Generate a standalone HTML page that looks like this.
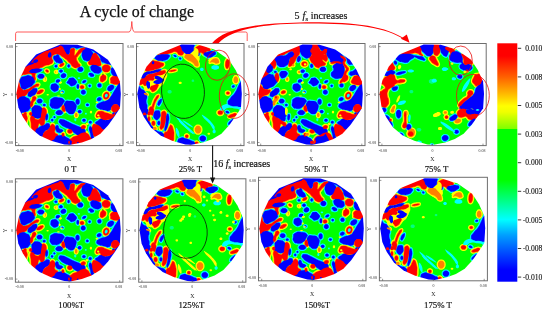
<!DOCTYPE html><html><head><meta charset="utf-8"><title>Figure</title><style>html,body{margin:0;padding:0;background:#fff}svg{display:block}
text{font-family:"Liberation Serif",serif}
.fr{fill:#f00}.fb{fill:#00f}.fy{fill:#ff0}.fc{fill:#0ff}.fg{fill:#0f0}.fo{fill:#ff8000}.fk{fill:#00ff80}
.hr{fill:none;stroke:#ff0;stroke-width:3.2;stroke-linejoin:round}.ir{fill:none;stroke:#ff9000;stroke-width:1.1}
.hb{fill:none;stroke:#0ff;stroke-width:2.6;stroke-linejoin:round}.ib{fill:none;stroke:#00a0ff;stroke-width:.9}
.ho{fill:none;stroke:#ff0;stroke-width:2.6;stroke-linejoin:round}
.tk{font-size:3.9px;fill:#333}.lb{font-size:8.8px;fill:#111;stroke:#111;stroke-width:.18}
.ax{font-size:5.8px;fill:#222}.ay{font-size:5.5px;fill:#333}
.cb{font-size:7.6px;fill:#111;stroke:#111;stroke-width:.12}</style></head><body>
<svg width="550" height="315" viewBox="0 0 550 315">
<defs><filter id="bl" x="-5%" y="-5%" width="110%" height="110%"><feGaussianBlur stdDeviation="0.45"/></filter>
<linearGradient id="cb" x1="0" y1="0" x2="0" y2="1">
<stop offset="0.0000" stop-color="#ff0000"/>
<stop offset="0.0530" stop-color="#ff0000"/>
<stop offset="0.1410" stop-color="#ff6000"/>
<stop offset="0.2170" stop-color="#ffc000"/>
<stop offset="0.2630" stop-color="#ffff00"/>
<stop offset="0.2880" stop-color="#f0ff00"/>
<stop offset="0.3130" stop-color="#c8ff00"/>
<stop offset="0.3380" stop-color="#a0ff00"/>
<stop offset="0.3586" stop-color="#80ff00"/>
<stop offset="0.3610" stop-color="#00ff00"/>
<stop offset="0.5730" stop-color="#00ff00"/>
<stop offset="0.6570" stop-color="#00ff80"/>
<stop offset="0.7390" stop-color="#00ffff"/>
<stop offset="0.8040" stop-color="#00a0ff"/>
<stop offset="0.8750" stop-color="#0050ff"/>
<stop offset="0.9510" stop-color="#0000ff"/>
<stop offset="1.0000" stop-color="#0000ff"/>
</linearGradient>
<path id="a0" d="M16.5 80.2C17.6 76.3 18.2 73.4 21.6 67.5C25 61.5 20.6 67.5 26.7 62.4C32.9 57.3 29.5 58.5 40.1 52.2C50.7 45.8 51.1 45.5 58.5 43.3C66 41.1 60.3 43.4 62.4 45.6C64.4 47.7 63 46.9 64.7 49.6C66.4 52.4 65.5 51.2 67.5 53.7C69.4 56.2 70.6 55.2 70.6 57C70.6 58.8 70 59.2 67.5 59.2C64.9 59.2 66 58.6 63 57C60 55.4 61.6 55.1 58.5 54.5C55.4 53.8 55.9 54 53.7 55.1C51.5 56.3 52.2 55.7 51.9 57.9C51.7 60.1 53.7 59.6 52.9 61.7C52.2 63.9 52 63.2 49.6 64.4C47.3 65.6 48.2 64.4 45.8 65.3C43.5 66.1 44.8 65.9 42.6 66.9C40.5 68 40.3 67.1 39.5 68.3C38.6 69.6 41 69.3 40 70.8C38.9 72.2 38 71.1 36.4 72.7C34.8 74.2 35.5 73.2 35.1 75.3C34.8 77.5 35.8 77.5 35.4 79.2C34.9 80.9 34.7 80.7 33.7 80.4C32.7 80.2 33 80.4 32.3 78.4C31.7 76.4 32.8 76.1 31.8 74.6C30.8 73.1 31.4 73.9 29.3 73.8C27.2 73.8 28 73.9 25.5 74.5C22.9 75 24 73.8 21.6 75.3C19.3 76.9 20.2 77.6 18.5 79.2C16.8 80.8 15.5 84.1 16.5 80.2Z"/>
<path id="a1" d="M38 60.2C38.2 61 38.3 60.8 37.7 61.6C37.1 62.4 37.3 62.3 36.2 62.7C35.1 63.1 35.4 63 34.4 62.8C33.4 62.6 33.6 62.7 33.3 61.9C33.1 61.2 33 61.4 33.6 60.6C34.2 59.8 34 59.9 35.1 59.5C36.2 59.1 35.9 59.1 36.9 59.4C37.8 59.6 37.7 59.5 38 60.2Z"/>
<path id="a2" d="M26.9 63.9C28.7 63 30.7 62.5 32.7 62.5C34.7 62.5 34.7 63 32.9 63.9C31.1 64.8 29.4 65.2 27.3 65.2C25.3 65.2 25.1 64.8 26.9 63.9Z"/>
<path id="a3" d="M29.8 70.7C31.2 69.4 30.8 69.1 34.5 68.7C38.2 68.2 38.7 68.6 41 69.2C43.3 69.9 42.5 69.6 41.4 70.7C40.4 71.7 40.5 71.6 37.9 72.4C35.2 73.1 35.9 73 33.4 73C30.8 73 31.4 73.1 30.2 72.4C29 71.6 28.4 71.9 29.8 70.7Z"/>
<path id="a4" d="M51.3 55.3C51.1 56.5 51.2 56.3 50.5 57.1C49.8 57.8 50 57.8 49.2 57.6C48.4 57.5 48.5 57.6 48.1 56.6C47.7 55.7 47.8 55.9 48 54.7C48.2 53.4 48.1 53.7 48.8 52.9C49.5 52.1 49.3 52.2 50.1 52.3C50.9 52.5 50.7 52.3 51.1 53.3C51.5 54.3 51.5 54 51.3 55.3Z"/>
<path id="a5" d="M24.2 64.3C27.2 59.6 25.5 58.8 36.9 51.5C48.4 44.3 51.1 44.5 58.5 42.6C66 40.8 61.4 44 59.3 46.1C57.2 48.2 59.1 45.9 52.2 48.9C45.3 51.8 46.8 49.5 38.7 55C30.6 60.5 32.8 62.3 28 65.4C23.2 68.5 21.2 68.9 24.2 64.3Z"/>
<path id="a6" d="M53.4 57C53.8 55.3 54.2 55.7 56.2 55.9C58.3 56.1 57.6 55.9 59.6 57.6C61.7 59.2 61.7 59.1 62.4 60.9C63.1 62.8 63.1 62.6 61.6 63.2C60.1 63.8 60.1 63.5 57.9 62.7C55.8 62 56.6 62.8 55.1 60.9C53.6 59 53.1 58.7 53.4 57Z"/>
<path id="a7" d="M44.2 76.4C44.2 77.4 44.4 77.2 43.3 77.9C42.2 78.7 42.5 78.6 41 78.6C39.5 78.6 39.8 78.7 38.7 77.9C37.6 77.2 37.7 77.4 37.7 76.4C37.7 75.3 37.6 75.5 38.7 74.8C39.8 74 39.5 74.1 41 74.1C42.5 74.1 42.2 74 43.3 74.8C44.4 75.5 44.2 75.3 44.2 76.4Z"/>
<path id="a8" d="M57.3 66.2C57.3 66.7 57.4 66.6 57 67C56.5 67.3 56.6 67.3 56 67.3C55.4 67.3 55.5 67.3 55.1 67C54.6 66.6 54.7 66.7 54.7 66.2C54.7 65.7 54.6 65.8 55.1 65.4C55.5 65 55.4 65.1 56 65.1C56.6 65.1 56.5 65 57 65.4C57.4 65.8 57.3 65.7 57.3 66.2Z"/>
<path id="a9" d="M62.7 71C62.7 71.7 62.7 71.5 62.2 72C61.7 72.4 61.8 72.4 61.1 72.4C60.4 72.4 60.5 72.4 60 72C59.5 71.5 59.5 71.7 59.5 71C59.5 70.4 59.5 70.5 60 70.1C60.5 69.6 60.4 69.7 61.1 69.7C61.8 69.7 61.7 69.6 62.2 70.1C62.7 70.5 62.7 70.4 62.7 71Z"/>
<path id="a10" d="M65.9 75.3C65.9 76.2 66 76.1 65.3 76.7C64.6 77.3 64.8 77.3 63.9 77.3C62.9 77.3 63.1 77.3 62.5 76.7C61.8 76.1 61.9 76.2 61.9 75.3C61.9 74.4 61.8 74.6 62.5 74C63.1 73.4 62.9 73.4 63.9 73.4C64.8 73.4 64.6 73.4 65.3 74C66 74.6 65.9 74.4 65.9 75.3Z"/>
<path id="a11" d="M59.7 80.9C59.7 81.6 59.8 81.4 59.2 81.9C58.6 82.3 58.8 82.3 57.9 82.3C57.1 82.3 57.2 82.3 56.6 81.9C56 81.4 56.1 81.6 56.1 80.9C56.1 80.3 56 80.4 56.6 80C57.2 79.5 57.1 79.6 57.9 79.6C58.8 79.6 58.6 79.5 59.2 80C59.8 80.4 59.7 80.3 59.7 80.9Z"/>
<path id="a12" d="M63.6 63.6C63.8 64 63.9 63.9 63.4 64.6C63 65.3 63.2 65.1 62.3 65.7C61.4 66.3 61.6 66.2 60.8 66.4C60 66.6 60.2 66.6 59.9 66.2C59.6 65.8 59.6 65.9 60 65.2C60.4 64.5 60.3 64.7 61.1 64.1C62 63.5 61.8 63.6 62.6 63.4C63.4 63.3 63.3 63.2 63.6 63.6Z"/>
<path id="a13" d="M48.4 71.8C48.2 72.2 48.3 72.2 47.7 72.2C47.1 72.2 47.2 72.3 46.6 71.9C45.9 71.5 46.1 71.6 45.8 71.1C45.5 70.5 45.5 70.6 45.7 70.2C46 69.8 45.9 69.9 46.5 69.8C47.1 69.8 47 69.8 47.6 70.1C48.2 70.5 48.1 70.4 48.4 71C48.7 71.5 48.7 71.4 48.4 71.8Z"/>
<path id="a14" d="M57.5 71.9C57.5 72.4 57.6 72.3 57.2 72.6C56.7 73 56.9 72.9 56.3 72.9C55.7 72.9 55.8 73 55.4 72.6C54.9 72.3 55 72.4 55 71.9C55 71.4 54.9 71.5 55.4 71.2C55.8 70.9 55.7 70.9 56.3 70.9C56.9 70.9 56.7 70.9 57.2 71.2C57.6 71.5 57.5 71.4 57.5 71.9Z"/>
<path id="a15" d="M45.9 79.2C45.9 79.9 46 79.8 45.6 80.3C45.3 80.9 45.4 80.8 44.9 80.8C44.4 80.8 44.5 80.9 44.2 80.3C43.9 79.8 43.9 79.9 43.9 79.2C43.9 78.4 43.9 78.5 44.2 78C44.5 77.4 44.4 77.5 44.9 77.5C45.4 77.5 45.3 77.4 45.6 78C46 78.5 45.9 78.4 45.9 79.2Z"/>
<path id="a16" d="M61.1 52.8C61.7 51.9 63.3 52.8 65.5 53.5C67.8 54.1 66.3 54.8 67.7 54.7C69.1 54.6 68.9 54.9 69.7 53.2C70.6 51.5 69.4 51.2 70.3 49.6C71.1 48 70.8 48.6 72.3 48.4C73.7 48.1 73.8 47.8 74.6 48.9C75.3 49.9 74.6 49.4 74.6 51.5C74.6 53.7 73.8 54.9 74.6 55.4C75.4 55.8 75.3 54.7 77 52.8C78.7 50.9 77.6 51.3 79.5 49.6C81.5 48 80.6 48.3 82.7 47.9C84.9 47.4 85.4 47.5 86 48.4C86.7 49.2 86.4 48.9 84.6 50.4C82.9 51.9 83.2 50.9 80.8 52.8C78.5 54.8 79.1 54.3 77.6 56.3C76.2 58.2 76.3 56.5 76.4 58.5C76.4 60.6 76.6 60 77.9 62.4C79.2 64.7 80.3 63.8 80.2 65.5C80.1 67.2 79.8 66.9 77.6 67.5C75.5 68 76.3 68.5 73.8 67.2C71.4 65.9 72.6 66.1 70.3 63.6C67.9 61.2 69 62.3 66.8 59.8C64.6 57.4 65.5 58.6 63.6 56.3C61.7 53.9 60.5 53.8 61.1 52.8Z"/>
<path id="a17" d="M61.1 43C68.8 41.8 78.1 42.8 86.5 44C95 45.2 88.2 45.5 86.5 46.6C84.8 47.7 84.5 46.8 81.5 47.3C78.4 47.9 79.5 48.2 77.4 48.4C75.3 48.5 76.6 48.1 75.1 47.9C73.6 47.6 74.4 47.2 72.8 47.6C71.2 48 71.4 47.2 70.3 49C69.2 50.8 70.4 51.2 69.5 52.9C68.6 54.7 68.8 54.6 67.5 54.2C66.1 53.8 66.8 53.8 65.4 51.7C64.1 49.5 64.8 50.6 63.4 47.7C61.9 44.8 53.4 44.2 61.1 43Z"/>
<path id="a18" d="M82.1 52.8C82.6 50 82.3 50.9 84.3 49.4C86.2 47.9 85.4 47.9 87.8 48.4C90.2 48.8 89.6 48.5 91.4 50.7C93.2 52.8 92.9 52 93.2 54.7C93.5 57.4 93.5 56.8 92.3 58.8C91 60.8 91.6 60.2 89.3 60.8C87.1 61.4 87.7 61.6 85.5 60.6C83.3 59.6 83.9 60.5 82.7 57.9C81.6 55.3 81.6 55.7 82.1 52.8Z"/>
<path id="a19" d="M94.2 53.2C96.6 52.3 95.8 52.9 98 56C100.2 59.1 100.3 59.1 100.8 62.4C101.3 65.7 101.7 65 99.5 65.9C97.3 66.9 97.7 65.8 94.2 65.2C90.6 64.5 90 66 88.8 63.9C87.6 61.8 88.8 62.4 90.6 58.8C92.4 55.2 91.7 54.1 94.2 53.2Z"/>
<path id="a20" d="M85.5 45.8C89.3 46.7 90.4 47 98 50.9C105.6 54.8 103.6 53.2 108.4 57.5C113.3 61.9 112.3 61.6 112.6 63.9C113 66.2 112 64.8 109.5 64.5C106.9 64.3 107.7 64.3 105 63.1C102.3 62 103.1 63.4 101.3 61.1C99.5 58.8 101.4 59 99.5 56.3C97.7 53.5 98.3 54.9 95.7 52.9C93.1 51 94.7 51.9 91.6 50.4C88.6 48.9 88.6 49.9 86.5 48.4C84.5 46.8 81.7 45 85.5 45.8Z"/>
<path id="a21" d="M110.3 68.3C110.3 70 110.5 69.7 109.1 70.9C107.8 72.1 108.2 71.9 106.3 71.9C104.4 71.9 104.8 72.1 103.4 70.9C102.1 69.7 102.2 70 102.2 68.3C102.2 66.7 102.1 67 103.4 65.8C104.8 64.6 104.4 64.8 106.3 64.8C108.2 64.8 107.8 64.6 109.1 65.8C110.5 67 110.3 66.7 110.3 68.3Z"/>
<path id="a22" d="M91.2 66C92.4 64.7 91.8 64.7 94.4 64.9C96.9 65 96.5 65 98.8 66.5C101.2 68 100.9 67.3 101.3 69.3C101.7 71.4 101.7 71.4 100 72.7C98.2 74 98.5 73.6 96 73.3C93.6 72.9 94.4 73.1 92.7 71.6C90.9 70.1 91.3 70.6 90.8 68.8C90.3 66.9 90 67.3 91.2 66Z"/>
<path id="a23" d="M112.1 67.9C113.9 67.2 114.1 65 116.8 68.6C119.5 72.3 120.8 76.1 120.1 78.7C119.5 81.4 117.5 78.3 114.8 76.6C112 74.9 113 75.7 111.8 73.7C110.7 71.7 111.1 72.5 111.2 70.5C111.3 68.6 110.2 68.5 112.1 67.9Z"/>
<path id="a24" d="M111.5 77.4C112.9 76.7 112.3 77.1 115.2 78C118.1 78.8 118.2 78.1 120.2 80C122.3 81.9 124 82.4 121.4 83.6C118.7 84.8 115.8 84.7 112.4 83.6C109 82.5 111.4 82.3 111.1 80.2C110.8 78.2 110.1 78.2 111.5 77.4Z"/>
<path id="a25" d="M104.7 74.6C104.7 75.5 104.8 75.3 104.2 76C103.6 76.7 103.7 76.6 102.8 76.6C101.9 76.6 102.1 76.7 101.5 76C100.9 75.3 100.9 75.5 100.9 74.6C100.9 73.6 100.9 73.8 101.5 73.1C102.1 72.5 101.9 72.5 102.8 72.5C103.7 72.5 103.6 72.5 104.2 73.1C104.8 73.8 104.7 73.6 104.7 74.6Z"/>
<path id="a26" d="M103.9 74.6C103.9 75.1 103.9 75 103.6 75.4C103.2 75.8 103.3 75.7 102.8 75.7C102.4 75.7 102.5 75.8 102.1 75.4C101.8 75 101.8 75.1 101.8 74.6C101.8 74 101.8 74.2 102.1 73.8C102.5 73.4 102.4 73.4 102.8 73.4C103.3 73.4 103.2 73.4 103.6 73.8C103.9 74.2 103.9 74 103.9 74.6Z"/>
<path id="a27" d="M104 78C103.7 79.2 103.8 78.9 103.1 79.6C102.4 80.3 102.5 80.2 101.8 80C101.1 79.8 101.2 80 100.9 79C100.6 78.1 100.6 78.4 100.9 77.2C101.2 76.1 101.1 76.3 101.8 75.7C102.6 75 102.4 75.1 103.1 75.3C103.8 75.4 103.7 75.3 104 76.2C104.3 77.2 104.3 76.9 104 78Z"/>
<path id="a28" d="M83.1 69.4C83.1 70.5 83.2 70.2 82.3 71C81.4 71.8 81.7 71.7 80.4 71.7C79.2 71.7 79.4 71.8 78.5 71C77.6 70.2 77.7 70.5 77.7 69.4C77.7 68.3 77.6 68.5 78.5 67.7C79.4 66.9 79.2 67 80.4 67C81.7 67 81.4 66.9 82.3 67.7C83.2 68.5 83.1 68.3 83.1 69.4Z"/>
<path id="a29" d="M65.8 74.8C66.1 75.8 66.2 75.6 65.6 76.5C65 77.5 65.3 77.3 64.1 77.7C63 78.1 63.2 78.1 62.2 77.8C61.1 77.4 61.3 77.6 61 76.6C60.6 75.7 60.6 75.9 61.2 74.9C61.7 74 61.5 74.1 62.7 73.7C63.8 73.3 63.5 73.3 64.6 73.7C65.6 74.1 65.5 73.9 65.8 74.8Z"/>
<path id="a30" d="M68.5 80.3C69.6 78.4 69.3 78.3 71.3 78C73.4 77.7 73.2 77.5 74.7 79.4C76.2 81.3 78 82.2 75.8 83.6C73.6 85.1 70.4 84.8 68 83.6C65.5 82.5 67.4 82.1 68.5 80.3Z"/>
<path id="a31" d="M93.6 75.7C93.3 76.5 93.4 76.3 92.5 76.6C91.5 76.9 91.7 76.9 90.6 76.5C89.6 76.1 89.8 76.3 89.2 75.4C88.6 74.6 88.7 74.8 88.9 74C89.2 73.2 89.1 73.3 90.1 73.1C91 72.8 90.8 72.8 91.9 73.2C93 73.6 92.8 73.4 93.3 74.2C93.9 75.1 93.9 74.9 93.6 75.7Z"/>
<path id="a32" d="M63.8 63.7C64 64.2 64.1 64 63.6 64.8C63.1 65.5 63.2 65.3 62.3 65.9C61.3 66.4 61.5 66.4 60.7 66.4C59.8 66.5 60 66.5 59.7 66.1C59.4 65.6 59.4 65.8 59.9 65.1C60.4 64.3 60.2 64.5 61.2 63.9C62.1 63.4 61.9 63.5 62.8 63.4C63.6 63.3 63.5 63.3 63.8 63.7Z"/>
<path id="a33" d="M69.8 65.9C69.8 66.6 69.9 66.5 69.5 67C69.1 67.4 69.3 67.4 68.7 67.4C68.2 67.4 68.3 67.4 67.9 67C67.6 66.5 67.6 66.6 67.6 65.9C67.6 65.2 67.6 65.4 67.9 64.9C68.3 64.4 68.2 64.5 68.7 64.5C69.3 64.5 69.1 64.4 69.5 64.9C69.9 65.4 69.8 65.2 69.8 65.9Z"/>
<path id="a34" d="M62.3 71.3C62.3 71.8 62.4 71.7 61.9 72.1C61.4 72.4 61.5 72.4 60.8 72.4C60.2 72.4 60.3 72.4 59.8 72.1C59.3 71.7 59.4 71.8 59.4 71.3C59.4 70.7 59.3 70.9 59.8 70.5C60.3 70.1 60.2 70.2 60.8 70.2C61.5 70.2 61.4 70.1 61.9 70.5C62.4 70.9 62.3 70.7 62.3 71.3Z"/>
<path id="a35" d="M59.3 57.5C59.3 59 59.4 58.7 58.8 59.7C58.2 60.8 58.4 60.7 57.5 60.7C56.7 60.7 56.9 60.8 56.3 59.7C55.7 58.7 55.7 59 55.7 57.5C55.7 56 55.7 56.4 56.3 55.3C56.9 54.3 56.7 54.4 57.5 54.4C58.4 54.4 58.2 54.3 58.8 55.3C59.4 56.4 59.3 56 59.3 57.5Z"/>
<path id="a36" d="M57.8 71.9C57.8 72.5 57.8 72.4 57.5 72.8C57.1 73.2 57.2 73.2 56.8 73.2C56.3 73.2 56.4 73.2 56 72.8C55.7 72.4 55.7 72.5 55.7 71.9C55.7 71.3 55.7 71.4 56 71C56.4 70.6 56.3 70.6 56.8 70.6C57.2 70.6 57.1 70.6 57.5 71C57.8 71.4 57.8 71.3 57.8 71.9Z"/>
<path id="a37" d="M15.9 73.7C17.5 65.4 19 71.4 20.1 74.4C21.3 77.3 18.8 78 19.3 82.6C19.9 87.3 19.2 86 21.6 88.4C24.1 90.7 22.9 90.5 26.7 89.6C30.5 88.8 29.5 87.7 33.1 85.8C36.7 83.9 35.8 83.9 37.5 83.9C39.3 83.9 39.5 84.5 38.4 85.8C37.4 87.1 37.4 85.8 34.4 87.7C31.3 89.6 32.2 89 29.3 91.5C26.3 94.1 28 93.6 25.5 95.4C22.9 97.1 24.2 95.5 21.6 96.9C19.1 98.2 19.9 98.6 17.8 99.4C15.7 100.3 15.9 108 15.3 99.4C14.6 90.9 14.3 82.1 15.9 73.7Z"/>
<path id="a38" d="M20.4 79.1C21.8 76.3 21.4 77.3 24.8 76.3C28.2 75.3 27.4 74.7 30.5 76C33.7 77.3 33.5 77.2 34.4 80.1C35.2 82.9 35.2 82 33.1 84.5C31 87.1 31.4 86.2 28 87.7C24.6 89.2 25.5 90.1 22.9 89C20.4 87.9 21.2 87.9 20.4 84.5C19.5 81.2 18.9 81.8 20.4 79.1Z"/>
<path id="a39" d="M28 93.9C28.4 91.9 28.6 92.4 30.8 90.6C33.1 88.7 32.6 88.5 34.7 88.3C36.9 88.1 36.8 88.3 37.2 90C37.6 91.7 37.2 91.5 35.9 93.4C34.5 95.2 35.1 94.5 33.1 95.6C31 96.7 31.4 97.3 29.7 96.7C28 96.2 27.6 96 28 93.9Z"/>
<path id="a40" d="M15.3 99.8C16.1 93.9 15.7 100.2 17.8 99.2C19.9 98.1 18.7 97.1 21.6 96.6C24.6 96.1 24 96.4 26.7 97.7C29.5 98.9 28.6 97.8 29.9 100.5C31.3 103.1 31.1 102.4 30.8 105.5C30.5 108.7 30.9 107.8 28.9 110C26.9 112.2 27.2 111.1 24.8 112.2C22.4 113.2 22.3 111.6 21.6 113.2C21 114.8 25 115.7 22.9 117C20.8 118.3 17.8 122.7 15.3 117C12.7 111.3 14.4 105.8 15.3 99.8Z"/>
<path id="a41" d="M33.1 106.8C34.8 105.1 34.2 105.3 36.9 105.5C39.7 105.8 39 105.3 41.4 107.5C43.7 109.6 43.4 108.7 43.9 111.9C44.5 115.1 46.6 115.3 43 117C39.4 118.7 36.8 119.1 33.1 117C29.4 114.9 31.8 114 31.8 110.6C31.8 107.2 31.4 108.5 33.1 106.8Z"/>
<path id="a42" d="M42.3 108.8C42.9 107.5 43.7 107.3 45.1 108.4C46.4 109.4 46.2 109.3 46.4 112C46.6 114.7 46.9 115 45.6 116.5C44.3 117.9 43.3 117.8 42.5 116.5C41.7 115.1 43.2 115.1 43.2 112.5C43.1 110 41.6 110.2 42.3 108.8Z"/>
<path id="a43" d="M33.1 96.7C34.4 95.7 35.1 96.1 35.9 97.2C36.6 98.3 36.2 98.3 35.3 100C34.4 101.7 34.2 100.4 33.3 102.3C32.4 104.1 33.6 104.2 32.6 105.6C31.6 107 31.2 107.1 30.4 106.4C29.6 105.7 29.7 105.5 30.3 103.4C30.8 101.2 31 102.3 31.9 100C32.9 97.8 31.8 97.6 33.1 96.7Z"/>
<path id="a44" d="M43.3 90.2C43.6 90.9 43.6 90.7 42.8 91.6C42 92.6 42.3 92.4 40.8 93.2C39.3 94 39.6 93.9 38.3 94C37.1 94.2 37.2 94.2 36.9 93.6C36.6 93 36.5 93.2 37.4 92.2C38.2 91.2 37.9 91.4 39.4 90.6C40.9 89.8 40.6 90 41.8 89.8C43.1 89.7 42.9 89.6 43.3 90.2Z"/>
<path id="a45" d="M42.3 101.1C42.3 102.1 42.4 101.9 41.5 102.7C40.7 103.4 40.9 103.3 39.7 103.3C38.5 103.3 38.7 103.4 37.9 102.7C37 101.9 37.1 102.1 37.1 101.1C37.1 100 37 100.3 37.9 99.5C38.7 98.8 38.5 98.9 39.7 98.9C40.9 98.9 40.7 98.8 41.5 99.5C42.4 100.3 42.3 100 42.3 101.1Z"/>
<path id="a46" d="M45.6 105C45.6 105.6 45.7 105.5 45.2 105.8C44.8 106.2 44.9 106.2 44.3 106.2C43.7 106.2 43.8 106.2 43.3 105.8C42.9 105.5 42.9 105.6 42.9 105C42.9 104.5 42.9 104.6 43.3 104.2C43.8 103.9 43.7 103.9 44.3 103.9C44.9 103.9 44.8 103.9 45.2 104.2C45.7 104.6 45.6 104.5 45.6 105Z"/>
<path id="a47" d="M50.8 86.6C51.2 84.3 51.4 84.3 53.6 83.8C55.9 83.2 55.9 83.4 57.6 84.9C59.2 86.4 58.9 86.2 58.6 88.3C58.2 90.3 58.4 90.3 56.4 91.1C54.4 91.8 54.4 92.1 52.5 90.6C50.6 89.1 50.5 88.9 50.8 86.6Z"/>
<path id="a48" d="M59.9 80C60.1 80.5 60.2 80.4 59.7 81C59.3 81.7 59.5 81.6 58.6 82.1C57.7 82.6 57.9 82.5 57.1 82.5C56.3 82.6 56.5 82.6 56.2 82.2C55.9 81.7 55.9 81.9 56.3 81.2C56.8 80.5 56.6 80.6 57.5 80.1C58.3 79.6 58.1 79.7 58.9 79.7C59.7 79.6 59.6 79.6 59.9 80Z"/>
<path id="a49" d="M52.2 98.5C54.9 97 54.6 97.2 58.5 97.7C62.4 98.1 62.4 97.8 63.9 99.8C65.4 101.8 64.5 101.1 63.1 103.6C61.8 106.2 62.6 105.8 59.8 107.5C57 109.2 57.7 108.9 54.7 108.7C51.8 108.5 52.4 108.9 50.9 106.8C49.4 104.7 49.8 105.1 50.3 102.4C50.7 99.6 49.4 100.1 52.2 98.5Z"/>
<path id="a50" d="M64.9 102.4C66.6 100 66.6 100.8 70 101.1C73.4 101.4 73.1 100.7 75.1 103.3C77.1 105.8 76.7 105.8 76 108.7C75.2 111.7 75.6 111 72.8 112.2C70 113.3 70.3 113.5 67.7 112.2C65.1 110.8 65.8 111.4 64.9 108.1C64 104.8 63.2 104.7 64.9 102.4Z"/>
<path id="a51" d="M63.1 105.4C64.1 105 64.6 106 65 108.2C65.4 110.3 65.3 111.4 64.3 111.7C63.3 112.1 62.4 111.4 61.9 109.3C61.5 107.1 62.1 105.7 63.1 105.4Z"/>
<path id="a52" d="M68.6 80.3C69.2 78.1 69.2 78.3 71.4 78.1C73.6 77.9 73.8 78.1 75.3 79.8C76.9 81.4 76.9 81.1 76.1 83.1C75.4 85.1 75.2 85.1 73.1 85.7C71 86.3 71.2 86.6 69.7 84.8C68.2 83 68 82.6 68.6 80.3Z"/>
<path id="a53" d="M79.1 86.5C79.1 87.5 79.2 87.3 78.8 88C78.4 88.8 78.5 88.7 77.9 88.7C77.3 88.7 77.4 88.8 77 88C76.6 87.3 76.7 87.5 76.7 86.5C76.7 85.4 76.6 85.6 77 84.9C77.4 84.1 77.3 84.2 77.9 84.2C78.5 84.2 78.4 84.1 78.8 84.9C79.2 85.6 79.1 85.4 79.1 86.5Z"/>
<path id="a54" d="M84 87.1C84 87.9 84.1 87.7 83.4 88.3C82.8 88.8 83 88.8 82.1 88.8C81.2 88.8 81.4 88.8 80.7 88.3C80.1 87.7 80.2 87.9 80.2 87.1C80.2 86.3 80.1 86.5 80.7 85.9C81.4 85.3 81.2 85.4 82.1 85.4C83 85.4 82.8 85.3 83.4 85.9C84.1 86.5 84 86.3 84 87.1Z"/>
<path id="a55" d="M79.5 101.7C79.5 103 79.6 102.8 79 103.7C78.3 104.6 78.5 104.5 77.6 104.5C76.7 104.5 76.9 104.6 76.3 103.7C75.7 102.8 75.7 103 75.7 101.7C75.7 100.4 75.7 100.7 76.3 99.7C76.9 98.8 76.7 98.9 77.6 98.9C78.5 98.9 78.3 98.8 79 99.7C79.6 100.7 79.5 100.4 79.5 101.7Z"/>
<path id="a56" d="M81.2 111.7C81.2 112.3 81.3 112.2 80.7 112.6C80.2 113.1 80.3 113 79.5 113C78.8 113 78.9 113.1 78.4 112.6C77.8 112.2 77.9 112.3 77.9 111.7C77.9 111 77.8 111.2 78.4 110.7C78.9 110.3 78.8 110.3 79.5 110.3C80.3 110.3 80.2 110.3 80.7 110.7C81.3 111.2 81.2 111 81.2 111.7Z"/>
<path id="a57" d="M62.5 112.8C62.5 113.8 62.7 113.6 61.6 114.2C60.4 114.9 60.8 114.8 59.2 114.8C57.6 114.8 57.9 114.9 56.8 114.2C55.7 113.6 55.8 113.8 55.8 112.8C55.8 111.9 55.7 112 56.8 111.4C57.9 110.7 57.6 110.8 59.2 110.8C60.8 110.8 60.4 110.7 61.6 111.4C62.7 112 62.5 111.9 62.5 112.8Z"/>
<path id="a58" d="M63.5 91.9C63.5 92.4 63.5 92.3 63.2 92.6C62.8 93 62.9 92.9 62.4 92.9C61.8 92.9 61.9 93 61.6 92.6C61.2 92.3 61.2 92.4 61.2 91.9C61.2 91.5 61.2 91.6 61.6 91.2C61.9 90.9 61.8 90.9 62.4 90.9C62.9 90.9 62.8 90.9 63.2 91.2C63.5 91.6 63.5 91.5 63.5 91.9Z"/>
<path id="a59" d="M45.4 79.5C45.4 80.1 45.5 80 45.2 80.4C44.9 80.9 45 80.9 44.5 80.9C44.1 80.9 44.2 80.9 43.9 80.4C43.6 80 43.7 80.1 43.7 79.5C43.7 78.8 43.6 78.9 43.9 78.5C44.2 78 44.1 78.1 44.5 78.1C45 78.1 44.9 78 45.2 78.5C45.5 78.9 45.4 78.8 45.4 79.5Z"/>
<path id="a60" d="M48.9 94.7C48.9 95.1 48.9 95 48.5 95.3C48.2 95.5 48.3 95.5 47.7 95.5C47.2 95.5 47.3 95.5 46.9 95.3C46.5 95 46.6 95.1 46.6 94.7C46.6 94.4 46.5 94.4 46.9 94.2C47.3 93.9 47.2 94 47.7 94C48.3 94 48.2 93.9 48.5 94.2C48.9 94.4 48.9 94.4 48.9 94.7Z"/>
<path id="a61" d="M61.6 82C61.8 82.4 61.8 82.3 61.5 82.7C61.3 83.2 61.4 83.1 60.9 83.4C60.4 83.7 60.5 83.7 60 83.6C59.5 83.6 59.6 83.6 59.4 83.3C59.1 82.9 59.1 83 59.4 82.5C59.6 82.1 59.5 82.2 60 81.9C60.5 81.6 60.4 81.6 60.9 81.6C61.4 81.7 61.3 81.6 61.6 82Z"/>
<path id="a62" d="M59.8 96C59.8 96.3 59.9 96.2 59.4 96.5C59 96.7 59.1 96.6 58.5 96.6C57.9 96.6 58.1 96.7 57.6 96.5C57.2 96.2 57.3 96.3 57.3 96C57.3 95.7 57.2 95.8 57.6 95.6C58.1 95.3 57.9 95.4 58.5 95.4C59.1 95.4 59 95.3 59.4 95.6C59.9 95.8 59.8 95.7 59.8 96Z"/>
<path id="a63" d="M32.3 113.8C32.3 114.6 32.3 114.4 31.8 114.9C31.3 115.5 31.5 115.4 30.8 115.4C30.1 115.4 30.3 115.5 29.8 114.9C29.3 114.4 29.3 114.6 29.3 113.8C29.3 113.1 29.3 113.2 29.8 112.7C30.3 112.2 30.1 112.3 30.8 112.3C31.5 112.3 31.3 112.2 31.8 112.7C32.3 113.2 32.3 113.1 32.3 113.8Z"/>
<path id="a64" d="M26.5 113.8C26.5 114.6 26.6 114.4 26.2 114.9C25.7 115.5 25.8 115.4 25.2 115.4C24.6 115.4 24.7 115.5 24.2 114.9C23.8 114.4 23.9 114.6 23.9 113.8C23.9 113.1 23.8 113.2 24.2 112.7C24.7 112.2 24.6 112.3 25.2 112.3C25.8 112.3 25.7 112.2 26.2 112.7C26.6 113.2 26.5 113.1 26.5 113.8Z"/>
<path id="a65" d="M122.2 81.4C121.3 73.9 121.3 80.9 119.6 82.6C117.9 84.3 119 83.5 117.1 86.5C115.2 89.4 116 88.2 113.9 91.5C111.8 94.9 113.1 93.7 110.7 96.6C108.4 99.6 110.3 98.5 106.9 100.5C103.5 102.4 103.9 100.7 100.5 102.4C97.2 104.1 97.2 103.4 96.7 105.5C96.3 107.7 96.7 107.2 99.3 108.7C101.8 110.2 101 109.4 104.4 110C107.8 110.6 106.9 111.7 109.5 110.6C112 109.6 109.9 108.9 112 106.8C114.1 104.7 112.4 104.9 115.8 104.3C119.2 103.6 120.1 112.5 122.2 104.9C124.3 97.3 123 88.8 122.2 81.4Z"/>
<path id="a66" d="M111.2 77.9C112.5 76.4 112.1 76.4 114.6 76.3C117.1 76.2 116.7 75.8 118.7 77.6C120.8 79.5 121.7 79.6 120.7 81.8C119.8 83.9 118.7 83.7 115.9 84.1C113.1 84.5 114.1 84.2 112.3 83C110.6 81.9 111 82.4 110.7 80.7C110.3 78.9 109.9 79.3 111.2 77.9Z"/>
<path id="a67" d="M100.3 79.3C100.5 77.2 100.5 76.6 102 75.2C103.5 73.8 103.4 74.2 104.8 75.2C106.1 76.2 106.3 76.3 106 78.2C105.7 80.2 105.3 79.9 103.8 81C102.2 82.2 102.6 82.2 101.4 81.7C100.2 81.1 100.1 81.5 100.3 79.3Z"/>
<path id="a68" d="M113.7 85.9C114.3 86.9 114.3 86.6 113.8 88C113.3 89.3 113.5 89 112.1 90C110.8 91 111.1 90.9 109.7 90.9C108.2 90.9 108.5 91 107.8 90C107.1 89.1 107.1 89.4 107.7 88C108.2 86.7 107.9 86.9 109.3 86C110.7 85 110.4 85.1 111.8 85.1C113.3 85.1 113 85 113.7 85.9Z"/>
<path id="a69" d="M108.9 96.6C108.3 98.2 108.6 97.9 107.3 98.7C106 99.5 106.3 99.4 105 99C103.8 98.5 104 98.8 103.5 97.3C103.1 95.9 103.1 96.2 103.6 94.7C104.2 93.1 104 93.4 105.3 92.6C106.6 91.8 106.3 91.8 107.5 92.3C108.7 92.7 108.5 92.5 109 93.9C109.5 95.4 109.5 95 108.9 96.6Z"/>
<path id="a70" d="M107.6 96.1C107.3 96.9 107.4 96.8 106.7 97.2C106.1 97.7 106.2 97.6 105.6 97.4C105 97.2 105.1 97.3 104.9 96.5C104.7 95.8 104.7 96 105 95.1C105.3 94.3 105.1 94.4 105.8 94C106.5 93.6 106.3 93.6 106.9 93.8C107.5 94.1 107.4 93.9 107.7 94.7C107.9 95.4 107.9 95.3 107.6 96.1Z"/>
<path id="a71" d="M119.5 108.3C119.5 110.2 119.6 109.9 118.3 111.2C116.9 112.5 117.3 112.4 115.4 112.4C113.5 112.4 113.9 112.5 112.6 111.2C111.2 109.9 111.4 110.2 111.4 108.3C111.4 106.4 111.2 106.8 112.6 105.5C113.9 104.2 113.5 104.3 115.4 104.3C117.3 104.3 116.9 104.2 118.3 105.5C119.6 106.8 119.5 106.4 119.5 108.3Z"/>
<path id="a72" d="M104 113.6C104 114.4 104.1 114.2 103.2 114.8C102.2 115.4 102.5 115.4 101.2 115.4C99.9 115.4 100.1 115.4 99.2 114.8C98.3 114.2 98.4 114.4 98.4 113.6C98.4 112.7 98.3 112.9 99.2 112.3C100.1 111.7 99.9 111.8 101.2 111.8C102.5 111.8 102.2 111.7 103.2 112.3C104.1 112.9 104 112.7 104 113.6Z"/>
<path id="a73" d="M115.5 113.8C115.5 114.5 115.5 114.3 115 114.8C114.5 115.2 114.6 115.2 113.9 115.2C113.2 115.2 113.3 115.2 112.8 114.8C112.3 114.3 112.3 114.5 112.3 113.8C112.3 113.2 112.3 113.3 112.8 112.9C113.3 112.4 113.2 112.5 113.9 112.5C114.6 112.5 114.5 112.4 115 112.9C115.5 113.3 115.5 113.2 115.5 113.8Z"/>
<path id="a74" d="M101.4 98.4C101.6 99.2 101.7 99 101.2 99.8C100.7 100.5 100.8 100.4 99.8 100.8C98.9 101.1 99.1 101.1 98.2 100.8C97.3 100.6 97.4 100.7 97.2 99.9C96.9 99.2 96.9 99.4 97.4 98.6C97.9 97.8 97.7 98 98.7 97.6C99.7 97.2 99.5 97.3 100.4 97.5C101.2 97.8 101.1 97.7 101.4 98.4Z"/>
<path id="a75" d="M101.4 85.4C101.4 86.3 101.5 86.1 100.9 86.8C100.2 87.4 100.4 87.3 99.5 87.3C98.6 87.3 98.8 87.4 98.2 86.8C97.5 86.1 97.6 86.3 97.6 85.4C97.6 84.5 97.5 84.7 98.2 84.1C98.8 83.5 98.6 83.5 99.5 83.5C100.4 83.5 100.2 83.5 100.9 84.1C101.5 84.7 101.4 84.5 101.4 85.4Z"/>
<path id="a76" d="M85.6 92.2C85.6 93.2 85.7 93 84.9 93.8C84.2 94.5 84.4 94.4 83.4 94.4C82.3 94.4 82.5 94.5 81.8 93.8C81 93 81.1 93.2 81.1 92.2C81.1 91.1 81 91.3 81.8 90.6C82.5 89.9 82.3 89.9 83.4 89.9C84.4 89.9 84.2 89.9 84.9 90.6C85.7 91.3 85.6 91.1 85.6 92.2Z"/>
<path id="a77" d="M86 80.6C86.3 81.1 86.3 80.9 85.9 81.6C85.5 82.3 85.6 82.1 84.8 82.6C84 83.1 84.2 83 83.4 83C82.6 83 82.8 83.1 82.5 82.6C82.2 82.2 82.2 82.3 82.6 81.6C83 81 82.9 81.1 83.7 80.6C84.5 80.2 84.3 80.2 85.1 80.2C85.9 80.2 85.7 80.2 86 80.6Z"/>
<path id="a78" d="M90.8 85.8C90.8 86.3 90.9 86.2 90.5 86.6C90.1 87 90.3 86.9 89.7 86.9C89.2 86.9 89.3 87 88.9 86.6C88.6 86.2 88.6 86.3 88.6 85.8C88.6 85.3 88.6 85.4 88.9 85C89.3 84.7 89.2 84.7 89.7 84.7C90.3 84.7 90.1 84.7 90.5 85C90.9 85.4 90.8 85.3 90.8 85.8Z"/>
<path id="a79" d="M88.8 104.9C88.8 105.4 88.8 105.3 88.4 105.7C87.9 106.1 88.1 106 87.4 106C86.8 106 86.9 106.1 86.5 105.7C86 105.3 86.1 105.4 86.1 104.9C86.1 104.4 86 104.5 86.5 104.1C86.9 103.7 86.8 103.8 87.4 103.8C88.1 103.8 87.9 103.7 88.4 104.1C88.8 104.5 88.8 104.4 88.8 104.9Z"/>
<path id="a80" d="M61.9 82.1C62 82.5 62.1 82.4 61.7 82.9C61.3 83.3 61.4 83.2 60.8 83.5C60.1 83.7 60.2 83.7 59.7 83.6C59.1 83.5 59.2 83.6 59 83.2C58.9 82.8 58.8 82.9 59.2 82.4C59.6 82 59.5 82 60.1 81.8C60.8 81.6 60.7 81.6 61.3 81.7C61.8 81.8 61.7 81.7 61.9 82.1Z"/>
<path id="a81" d="M60.8 89C60.8 89.5 60.9 89.4 60.5 89.7C60.2 90.1 60.3 90 59.8 90C59.3 90 59.4 90.1 59.1 89.7C58.8 89.4 58.8 89.5 58.8 89C58.8 88.5 58.8 88.6 59.1 88.3C59.4 87.9 59.3 88 59.8 88C60.3 88 60.2 87.9 60.5 88.3C60.9 88.6 60.8 88.5 60.8 89Z"/>
<path id="a82" d="M62.9 92.4C62.9 92.9 62.9 92.8 62.5 93.1C62.2 93.4 62.3 93.3 61.7 93.3C61.2 93.3 61.3 93.4 60.9 93.1C60.5 92.8 60.6 92.9 60.6 92.4C60.6 92 60.5 92.1 60.9 91.8C61.3 91.5 61.2 91.5 61.7 91.5C62.3 91.5 62.2 91.5 62.5 91.8C62.9 92.1 62.9 92 62.9 92.4Z"/>
<path id="a83" d="M92.1 112.2C92.1 112.8 92.2 112.6 91.8 113.1C91.4 113.5 91.5 113.4 91 113.4C90.5 113.4 90.6 113.5 90.2 113.1C89.8 112.6 89.9 112.8 89.9 112.2C89.9 111.6 89.8 111.7 90.2 111.3C90.6 110.8 90.5 110.9 91 110.9C91.5 110.9 91.4 110.8 91.8 111.3C92.2 111.7 92.1 111.6 92.1 112.2Z"/>
<path id="a84" d="M98.3 102.5C98.3 102.9 98.3 102.8 97.9 103.1C97.5 103.4 97.6 103.4 97 103.4C96.4 103.4 96.5 103.4 96.1 103.1C95.7 102.8 95.7 102.9 95.7 102.5C95.7 102.1 95.7 102.2 96.1 101.9C96.5 101.6 96.4 101.6 97 101.6C97.6 101.6 97.5 101.6 97.9 101.9C98.3 102.2 98.3 102.1 98.3 102.5Z"/>
<path id="a85" d="M80.1 78.2C80.1 78.6 80.1 78.5 79.7 78.8C79.3 79.1 79.4 79.1 78.9 79.1C78.4 79.1 78.5 79.1 78.1 78.8C77.7 78.5 77.8 78.6 77.8 78.2C77.8 77.8 77.7 77.8 78.1 77.6C78.5 77.3 78.4 77.3 78.9 77.3C79.4 77.3 79.3 77.3 79.7 77.6C80.1 77.8 80.1 77.8 80.1 78.2Z"/>
<path id="a86" d="M90.2 76.3C90.2 76.7 90.3 76.6 89.9 76.9C89.5 77.2 89.6 77.2 89.1 77.2C88.6 77.2 88.7 77.2 88.3 76.9C87.9 76.6 87.9 76.7 87.9 76.3C87.9 75.9 87.9 75.9 88.3 75.6C88.7 75.3 88.6 75.4 89.1 75.4C89.6 75.4 89.5 75.3 89.9 75.6C90.3 75.9 90.2 75.9 90.2 76.3Z"/>
<path id="a87" d="M94 75.3C94 75.7 94.1 75.6 93.7 75.9C93.3 76.2 93.4 76.2 92.9 76.2C92.4 76.2 92.5 76.2 92.1 75.9C91.7 75.6 91.8 75.7 91.8 75.3C91.8 74.8 91.7 74.9 92.1 74.6C92.5 74.3 92.4 74.4 92.9 74.4C93.4 74.4 93.3 74.3 93.7 74.6C94.1 74.9 94 74.8 94 75.3Z"/>
<path id="a88" d="M21.5 115.4C22 113.6 22.9 113.7 24.8 114.3C26.7 114.9 26.5 114.9 27.2 117.1C27.8 119.3 27.3 119 26.7 121C26.1 123.1 26.6 123.6 25.4 123.3C24.2 122.9 24.4 122.5 23.1 119.9C21.8 117.3 20.9 117.3 21.5 115.4Z"/>
<path id="a89" d="M30.5 117.5C31.2 115.2 31.2 115.6 33.1 116.3C35 116.9 33.9 118.8 36.3 119.5C38.6 120.1 38.4 120.3 40.1 118.2C41.8 116.1 40.5 116.3 41.4 113.1C42.2 109.9 41.3 109.9 42.6 108.6C44 107.4 44.3 107.4 45.4 109.3C46.6 111.2 46.3 110.5 46.1 114.4C45.9 118.2 45.5 117.3 44.8 120.7C44.1 124.1 45.1 122.8 44 124.5C42.9 126.2 43 126.2 41.5 125.8C40 125.5 40.6 123.5 39.5 123.5C38.4 123.5 38.8 124 38.2 125.8C37.6 127.7 38.7 126.9 37.7 129.1C36.7 131.3 36.7 131.6 35.1 132.4C33.6 133.2 34.3 132.9 33.1 131.5C31.9 130.2 32.2 131.1 31.6 128.4C30.9 125.6 31.4 126.9 31.1 123.3C30.7 119.7 29.9 119.9 30.5 117.5Z"/>
<path id="a90" d="M35.4 131.5C35.8 128.5 36.6 129.2 39.5 127.1C42.3 125 41.2 126.5 43.9 125.2C46.7 123.9 45.7 123.1 47.7 123.3C49.7 123.5 49.6 123.9 49.9 125.8C50.2 127.7 50.3 127.1 48.6 129C46.9 130.9 46.7 129.4 44.8 131.5C42.9 133.7 44 133 42.9 135.4C41.7 137.7 42.9 138.2 41.4 138.5C39.8 138.8 40.2 138.6 38.2 136.3C36.2 133.9 35 134.6 35.4 131.5Z"/>
<path id="a91" d="M43.5 133.5C45.1 130.3 45.9 131.8 48.4 129C50.8 126.2 49.2 126.7 50.9 125.2C52.6 123.7 51.9 123.5 53.5 124.5C55 125.6 55.1 125.8 55.5 128.4C55.9 130.9 53.9 129.8 54.7 132.2C55.6 134.5 57.4 133.2 58 135.4C58.7 137.5 58.3 134.9 56.8 138.5C55.2 142.2 57.1 145.2 53.5 146.2C49.8 147.1 49.1 143.9 45.8 141.3C42.5 138.8 44.3 141.2 43.5 138.5C42.8 135.9 41.9 136.6 43.5 133.5Z"/>
<path id="a92" d="M50.9 142.4C51.8 139.2 53.9 140.2 57.3 137.9C60.7 135.6 58.5 135.8 61.1 135.4C63.6 134.9 62.8 135.2 64.9 136.6C67 138.1 65.8 137.9 67.5 139.8C69.2 141.7 69.4 139.8 70 142.4C70.6 144.9 74.5 145.8 69.4 147.5C64.3 149.2 60.9 149.2 54.7 147.5C48.6 145.8 50.1 145.5 50.9 142.4Z"/>
<path id="a93" d="M59.2 120.7C59.8 119.2 59.6 119.2 62.4 119.5C65.1 119.7 63.6 119.7 67.5 121.4C71.3 123.1 69.6 122.6 73.8 124.5C78.1 126.5 76.6 125.6 80.2 127.1C83.8 128.6 83.2 126.2 84.6 129C86.1 131.8 86.1 133 84.6 135.4C83.2 137.7 83.4 136.6 80.2 136C77 135.4 78.5 135.6 75.1 133.5C71.7 131.3 73.4 131.8 70 129.6C66.6 127.5 68.1 129 64.9 127.1C61.7 125.2 62.4 126 60.5 123.9C58.5 121.8 58.5 122.2 59.2 120.7Z"/>
<path id="a94" d="M72.2 131.3C72.2 132.2 72.3 132 71.6 132.6C70.8 133.3 71.1 133.2 70 133.2C68.9 133.2 69.2 133.3 68.4 132.6C67.7 132 67.8 132.2 67.8 131.3C67.8 130.4 67.7 130.6 68.4 129.9C69.2 129.3 68.9 129.4 70 129.4C71.1 129.4 70.8 129.3 71.6 129.9C72.3 130.6 72.2 130.4 72.2 131.3Z"/>
<path id="a95" d="M68.1 141.3C68.9 138.4 68.9 140.1 71.3 138.5C73.6 137 72.1 137.2 75.1 136.6C78.1 136 77 137.2 80.2 136.8C83.4 136.3 82.9 131.8 84.6 135.4C86.3 138.9 90.6 143.4 85.3 147.5C80 151.5 74.5 149.5 68.7 147.5C63 145.4 67.2 144.3 68.1 141.3Z"/>
<path id="a96" d="M79.6 143C79.6 143.5 79.6 143.4 79.3 143.8C79 144.2 79.1 144.1 78.7 144.1C78.2 144.1 78.3 144.2 78 143.8C77.7 143.4 77.8 143.5 77.8 143C77.8 142.5 77.7 142.6 78 142.2C78.3 141.8 78.2 141.9 78.7 141.9C79.1 141.9 79 141.8 79.3 142.2C79.6 142.6 79.6 142.5 79.6 143Z"/>
<path id="a97" d="M71.8 141.7C71.8 142.3 71.8 142.1 71.5 142.5C71.2 142.9 71.3 142.8 70.9 142.8C70.5 142.8 70.6 142.9 70.3 142.5C70 142.1 70 142.3 70 141.7C70 141.2 70 141.3 70.3 140.9C70.6 140.6 70.5 140.6 70.9 140.6C71.3 140.6 71.2 140.6 71.5 140.9C71.8 141.3 71.8 141.2 71.8 141.7Z"/>
<path id="a98" d="M55.8 126.2C56.5 124.9 56.9 124.9 58 125.6C59.2 126.4 57.9 127.1 59.3 128.4C60.6 129.8 60.8 128.6 61.9 129.6C63.1 130.5 63.7 130.4 62.6 131.4C61.5 132.3 60.9 133.1 58.6 132.5C56.3 131.9 56.7 131.7 55.8 129.6C54.8 127.5 55 127.5 55.8 126.2Z"/>
<path id="a99" d="M62.6 112.5C62.6 113.5 62.7 113.3 61.7 114C60.6 114.8 60.9 114.7 59.4 114.7C58 114.7 58.3 114.8 57.2 114C56.2 113.3 56.3 113.5 56.3 112.5C56.3 111.4 56.2 111.6 57.2 110.9C58.3 110.1 58 110.2 59.4 110.2C60.9 110.2 60.6 110.1 61.7 110.9C62.7 111.6 62.6 111.4 62.6 112.5Z"/>
<path id="a100" d="M74.6 111.8C74.6 112.9 74.8 112.7 73.6 113.4C72.5 114.1 72.9 114.1 71.3 114.1C69.7 114.1 70 114.1 68.9 113.4C67.8 112.7 67.9 112.9 67.9 111.8C67.9 110.8 67.8 111 68.9 110.2C70 109.5 69.7 109.6 71.3 109.6C72.9 109.6 72.5 109.5 73.6 110.2C74.8 111 74.6 110.8 74.6 111.8Z"/>
<path id="a101" d="M81.3 111.6C81.3 112.2 81.3 112.1 80.8 112.5C80.3 113 80.5 112.9 79.8 112.9C79.1 112.9 79.3 113 78.8 112.5C78.3 112.1 78.3 112.2 78.3 111.6C78.3 110.9 78.3 111.1 78.8 110.6C79.3 110.2 79.1 110.2 79.8 110.2C80.5 110.2 80.3 110.2 80.8 110.6C81.3 111.1 81.3 110.9 81.3 111.6Z"/>
<path id="a102" d="M53.3 120.1C53.3 120.6 53.3 120.5 53 120.9C52.6 121.3 52.7 121.2 52.2 121.2C51.7 121.2 51.8 121.3 51.4 120.9C51 120.5 51.1 120.6 51.1 120.1C51.1 119.6 51 119.7 51.4 119.3C51.8 118.9 51.7 119 52.2 119C52.7 119 52.6 118.9 53 119.3C53.3 119.7 53.3 119.6 53.3 120.1Z"/>
<path id="a103" d="M55.4 117.2C55.4 117.6 55.4 117.5 55.1 117.8C54.8 118.1 54.9 118.1 54.5 118.1C54.1 118.1 54.1 118.1 53.8 117.8C53.5 117.5 53.6 117.6 53.6 117.2C53.6 116.7 53.5 116.8 53.8 116.5C54.1 116.2 54.1 116.3 54.5 116.3C54.9 116.3 54.8 116.2 55.1 116.5C55.4 116.8 55.4 116.7 55.4 117.2Z"/>
<path id="a104" d="M47.9 117.3C47.8 118.7 47.9 118.4 47.4 119.4C46.9 120.5 47 120.3 46.4 120.3C45.9 120.2 46 120.4 45.6 119.3C45.3 118.2 45.4 118.5 45.5 117.1C45.6 115.6 45.5 115.9 46 114.9C46.5 113.9 46.4 114 47 114C47.6 114.1 47.5 114 47.8 115C48.1 116.1 48.1 115.8 47.9 117.3Z"/>
<path id="a105" d="M64.1 134.7C64.1 135.5 64.2 135.4 63.8 135.9C63.4 136.5 63.5 136.4 63 136.4C62.5 136.4 62.6 136.5 62.2 135.9C61.8 135.4 61.9 135.5 61.9 134.7C61.9 133.9 61.8 134.1 62.2 133.5C62.6 133 62.5 133 63 133C63.5 133 63.4 133 63.8 133.5C64.2 134.1 64.1 133.9 64.1 134.7Z"/>
<path id="a106" d="M77.5 115C77.5 115.9 77.6 115.7 77.2 116.4C76.8 117 76.9 116.9 76.4 116.9C75.8 116.9 75.9 117 75.6 116.4C75.2 115.7 75.2 115.9 75.2 115C75.2 114.1 75.2 114.3 75.6 113.7C75.9 113 75.8 113.1 76.4 113.1C76.9 113.1 76.8 113 77.2 113.7C77.6 114.3 77.5 114.1 77.5 115Z"/>
<path id="a107" d="M84.3 127.7C84.3 128.3 84.4 128.1 83.8 128.5C83.3 128.9 83.5 128.8 82.7 128.8C82 128.8 82.1 128.9 81.6 128.5C81.1 128.1 81.2 128.3 81.2 127.7C81.2 127.2 81.1 127.3 81.6 126.9C82.1 126.6 82 126.6 82.7 126.6C83.5 126.6 83.3 126.6 83.8 126.9C84.4 127.3 84.3 127.2 84.3 127.7Z"/>
<path id="a108" d="M73.2 137.9C75 135.6 74.5 137.1 77.6 135.4C80.8 133.7 79.5 133.5 82.7 132.8C85.9 132.2 84.6 132 87.2 133.5C89.7 134.9 88 134.6 90.4 137.3C92.7 139.9 95.5 138 94.2 141.3C92.9 144.7 93.8 145.4 86.5 147.5C79.3 149.5 77.3 149.2 72.5 147.5C67.8 145.8 72.1 145.5 72.3 142.4C72.5 139.2 71.4 140.2 73.2 137.9Z"/>
<path id="a109" d="M78.8 143C78.8 143.5 78.8 143.4 78.5 143.8C78.2 144.2 78.3 144.1 77.9 144.1C77.5 144.1 77.6 144.2 77.3 143.8C77 143.4 77 143.5 77 143C77 142.5 77 142.6 77.3 142.2C77.6 141.8 77.5 141.9 77.9 141.9C78.3 141.9 78.2 141.8 78.5 142.2C78.8 142.6 78.8 142.5 78.8 143Z"/>
<path id="a110" d="M54.7 138.5C56.8 134.5 57.3 135.8 61.1 135.4C64.9 134.9 63.2 135.8 66.2 137.3C69.2 138.8 68.2 137.7 70 139.8C71.8 141.9 71.5 141.1 71.5 143.6C71.5 146.2 75.6 146.2 70 147.5C64.4 148.7 59.8 150.4 54.7 147.5C49.6 144.5 52.6 142.6 54.7 138.5Z"/>
<path id="a111" d="M70 142.4C70 143.2 70 143 69.7 143.6C69.4 144.1 69.5 144 69.1 144C68.7 144 68.8 144.1 68.5 143.6C68.2 143 68.2 143.2 68.2 142.4C68.2 141.6 68.2 141.7 68.5 141.2C68.8 140.6 68.7 140.7 69.1 140.7C69.5 140.7 69.4 140.6 69.7 141.2C70 141.7 70 141.6 70 142.4Z"/>
<path id="a112" d="M64.1 135.7C64.1 136.2 64.2 136.1 63.8 136.4C63.4 136.7 63.5 136.6 63 136.6C62.5 136.6 62.6 136.7 62.2 136.4C61.8 136.1 61.9 136.2 61.9 135.7C61.9 135.3 61.8 135.4 62.2 135.1C62.6 134.8 62.5 134.8 63 134.8C63.5 134.8 63.4 134.8 63.8 135.1C64.2 135.4 64.1 135.3 64.1 135.7Z"/>
<path id="a113" d="M72.2 131.3C72.2 132.2 72.3 132 71.6 132.6C70.8 133.3 71.1 133.2 70 133.2C68.9 133.2 69.2 133.3 68.4 132.6C67.7 132 67.8 132.2 67.8 131.3C67.8 130.4 67.7 130.6 68.4 129.9C69.2 129.3 68.9 129.4 70 129.4C71.1 129.4 70.8 129.3 71.6 129.9C72.3 130.6 72.2 130.4 72.2 131.3Z"/>
<path id="a114" d="M92.3 126.5C93.8 123.7 92.7 123.6 96.7 124.5C100.8 125.5 103.1 126.2 104.4 129.4C105.6 132.6 103.4 131.7 100.5 134.1C97.7 136.5 98.5 137.1 95.7 136.6C93 136.2 93.4 136.2 92.3 132.8C91.1 129.4 90.8 129.2 92.3 126.5Z"/>
<path id="a115" d="M89.2 127.8C89.6 125.9 90.4 125.7 91.6 127.6C92.8 129.5 91.9 129.8 92.8 133.4C93.6 137.1 94.4 136.6 94.1 138.5C93.8 140.3 93.1 140.7 91.9 139C90.6 137.4 91.2 137.2 90.3 133.4C89.4 129.7 88.7 129.8 89.2 127.8Z"/>
<path id="a116" d="M98 120.7C100.1 119.2 98.8 119 101.8 118.8C104.8 118.6 103.5 120.7 106.9 120.1C110.3 119.5 109 119.5 112 116.9C115 114.4 112.4 115.2 115.8 112.5C119.2 109.7 120.9 107.6 122.2 108.6C123.5 109.7 123.5 109.9 119.6 115.6C115.8 121.4 115.6 121.2 110.7 125.8C105.8 130.5 108.8 129.6 105 129.6C101.2 129.6 102.5 127.9 99.3 125.8C96.1 123.7 95.9 125 95.5 123.3C95 121.6 95.9 122.2 98 120.7Z"/>
<path id="a117" d="M96.7 113.7C98 111.7 97.2 111.4 100.5 111.2C103.9 111 103.1 112 106.9 113.1C110.7 114.2 109.4 114.4 112 114.4C114.6 114.4 114.3 112.2 114.8 113.1C115.3 113.9 116.2 114.7 113.5 116.9C110.9 119.1 110.8 119 106.9 119.7C103 120.4 104.2 120 101.8 118.9C99.5 117.9 101.6 117.2 99.9 116.7C98.2 116.1 97.8 118.1 96.7 117.2C95.7 116.2 95.5 115.7 96.7 113.7Z"/>
<path id="a118" d="M99.4 115.4C99.4 115.9 99.4 115.8 99.1 116.1C98.7 116.4 98.8 116.4 98.3 116.4C97.7 116.4 97.8 116.4 97.4 116.1C97.1 115.8 97.1 115.9 97.1 115.4C97.1 114.9 97.1 115 97.4 114.7C97.8 114.3 97.7 114.4 98.3 114.4C98.8 114.4 98.7 114.3 99.1 114.7C99.4 115 99.4 114.9 99.4 115.4Z"/>
<path id="a119" d="M85.5 126.3C85.7 127.1 85.8 126.9 85.3 127.7C84.7 128.4 84.9 128.3 83.9 128.7C82.9 129 83.2 129 82.3 128.7C81.4 128.5 81.5 128.6 81.3 127.9C81 127.1 81 127.3 81.5 126.5C82 125.7 81.8 125.9 82.8 125.5C83.8 125.2 83.6 125.2 84.4 125.4C85.3 125.7 85.2 125.6 85.5 126.3Z"/>
<path id="a120" d="M88.5 123.9C88.5 124.4 88.5 124.3 88.1 124.7C87.7 125.1 87.8 125.1 87.2 125.1C86.6 125.1 86.7 125.1 86.3 124.7C85.9 124.3 85.9 124.4 85.9 123.9C85.9 123.4 85.9 123.5 86.3 123.1C86.7 122.7 86.6 122.8 87.2 122.8C87.8 122.8 87.7 122.7 88.1 123.1C88.5 123.5 88.5 123.4 88.5 123.9Z"/>
<path id="a121" d="M87.8 131.7C87.8 132.2 87.9 132.1 87.5 132.4C87.2 132.7 87.3 132.7 86.8 132.7C86.3 132.7 86.4 132.7 86.1 132.4C85.7 132.1 85.8 132.2 85.8 131.7C85.8 131.2 85.7 131.3 86.1 131C86.4 130.6 86.3 130.7 86.8 130.7C87.3 130.7 87.2 130.6 87.5 131C87.9 131.3 87.8 131.2 87.8 131.7Z"/>
<path id="a122" d="M85.7 120.3C85.7 121 85.7 120.8 85.2 121.3C84.6 121.7 84.8 121.7 84 121.7C83.2 121.7 83.4 121.7 82.8 121.3C82.3 120.8 82.3 121 82.3 120.3C82.3 119.7 82.3 119.8 82.8 119.4C83.4 118.9 83.2 119 84 119C84.8 119 84.6 118.9 85.2 119.4C85.7 119.8 85.7 119.7 85.7 120.3Z"/>
<path id="a123" d="M91.7 122.3C91.7 122.9 91.8 122.8 91.3 123.2C90.9 123.7 91 123.6 90.4 123.6C89.7 123.6 89.9 123.7 89.4 123.2C89 122.8 89 122.9 89 122.3C89 121.6 89 121.8 89.4 121.3C89.9 120.9 89.7 120.9 90.4 120.9C91 120.9 90.9 120.9 91.3 121.3C91.8 121.8 91.7 121.6 91.7 122.3Z"/>
<path id="a124" d="M77.1 115C77.1 115.9 77.2 115.7 76.8 116.4C76.5 117 76.6 116.9 76.1 116.9C75.6 116.9 75.7 117 75.4 116.4C75.1 115.7 75.1 115.9 75.1 115C75.1 114.1 75.1 114.3 75.4 113.7C75.7 113 75.6 113.1 76.1 113.1C76.6 113.1 76.5 113 76.8 113.7C77.2 114.3 77.1 114.1 77.1 115Z"/>
<path id="a125" d="M76.4 119.7C76.4 120.4 76.4 120.3 76.1 120.8C75.7 121.3 75.8 121.2 75.3 121.2C74.9 121.2 75 121.3 74.6 120.8C74.3 120.3 74.3 120.4 74.3 119.7C74.3 119 74.3 119.1 74.6 118.6C75 118.1 74.9 118.2 75.3 118.2C75.8 118.2 75.7 118.1 76.1 118.6C76.4 119.1 76.4 119 76.4 119.7Z"/>
<path id="a126" d="M86.8 113.7C86.8 114.1 86.8 114.1 86.5 114.4C86.2 114.7 86.3 114.6 85.9 114.6C85.5 114.6 85.6 114.7 85.3 114.4C85 114.1 85 114.1 85 113.7C85 113.3 85 113.4 85.3 113.1C85.6 112.8 85.5 112.8 85.9 112.8C86.3 112.8 86.2 112.8 86.5 113.1C86.8 113.4 86.8 113.3 86.8 113.7Z"/>
<path id="a127" d="M91.9 111.8C91.9 112.4 91.9 112.2 91.6 112.6C91.3 113 91.4 113 91 113C90.6 113 90.7 113 90.4 112.6C90.1 112.2 90.1 112.4 90.1 111.8C90.1 111.3 90.1 111.4 90.4 111C90.7 110.6 90.6 110.7 91 110.7C91.4 110.7 91.3 110.6 91.6 111C91.9 111.4 91.9 111.3 91.9 111.8Z"/>
<path id="a128" d="M64.6 109C64.6 109.5 64.7 109.4 64.2 109.8C63.8 110.2 63.9 110.1 63.3 110.1C62.6 110.1 62.8 110.2 62.3 109.8C61.9 109.4 61.9 109.5 61.9 109C61.9 108.5 61.9 108.6 62.3 108.2C62.8 107.9 62.6 107.9 63.3 107.9C63.9 107.9 63.8 107.9 64.2 108.2C64.7 108.6 64.6 108.5 64.6 109Z"/>
<path id="p83" d="M263.6 72.5C264.1 70.2 262.6 69.2 268.7 62.4C274.9 55.6 271.5 58.5 282.1 52.2C292.7 45.8 294.3 44.8 300.5 43.3C306.8 41.8 302.9 45.3 300.8 47.7C298.7 50.2 298.5 49.1 294.2 50.7C289.9 52.2 291.4 51 287.8 52.4C284.2 53.9 285.9 53.9 283.4 55C280.8 56.1 282.5 54.8 280.2 55.7C277.8 56.7 278.7 56.1 276.4 57.9C274 59.7 275.3 59.2 273.2 61.1C271.1 63 271.9 60.9 270 63.6C268.1 66.4 269.6 66.4 267.5 69.4C265.3 72.3 263.2 74.9 263.6 72.5Z"/>
<path id="p84" d="M269.9 63.1C271 60.9 272.8 58.8 274.9 58.7C277 58.5 276.2 59.8 276.2 62.6C276.3 65.4 276.1 65.2 275.1 67.1C274.2 68.9 274.5 68.7 273.3 68.2C272.1 67.6 272.7 67.1 271.5 65.4C270.4 63.7 268.7 65.4 269.9 63.1Z"/>
<path id="p85" d="M260.4 79.6C260.8 77.6 262.3 74.9 264.9 72.3C267.5 69.7 267.3 71 268.3 71.8C269.3 72.5 269.3 72.5 267.8 74.7C266.3 76.8 266.3 76.6 263.8 78.3C261.3 79.9 260.1 81.6 260.4 79.6Z"/>
<path id="p86" d="M275.3 74.5C276.3 72.4 277.2 72.3 278.2 74.2C279.3 76.2 279.4 78.4 278.4 80.4C277.5 82.5 276.3 82.4 275.3 80.4C274.3 78.4 274.3 76.5 275.3 74.5Z"/>
<path id="p87" d="M292.9 51.5C295.8 49.4 297.7 47.7 299.9 48.4C302.1 49 300.5 50.5 299.5 53.5C298.6 56.4 298.8 54.3 297 57.3C295.2 60.2 296.3 59.4 294.2 62.4C292.1 65.3 292.5 65.5 290.6 66.2C288.7 66.9 288.8 66.5 288.5 64.4C288.2 62.3 288.8 63 289.7 59.8C290.6 56.6 290.1 57.5 291.1 54.7C292.2 52 290 53.7 292.9 51.5Z"/>
<path id="p88" d="M310.1 45.2C312.2 43.1 313.9 42 317.1 43.5C320.3 45 317.5 46.1 319.6 49.6C321.8 53.2 321.1 52.4 323.5 54.1C325.8 55.8 325.6 52.4 326.6 54.7C327.7 57.1 328.1 59.4 326.6 61.1C325.2 62.8 324.5 59 322.2 59.8C319.8 60.7 321.3 61.4 319.6 63.6C317.9 65.8 319.2 66.4 317.1 66.4C315 66.5 315.4 66.1 313.3 63.9C311.2 61.7 311.2 62.9 310.7 59.8C310.3 56.8 312 58.1 312 54.7C312 51.3 311.4 52.8 310.7 49.6C310.1 46.5 308 47.2 310.1 45.2Z"/>
<path id="p89" d="M306.4 64.4C306.4 65.1 306.5 65 305.8 65.5C305.2 66 305.4 66 304.5 66C303.6 66 303.8 66 303.1 65.5C302.5 65 302.6 65.1 302.6 64.4C302.6 63.7 302.5 63.8 303.1 63.3C303.8 62.8 303.6 62.8 304.5 62.8C305.4 62.8 305.2 62.8 305.8 63.3C306.5 63.8 306.4 63.7 306.4 64.4Z"/>
<path id="p90" d="M288.2 79.2C288.2 79.9 288.2 79.8 287.9 80.3C287.6 80.9 287.7 80.8 287.2 80.8C286.7 80.8 286.8 80.9 286.5 80.3C286.1 79.8 286.2 79.9 286.2 79.2C286.2 78.4 286.1 78.5 286.5 78C286.8 77.4 286.7 77.5 287.2 77.5C287.7 77.5 287.6 77.4 287.9 78C288.2 78.5 288.2 78.4 288.2 79.2Z"/>
<path id="p91" d="M300.5 72C300.5 72.5 300.6 72.4 300.2 72.8C299.7 73.1 299.9 73.1 299.3 73.1C298.7 73.1 298.8 73.1 298.4 72.8C297.9 72.4 298 72.5 298 72C298 71.6 297.9 71.7 298.4 71.3C298.8 71 298.7 71 299.3 71C299.9 71 299.7 71 300.2 71.3C300.6 71.7 300.5 71.6 300.5 72Z"/>
<path id="p92" d="M291.9 69.4C291.9 69.8 291.9 69.7 291.5 70.1C291.1 70.4 291.2 70.4 290.6 70.4C290 70.4 290.1 70.4 289.7 70.1C289.3 69.7 289.3 69.8 289.3 69.4C289.3 68.9 289.3 69 289.7 68.6C290.1 68.3 290 68.3 290.6 68.3C291.2 68.3 291.1 68.3 291.5 68.6C291.9 69 291.9 68.9 291.9 69.4Z"/>
<path id="p93" d="M294.3 65.2C294.3 65.6 294.4 65.5 294 65.9C293.6 66.2 293.7 66.2 293.2 66.2C292.6 66.2 292.7 66.2 292.4 65.9C292 65.5 292 65.6 292 65.2C292 64.7 292 64.8 292.4 64.4C292.7 64.1 292.6 64.1 293.2 64.1C293.7 64.1 293.6 64.1 294 64.4C294.4 64.8 294.3 64.7 294.3 65.2Z"/>
<path id="p94" d="M275.1 58.5C275.9 56.4 275.5 57.1 278.9 56C282.3 54.9 281.7 56.6 285.3 55.4C288.9 54.1 287 53.1 289.7 52.2C292.5 51.3 292.4 51.4 293.5 52.7C294.7 54 294.4 54 293.2 56C291.9 58 291.4 56.2 289.9 58.5C288.3 60.9 289.9 60.6 288.6 63C287.3 65.4 288.2 64.4 286 65.7C283.9 67 284.7 66.9 282.1 66.9C279.5 66.9 280.2 67.2 278.3 65.7C276.4 64.1 277.4 64.7 276.4 62.4C275.3 60 274.2 60.7 275.1 58.5Z"/>
<path id="p95" d="M266.6 69.3C267 66.7 267.2 66.1 268.8 64.8C270.5 63.5 270.3 64.1 271.6 65.4C273 66.7 273.2 66.5 272.9 68.7C272.5 71 272.4 70.8 270.6 72.1C268.9 73.4 269.1 73.7 267.7 72.8C266.4 71.8 266.2 72 266.6 69.3Z"/>
<path id="p96" d="M260.5 80.8C262.6 78.1 262.6 77.8 266.2 75.7C269.8 73.6 268.6 74 271.3 74.5C273.9 74.9 273 73.8 274.1 77C275.2 80.2 279.3 81.7 274.6 84C269.8 86.3 264.5 85.1 259.8 84C255.1 82.9 258.3 83.6 260.5 80.8Z"/>
<path id="p97" d="M276.7 71.9C276.7 72.4 276.7 72.3 276.3 72.6C275.8 73 276 72.9 275.3 72.9C274.7 72.9 274.8 73 274.4 72.6C273.9 72.3 274 72.4 274 71.9C274 71.4 273.9 71.5 274.4 71.2C274.8 70.9 274.7 70.9 275.3 70.9C276 70.9 275.8 70.9 276.3 71.2C276.7 71.5 276.7 71.4 276.7 71.9Z"/>
<path id="p98" d="M280 72.8C281 70.9 281.1 71.3 283.4 71.1C285.7 70.9 285.7 70.9 286.9 72.2C288 73.5 288 73.1 286.9 75C285.7 76.9 285.6 77.3 283.5 77.9C281.4 78.5 281.7 78.5 280.6 76.8C279.4 75.1 279.1 74.7 280 72.8Z"/>
<path id="p99" d="M300.5 43.3C303.9 41.6 306.2 41.2 310.1 43.3C314 45.4 311.8 45.8 312.3 49.6C312.7 53.5 312.8 51.9 311.5 54.7C310.1 57.5 310.8 57.4 308.2 58C305.6 58.7 306.3 58.5 303.7 56.8C301.2 55 301.8 55.6 300.5 52.8C299.3 50 299.9 51.5 299.9 48.4C299.9 45.2 297.2 45 300.5 43.3Z"/>
<path id="p100" d="M300.1 59.4C299.8 60.7 299.9 60.5 299.3 61.3C298.7 62.1 298.8 62.1 298.2 61.9C297.5 61.8 297.6 62 297.3 61C297 59.9 297 60.2 297.2 58.9C297.4 57.6 297.3 57.9 298 57.1C298.6 56.2 298.4 56.3 299.1 56.4C299.8 56.5 299.7 56.4 300 57.4C300.3 58.4 300.3 58.1 300.1 59.4Z"/>
<path id="p101" d="M318.9 44.9C320.9 43.4 323.7 41.7 326.2 43.8C328.6 45.9 327.5 49 326.2 51.2C324.9 53.4 324.3 51.5 322.2 50.5C320.2 49.6 321.1 50.2 320 48.3C318.9 46.4 316.8 46.4 318.9 44.9Z"/>
<path id="p102" d="M325.9 69.4C325.9 70.4 326 70.2 325.1 70.9C324.2 71.7 324.5 71.6 323.2 71.6C321.9 71.6 322.2 71.7 321.3 70.9C320.4 70.2 320.5 70.4 320.5 69.4C320.5 68.3 320.4 68.5 321.3 67.8C322.2 67 321.9 67.1 323.2 67.1C324.5 67.1 324.2 67 325.1 67.8C326 68.5 325.9 68.3 325.9 69.4Z"/>
<path id="p103" d="M307.9 75.3C307.9 76.2 308 76.1 307.3 76.7C306.6 77.3 306.8 77.3 305.9 77.3C304.9 77.3 305.1 77.3 304.5 76.7C303.8 76.1 303.9 76.2 303.9 75.3C303.9 74.4 303.8 74.6 304.5 74C305.1 73.4 304.9 73.4 305.9 73.4C306.8 73.4 306.6 73.4 307.3 74C308 74.6 307.9 74.4 307.9 75.3Z"/>
<path id="p104" d="M304.7 71C304.7 71.7 304.7 71.5 304.2 72C303.7 72.4 303.8 72.4 303.1 72.4C302.4 72.4 302.5 72.4 302 72C301.5 71.5 301.5 71.7 301.5 71C301.5 70.4 301.5 70.5 302 70.1C302.5 69.6 302.4 69.7 303.1 69.7C303.8 69.7 303.7 69.6 304.2 70.1C304.7 70.5 304.7 70.4 304.7 71Z"/>
<path id="p105" d="M312.5 65.5C312.5 66.3 312.6 66.2 312.3 66.7C312 67.3 312 67.2 311.6 67.2C311.2 67.2 311.3 67.3 311 66.7C310.7 66.2 310.7 66.3 310.7 65.5C310.7 64.8 310.7 64.9 311 64.4C311.3 63.8 311.2 63.9 311.6 63.9C312 63.9 312 63.8 312.3 64.4C312.6 64.9 312.5 64.8 312.5 65.5Z"/>
<path id="p106" d="M301.7 80.9C301.7 81.6 301.8 81.4 301.2 81.9C300.6 82.3 300.8 82.3 299.9 82.3C299.1 82.3 299.2 82.3 298.6 81.9C298 81.4 298.1 81.6 298.1 80.9C298.1 80.3 298 80.4 298.6 80C299.2 79.5 299.1 79.6 299.9 79.6C300.8 79.6 300.6 79.5 301.2 80C301.8 80.4 301.7 80.3 301.7 80.9Z"/>
<path id="p107" d="M319 47.7C320.5 49.8 319.4 50.7 321.5 50.9C323.7 51.1 323.2 48.8 325.4 48.4C327.5 47.9 327.7 47.9 328 49.6C328.3 51.3 328 51.8 326.3 53.5C324.6 55.2 324.7 53.5 322.9 54.7C321.2 56 321 55.2 321 57.3C321 59.4 321.5 58.8 322.9 61.1C324.4 63.4 326.1 62.5 325.5 64.3C324.9 66 323.8 65.2 321 66.3C318.2 67.4 319.7 68.6 317.1 67.6C314.5 66.5 315.7 66.1 313.3 63.1C310.8 60.1 310.2 61.3 309.7 58.5C309.2 55.7 311.4 57.7 311.7 54.7C312.1 51.8 308.9 53 310.7 49.6C312.5 46.2 314.3 45.2 317.1 44.5C319.8 43.9 317.5 45.6 319 47.7Z"/>
<path id="p108" d="M317.8 44C319.7 43.1 321.5 43.9 325.1 45.1C328.7 46.4 328.2 46.4 328.6 47.7C329 49 327.8 48.7 326.4 48.9C324.9 49.1 325.6 47.7 324.1 48.3C322.6 48.8 323.4 50.7 321.9 50.5C320.4 50.3 321 49.9 319.6 47.7C318.3 45.5 316 44.9 317.8 44Z"/>
<path id="p109" d="M329.2 47.3C332.2 46.8 331.9 47.5 336.2 49.9C340.4 52.3 339.3 51.2 341.9 54.5C344.5 57.8 343.6 56.8 344.1 59.8C344.5 62.9 343.1 60.2 343.3 63.6C343.5 67 344.8 65.8 344.6 70C344.4 74.2 344.6 73.6 342.7 76.4C340.7 79.2 341.7 77.9 338.7 78.4C335.7 78.9 336.2 79.3 333.6 77.8C331.1 76.2 331.1 76.4 331.1 73.8C331.1 71.2 333 72.5 333.6 70C334.3 67.5 332.3 68.5 333 66.2C333.7 63.8 336.3 64.3 335.7 63C335 61.7 333 63.6 331.1 62.4C329.1 61.1 331.1 61.3 329.8 59.2C328.5 57.1 328.2 58.5 327.3 56C326.3 53.5 326.4 54.4 327 51.5C327.7 48.7 326.1 47.9 329.2 47.3Z"/>
<path id="p110" d="M331.5 62.2C332.9 61.4 333.1 61.2 336.2 61.3C339.3 61.4 339.4 61.6 340.9 62.4C342.4 63.2 342.2 63.6 340.7 63.8C339.1 63.9 339.1 63 336.2 63C333.3 63 333.5 64 331.9 63.8C330.4 63.5 330.1 63 331.5 62.2Z"/>
<path id="p111" d="M341.6 55.8C343.4 56.6 344.8 56.7 345.9 59.2C346.9 61.6 344.4 60.7 344.7 63.1C345.1 65.5 345.7 64.4 347 66.4C348.3 68.5 348.8 67 348.6 69.2C348.3 71.5 347.4 70.4 346.3 73.2C345.2 76 346.6 74.7 345.2 77.6C343.8 80.6 343.9 80.6 342.2 82.1C340.4 83.6 339.7 83.8 339.9 82.1C340.1 80.4 341.3 80.3 342.7 77.1C344.1 73.9 343 75.2 344.1 72.6C345.2 70 345.9 71.3 346.1 69.2C346.2 67.2 345.7 68.5 344.5 66.4C343.3 64.4 342.9 65.3 342.5 63.1C342.1 60.8 344.1 61.8 343.4 59.7C342.7 57.7 341.1 58.2 340.5 56.9C339.9 55.6 339.8 55.1 341.6 55.8Z"/>
<path id="p112" d="M342.7 53.7C343.5 53.4 345.4 54.6 348.8 57.6C352.3 60.6 352.3 60.3 353.1 62.6C353.9 65 353 64.3 351.3 64.6C349.6 64.8 349.6 65.4 348 63.4C346.3 61.4 348.1 61.8 346.4 58.5C344.6 55.3 341.9 54 342.7 53.7Z"/>
<path id="p113" d="M349.7 72.7C350.4 71.2 350 72.3 353 71C356 69.7 355.6 66.2 358.6 68.8C361.6 71.4 362.3 76.6 362 78.9C361.6 81.2 360.1 76.9 357.5 75.6C354.9 74.3 356.4 75 354.1 75C351.9 75 352.3 76.4 350.8 75.6C349.3 74.9 348.9 74.2 349.7 72.7Z"/>
<path id="p114" d="M353.2 77.9C354.3 75.3 354.1 76.2 356 75.8C357.9 75.5 356.8 74.2 359 76.7C361.3 79.3 364.9 81.2 362.7 83.5C360.6 85.7 355.8 85.3 352.6 83.5C349.5 81.6 352.1 80.4 353.2 77.9Z"/>
<path id="p115" d="M307.1 63.9C307.1 64.9 307.2 64.7 306.3 65.5C305.4 66.2 305.6 66.1 304.4 66.1C303.1 66.1 303.4 66.2 302.5 65.5C301.6 64.7 301.7 64.9 301.7 63.9C301.7 62.8 301.6 63.1 302.5 62.3C303.4 61.6 303.1 61.7 304.4 61.7C305.6 61.7 305.4 61.6 306.3 62.3C307.2 63.1 307.1 62.8 307.1 63.9Z"/>
<path id="p116" d="M306.4 64.4C306.4 64.9 306.5 64.8 306 65.2C305.6 65.6 305.7 65.5 305.1 65.5C304.5 65.5 304.7 65.6 304.2 65.2C303.8 64.8 303.9 64.9 303.9 64.4C303.9 63.9 303.8 64 304.2 63.6C304.7 63.2 304.5 63.3 305.1 63.3C305.7 63.3 305.6 63.2 306 63.6C306.5 64 306.4 63.9 306.4 64.4Z"/>
<path id="p117" d="M312.9 65.9C312.9 66.8 312.9 66.6 312.5 67.3C312.1 67.9 312.2 67.8 311.6 67.8C311 67.8 311.2 67.9 310.7 67.3C310.3 66.6 310.4 66.8 310.4 65.9C310.4 65 310.3 65.2 310.7 64.6C311.2 63.9 311 64 311.6 64C312.2 64 312.1 63.9 312.5 64.6C312.9 65.2 312.9 65 312.9 65.9Z"/>
<path id="p118" d="M325.6 69.4C325.6 70.4 325.7 70.2 324.8 70.9C323.9 71.7 324.1 71.6 322.8 71.6C321.5 71.6 321.8 71.7 320.8 70.9C319.9 70.2 320 70.4 320 69.4C320 68.3 319.9 68.5 320.8 67.8C321.8 67 321.5 67.1 322.8 67.1C324.1 67.1 323.9 67 324.8 67.8C325.7 68.5 325.6 68.3 325.6 69.4Z"/>
<path id="p119" d="M308.3 74.6C308.6 75.4 308.7 75.2 308.1 76.1C307.5 77 307.7 76.8 306.5 77.3C305.4 77.7 305.7 77.7 304.6 77.4C303.6 77.1 303.8 77.2 303.5 76.4C303.2 75.5 303.1 75.7 303.7 74.8C304.3 73.9 304.1 74.1 305.2 73.7C306.4 73.3 306.1 73.3 307.1 73.6C308.2 73.9 308 73.7 308.3 74.6Z"/>
<path id="p120" d="M304.1 71.3C304.1 72 304.2 71.9 303.6 72.4C303.1 72.9 303.2 72.8 302.5 72.8C301.7 72.8 301.8 72.9 301.3 72.4C300.7 71.9 300.8 72 300.8 71.3C300.8 70.5 300.7 70.7 301.3 70.2C301.8 69.6 301.7 69.7 302.5 69.7C303.2 69.7 303.1 69.6 303.6 70.2C304.2 70.7 304.1 70.5 304.1 71.3Z"/>
<path id="p121" d="M310.5 80.3C311.6 78.4 311.3 78.3 313.3 78C315.4 77.7 315.2 77.5 316.7 79.4C318.2 81.3 320 82.2 317.8 83.6C315.6 85.1 312.4 84.8 310 83.6C307.5 82.5 309.4 82.1 310.5 80.3Z"/>
<path id="p122" d="M300.6 58.5C300.6 59.6 300.7 59.4 300.2 60.1C299.8 60.9 299.9 60.8 299.3 60.8C298.6 60.8 298.8 60.9 298.3 60.1C297.9 59.4 297.9 59.6 297.9 58.5C297.9 57.5 297.9 57.7 298.3 57C298.8 56.2 298.6 56.3 299.3 56.3C299.9 56.3 299.8 56.2 300.2 57C300.7 57.7 300.6 57.5 300.6 58.5Z"/>
<path id="p123" d="M257.9 73.7C259.5 65.4 261 72.2 262.1 74.4C263.2 76.5 261.8 77.2 261.1 80.1C260.4 82.9 259.4 80.3 260.1 82.9C260.8 85.4 260.7 85.5 263.1 87.7C265.6 90 265.1 88.8 267.5 89.6C269.8 90.5 270 88.8 270.3 90.3C270.5 91.8 270.4 92.1 268.2 94.1C266 96 266.4 94.3 263.6 96.1C260.8 97.9 261.9 98.3 259.8 99.4C257.7 100.5 257.9 108 257.3 99.4C256.6 90.9 256.3 82.1 257.9 73.7Z"/>
<path id="p124" d="M285.5 91.4C285.7 92.1 285.7 91.9 285.2 92.6C284.7 93.3 284.9 93.2 283.9 93.6C282.9 93.9 283.1 93.9 282.2 93.7C281.4 93.5 281.5 93.6 281.3 92.9C281 92.3 281 92.5 281.5 91.8C282.1 91 281.9 91.2 282.9 90.8C283.9 90.5 283.6 90.5 284.5 90.7C285.4 90.9 285.2 90.8 285.5 91.4Z"/>
<path id="p125" d="M275.1 96C276.6 95.2 277.7 95.4 278.7 96.6C279.6 97.9 278.9 97.9 277.9 99.8C276.9 101.7 276.5 100.7 275.6 102.4C274.7 104.1 276 104.2 275.1 104.9C274.2 105.6 273.4 105.8 272.8 104.5C272.2 103.3 272.8 102.9 273.2 101.1C273.6 99.3 273.4 100.9 274.1 99.2C274.7 97.5 273.6 96.8 275.1 96Z"/>
<path id="p126" d="M276.9 97.4C276.9 97.9 276.9 97.8 276.6 98.2C276.3 98.6 276.4 98.5 276 98.5C275.6 98.5 275.6 98.6 275.3 98.2C275 97.8 275.1 97.9 275.1 97.4C275.1 96.9 275 97 275.3 96.6C275.6 96.2 275.6 96.3 276 96.3C276.4 96.3 276.3 96.2 276.6 96.6C276.9 97 276.9 96.9 276.9 97.4Z"/>
<path id="p127" d="M287.7 110.4C287.7 111.7 287.7 111.4 287.3 112.4C286.8 113.3 287 113.2 286.3 113.2C285.6 113.2 285.8 113.3 285.3 112.4C284.8 111.4 284.9 111.7 284.9 110.4C284.9 109.1 284.8 109.3 285.3 108.4C285.8 107.5 285.6 107.6 286.3 107.6C287 107.6 286.8 107.5 287.3 108.4C287.7 109.3 287.7 109.1 287.7 110.4Z"/>
<path id="p128" d="M272.5 117.5C273.2 115.2 272.8 115.8 275.1 116.3C277.4 116.7 276.8 117.1 279.5 118.8C282.3 120.5 281.2 119.7 283.4 121.4C285.5 123.1 285.6 122.2 286 123.9C286.5 125.6 286.3 126.5 284.8 126.6C283.2 126.6 283 124.3 281.5 124C279.9 123.8 280.8 124.1 280.2 125.8C279.6 127.5 280.7 126.9 279.7 129.1C278.7 131.3 278.7 131.6 277.1 132.4C275.6 133.2 276.3 132.9 275.1 131.5C273.9 130.2 274.2 131.1 273.6 128.4C272.9 125.6 273.4 126.9 273.1 123.3C272.7 119.7 271.9 119.9 272.5 117.5Z"/>
<path id="p129" d="M274.5 107.4C277.2 104.6 279.9 105 283.4 107.4C286.8 109.7 284.1 110.3 284.8 114.4C285.4 118.4 286.1 117.3 285.4 119.5C284.7 121.6 284.9 121.2 282.7 120.7C280.6 120.3 281.5 119.9 278.9 118.2C276.4 116.5 276.6 119.2 275.1 115.6C273.6 112 271.7 110.1 274.5 107.4Z"/>
<path id="p130" d="M287.6 111.8C287.6 113.5 287.6 113.2 287.2 114.3C286.8 115.5 286.9 115.4 286.3 115.4C285.7 115.4 285.8 115.5 285.4 114.3C285 113.2 285 113.5 285 111.8C285 110.1 285 110.5 285.4 109.3C285.8 108.1 285.7 108.3 286.3 108.3C286.9 108.3 286.8 108.1 287.2 109.3C287.6 110.5 287.6 110.1 287.6 111.8Z"/>
<path id="p131" d="M308.7 133.8C308.9 134.4 309 134.3 308.5 134.9C308.1 135.6 308.2 135.5 307.4 135.8C306.5 136.1 306.7 136.1 306 135.9C305.2 135.6 305.3 135.7 305.1 135.1C304.9 134.5 304.9 134.7 305.3 134C305.7 133.3 305.6 133.5 306.4 133.2C307.3 132.8 307.1 132.9 307.8 133.1C308.6 133.3 308.5 133.2 308.7 133.8Z"/>
<path id="p132" d="M314.4 131.9C314.4 132.4 314.5 132.3 314.2 132.6C313.9 132.9 314 132.8 313.5 132.8C313.1 132.8 313.2 132.9 312.9 132.6C312.6 132.3 312.6 132.4 312.6 131.9C312.6 131.5 312.6 131.6 312.9 131.3C313.2 131 313.1 131 313.5 131C314 131 313.9 131 314.2 131.3C314.5 131.6 314.4 131.5 314.4 131.9Z"/>
<path id="p133" d="M315.8 137.9C317.9 135.9 318.6 137.1 322.2 136.3C325.8 135.4 324.9 131.6 326.6 135.4C328.3 139.1 332.6 143.4 327.3 147.5C322 151.5 315.6 148.3 310.7 147.5C305.8 146.6 310.9 146.6 312.6 144.9C314.3 143.2 314.8 144.7 315.8 142.4C316.9 140 313.7 139.9 315.8 137.9Z"/>
<path id="p134" d="M313.8 142.4C313.8 143.2 313.8 143 313.4 143.6C313.1 144.1 313.2 144 312.6 144C312.1 144 312.2 144.1 311.8 143.6C311.5 143 311.5 143.2 311.5 142.4C311.5 141.6 311.5 141.7 311.8 141.2C312.2 140.6 312.1 140.7 312.6 140.7C313.2 140.7 313.1 140.6 313.4 141.2C313.8 141.7 313.8 141.6 313.8 142.4Z"/>
<path id="b0" d="M143 72C149.3 65.9 155 69.9 163 70C171 70.1 166.3 68.7 167 72.4C167.7 76.1 167.3 76.1 165 81C162.7 85.9 163.7 84 160 87C156.3 90 158.3 88.7 154 90C149.7 91.3 150.3 91.5 147 91C143.7 90.5 145.3 94.7 144 88.4C142.7 82.1 136.7 78.1 143 72Z"/>
<path id="b1" d="M184.2 53.6C186.2 51.3 187.6 52.5 192 51.6C196.4 50.7 194.9 49.3 197.4 50.8C199.9 52.3 199 52.3 199.4 56C199.8 59.7 200.1 59.2 198.6 62C197.1 64.8 198.1 64.4 195 64.4C191.9 64.4 192.4 64 189.4 62C186.4 60 187.7 61.2 186 58.4C184.3 55.6 182.2 55.9 184.2 53.6Z"/>
<path id="b2" d="M208.6 59.6C209.7 57.6 211.3 56.7 215 57.2C218.7 57.7 219 58.9 219.8 61.2C220.6 63.5 220.1 63.3 217.4 64C214.7 64.7 214.7 64.7 211.8 63.2C208.9 61.7 207.5 61.6 208.6 59.6Z"/>
<path id="b3" d="M161.1 52.2C167.5 48.4 172.6 45.4 179.5 43.3C186.5 41.2 180.9 43.7 181.8 45.8C182.8 47.9 181.8 47.1 182.3 49.6C182.9 52.2 184.5 51.7 183.6 53.5C182.8 55.2 182.4 55.6 179.8 55C177.2 54.4 178.8 52.4 175.7 51.7C172.7 51 174 52.1 170.6 52.9C167.2 53.8 168.9 53.8 165.5 54.3C162.2 54.9 161.9 55.4 160.5 54.7C159 54 154.7 56 161.1 52.2Z"/>
<path id="b4" d="M155 57.3C155.8 55.8 155.4 56.1 158.4 55.1C161.4 54 160.4 54.2 164 54.2C167.6 54.2 167.6 53.8 169.2 55.1C170.7 56.3 169.9 56.1 168.6 57.9C167.3 59.6 168 59.2 165.1 60.2C162.3 61.2 163.1 61 160.1 60.8C157.1 60.5 157.8 60.7 156.2 59.5C154.5 58.4 154.3 58.8 155 57.3Z"/>
<path id="b5" d="M145.2 64.9C147.3 61.7 148.2 62.4 151.5 61.1C154.9 59.8 152.4 60.7 155.4 61.1C158.3 61.5 157.7 61.3 160.5 62.4C163.3 63.4 163.8 62.6 163.8 64.3C163.8 66 163.3 65.7 160.5 67.5C157.7 69.2 158.8 68.4 155.4 69.5C152 70.6 153.7 70.4 150.3 70.8C146.9 71.1 146.9 72.6 145.2 70.6C143.5 68.7 143.1 68.1 145.2 64.9Z"/>
<path id="b6" d="M154.3 62.7C154.3 63.4 154.4 63.3 153.9 63.8C153.5 64.3 153.7 64.2 153.1 64.2C152.5 64.2 152.6 64.3 152.2 63.8C151.8 63.3 151.8 63.4 151.8 62.7C151.8 62.1 151.8 62.2 152.2 61.7C152.6 61.2 152.5 61.3 153.1 61.3C153.7 61.3 153.5 61.2 153.9 61.7C154.4 62.2 154.3 62.1 154.3 62.7Z"/>
<path id="b7" d="M140.1 80.2C143.1 77.2 143.1 77.4 147.7 75.1C152.4 72.8 149.4 74.7 154.1 73.2C158.8 71.7 157.9 71.3 161.7 70.6C165.6 70 165.2 70 165.7 71.3C166.1 72.6 166 73.1 163 74.6C160 76.1 160.5 74.6 156.6 75.9C152.8 77.1 154.5 76.9 151.5 78.4C148.6 79.9 150.7 78.6 147.7 80.4C144.8 82.3 145.6 82.8 142.6 84C139.7 85.2 139.7 85.3 138.8 84C138 82.7 137.1 83.2 140.1 80.2Z"/>
<path id="b8" d="M141.3 76.5C142 74.5 142.4 73.9 145.8 72.1C149.2 70.2 146.9 71.9 151.4 70.9C155.9 70 156.4 69.1 159.2 69.2C162.1 69.2 161.8 69.7 159.9 71.1C158.1 72.4 157.6 72.2 153.6 73.3C149.7 74.4 151.3 72.8 148 74.4C144.8 76.1 146 77.5 143.8 78.2C141.6 78.9 140.7 78.6 141.3 76.5Z"/>
<path id="b9" d="M154.7 77.2C155.2 76.2 155 75.7 157.5 76.1C159.9 76.4 159.8 76.9 161.9 78.3C164.1 79.7 164.8 79.6 163.8 80.2C162.9 80.8 161.8 80.6 159.1 80.2C156.4 79.8 157.3 80 155.8 79C154.3 78 154.1 78.1 154.7 77.2Z"/>
<path id="b10" d="M181.5 43.3C185.1 41.7 188.2 41.8 192.3 43.5C196.3 45.2 193.8 45.5 193.7 48.4C193.5 51.2 193.7 50.2 191.8 52.2C189.8 54.1 190.4 54.2 187.8 54.2C185.2 54.2 186.1 54.1 184 52.2C181.9 50.2 182.3 51.3 181.5 48.4C180.6 45.4 177.8 44.9 181.5 43.3Z"/>
<path id="b11" d="M185.3 55.4C185.7 53.6 186.8 53.8 189.7 54.5C192.7 55.1 192.5 55.1 194.2 57.3C195.9 59.5 195.5 59.4 194.8 61.1C194.2 62.8 194.4 62.8 192.3 62.4C190.2 61.9 190.8 62.2 188.5 59.8C186.1 57.5 184.8 57.1 185.3 55.4Z"/>
<path id="b12" d="M189.7 59.2C190.8 58.3 191.2 58.3 194.2 59.8C197.2 61.3 197.4 61.4 198.6 63.6C199.9 65.8 199.5 66 198 66.4C196.5 66.9 196.5 66.3 194.2 64.9C191.8 63.6 192.5 64.3 191 62.4C189.5 60.5 188.7 60 189.7 59.2Z"/>
<path id="b13" d="M195 48.4C197.4 46 201.7 43.9 205.1 45.9C208.4 47.8 206.4 52 205.1 54.3C203.8 56.5 203.6 53 201.1 52.6C198.7 52.2 199.8 54.5 197.8 53.1C195.7 51.8 192.6 50.9 195 48.4Z"/>
<path id="b14" d="M199.6 54.1C199.6 54.8 199.7 54.7 199.4 55.2C199 55.7 199.1 55.7 198.6 55.7C198.2 55.7 198.3 55.7 197.9 55.2C197.6 54.7 197.6 54.8 197.6 54.1C197.6 53.4 197.6 53.5 197.9 53C198.3 52.5 198.2 52.5 198.6 52.5C199.1 52.5 199 52.5 199.4 53C199.7 53.5 199.6 53.4 199.6 54.1Z"/>
<path id="b15" d="M176.6 56.5C176.4 56.9 176.5 56.8 175.9 56.9C175.4 57 175.5 57 174.8 56.7C174.1 56.5 174.3 56.6 173.9 56.1C173.5 55.7 173.5 55.8 173.6 55.5C173.7 55.1 173.7 55.2 174.2 55.1C174.8 55 174.7 55 175.4 55.3C176.1 55.5 175.9 55.4 176.3 55.9C176.7 56.3 176.7 56.2 176.6 56.5Z"/>
<path id="b16" d="M181.2 59.1C180.9 59.5 181 59.4 180.6 59.5C180.1 59.6 180.2 59.6 179.7 59.3C179.3 59.1 179.4 59.1 179.2 58.7C179 58.3 179 58.4 179.2 58C179.4 57.6 179.3 57.7 179.8 57.6C180.3 57.5 180.2 57.5 180.6 57.8C181.1 58 181 57.9 181.2 58.4C181.4 58.8 181.4 58.7 181.2 59.1Z"/>
<path id="b17" d="M203.6 69.4C203.6 70.1 203.7 69.9 203.1 70.4C202.5 71 202.7 70.9 201.8 70.9C201 70.9 201.2 71 200.6 70.4C200 69.9 200 70.1 200 69.4C200 68.6 200 68.8 200.6 68.3C201.2 67.8 201 67.8 201.8 67.8C202.7 67.8 202.5 67.8 203.1 68.3C203.7 68.8 203.6 68.6 203.6 69.4Z"/>
<path id="b18" d="M176.3 70C176.4 70.4 176.5 70.3 175.4 70.7C174.3 71.2 174.6 71.1 172.9 71.4C171.3 71.7 171.6 71.7 170.4 71.6C169.2 71.6 169.3 71.6 169.3 71.3C169.2 70.9 169.1 71 170.2 70.5C171.3 70.1 171 70.2 172.7 69.9C174.3 69.6 174 69.6 175.2 69.7C176.4 69.7 176.3 69.7 176.3 70Z"/>
<path id="b19" d="M200.5 47.3C201.1 46.2 200.8 46.2 202.7 46.2C204.6 46.1 203.7 45.9 206.3 47.1C208.8 48.2 209.9 48.3 210.3 49.7C210.7 51.2 209.6 51.3 207.4 51.3C205.2 51.3 206.1 50.4 203.8 49.7C201.6 49.1 201.8 50.1 200.7 49.3C199.6 48.5 199.8 48.3 200.5 47.3Z"/>
<path id="b20" d="M184.6 56C185.5 54.1 186.3 53.7 189.7 54.1C193.1 54.5 191.8 54.1 194.8 57.3C197.8 60.5 198.2 60.7 198.6 63.6C199.1 66.6 198.2 66.6 196.1 66.2C194 65.8 195.2 64.5 192.3 62.4C189.3 60.2 189.7 61.9 187.2 59.8C184.6 57.7 183.8 57.9 184.6 56Z"/>
<path id="b21" d="M194.2 49.6C194.9 47.9 195.6 47.3 197.1 48.6C198.6 49.9 198.6 51.2 198.6 53.5C198.6 55.7 198.3 55.4 197.1 55.5C195.9 55.6 196 55.7 195.1 53.7C194.1 51.8 193.5 51.3 194.2 49.6Z"/>
<path id="b22" d="M203.9 53.5C204.5 52 204.8 52.6 207.8 51.9C210.8 51.1 210.2 50.9 212.9 51.3C215.5 51.7 215.6 51.5 215.8 53C216 54.5 215.6 54.3 213.5 55.8C211.5 57.3 212 57.4 209.5 57.6C207.1 57.8 208 57.8 206.2 56.5C204.3 55.1 203.4 55.1 203.9 53.5Z"/>
<path id="b23" d="M209.8 62.4C210.5 61 212.1 58.7 215.2 58.3C218.2 57.9 218.4 59.3 219 61.1C219.6 62.9 219 63.2 217.1 63.6C215.2 64.1 215.7 62.8 213.3 62.4C210.9 61.9 209.2 63.7 209.8 62.4Z"/>
<path id="b24" d="M229.3 64.1C229.1 66.3 229.2 65.8 228.5 67.3C227.7 68.8 227.9 68.7 227 68.6C226.1 68.5 226.3 68.7 225.8 67.1C225.3 65.5 225.3 65.9 225.5 63.7C225.7 61.5 225.6 62 226.3 60.5C227.1 59 226.9 59.1 227.8 59.2C228.7 59.3 228.5 59.1 229 60.7C229.5 62.3 229.5 61.8 229.3 64.1Z"/>
<path id="b25" d="M219 67.5C219 68.5 219.2 68.3 217.9 69.1C216.6 69.8 217 69.7 215.2 69.7C213.4 69.7 213.8 69.8 212.5 69.1C211.2 68.3 211.4 68.5 211.4 67.5C211.4 66.4 211.2 66.6 212.5 65.8C213.8 65.1 213.4 65.2 215.2 65.2C217 65.2 216.6 65.1 217.9 65.8C219.2 66.6 219 66.4 219 67.5Z"/>
<path id="b26" d="M237.7 79.5C237.7 81 237.8 80.7 237.2 81.8C236.5 82.9 236.7 82.7 235.8 82.7C234.9 82.7 235.1 82.9 234.5 81.8C233.8 80.7 233.9 81 233.9 79.5C233.9 78 233.8 78.4 234.5 77.3C235.1 76.2 234.9 76.4 235.8 76.4C236.7 76.4 236.5 76.2 237.2 77.3C237.8 78.4 237.7 78 237.7 79.5Z"/>
<path id="b27" d="M136.3 89C138.2 79.8 138.9 88.3 142 89.4C145.1 90.4 143.8 89.8 145.4 92.2C147.1 94.6 146.7 93.5 147 96.6C147.2 99.8 146.1 98.3 146.2 101.7C146.3 105.1 147.4 103.4 147.2 106.8C147 110.2 146.6 108.5 145.7 111.9C144.8 115.3 147.6 115.3 144.4 117C141.3 118.7 139 126.3 136.3 117C133.6 107.7 134.4 98.2 136.3 89Z"/>
<path id="b28" d="M142.7 82.4C142.5 79.9 142.3 80.4 144.4 78.5C146.4 76.5 145.9 77.1 148.9 76.6C151.9 76.1 151.8 75.8 153.4 77C154.9 78.2 155.1 78.9 153.6 80.2C152.1 81.4 151.2 79.7 148.9 80.8C146.6 81.9 147.9 81.8 146.6 83.5C145.4 85.2 146.4 86.4 145.1 86C143.8 85.6 142.9 84.9 142.7 82.4Z"/>
<path id="b29" d="M150.2 87.2C151.1 85.3 151.5 85.9 154.1 84.9C156.8 83.9 157 83.2 158.1 84.1C159.3 85.1 158.9 85.4 157.6 87.7C156.2 90.1 156.2 90.2 154.1 91.2C152 92.2 152.6 92 151.3 90.6C150 89.3 149.3 89.1 150.2 87.2Z"/>
<path id="b30" d="M146.5 82.3C147.1 80.6 147.7 80.6 148.9 81.6C150.1 82.5 150 82.8 150 85.1C150.1 87.5 150.2 87.9 149.1 88.5C148.1 89.1 147.8 88.9 146.9 86.8C146 84.8 145.8 84.1 146.5 82.3Z"/>
<path id="b31" d="M154.6 80.8C156.7 79.4 159.6 78.9 162 79.5C164.5 80.1 164.1 81.1 162 82.5C159.9 83.9 158.2 84.3 155.8 83.8C153.3 83.2 152.5 82.3 154.6 80.8Z"/>
<path id="b32" d="M152.5 75.6C152.5 76.4 152.6 76.2 151.9 76.7C151.1 77.3 151.3 77.2 150.3 77.2C149.2 77.2 149.4 77.3 148.7 76.7C147.9 76.2 148 76.4 148 75.6C148 74.9 147.9 75.1 148.7 74.5C149.4 74 149.2 74.1 150.3 74.1C151.3 74.1 151.1 74 151.9 74.5C152.6 75.1 152.5 74.9 152.5 75.6Z"/>
<path id="b33" d="M157.6 95.5C158.6 95 159.2 94.6 158.7 96.3C158.3 98 157.7 97.8 156.2 100.6C154.8 103.3 155.3 102.3 154.5 104.6C153.6 106.9 154.3 106.8 153.6 107.5C152.8 108.3 152.2 108.7 152.2 106.8C152.2 105 152.4 104.9 153.6 101.9C154.7 98.9 154.2 100 155.6 97.9C156.9 95.8 156.5 96.1 157.6 95.5Z"/>
<path id="b34" d="M157.9 102.7C158.6 100.7 159.1 100.2 160.4 99.3C161.7 98.5 161.9 98.6 161.8 100.2C161.7 101.9 161.3 102.5 160.1 104.3C159 106 159.1 106 158.4 105.5C157.6 105 157.2 104.8 157.9 102.7Z"/>
<path id="b35" d="M150.6 113.4C150.6 114.3 150.6 114.1 150.1 114.7C149.6 115.3 149.7 115.2 149 115.2C148.3 115.2 148.4 115.3 147.9 114.7C147.4 114.1 147.4 114.3 147.4 113.4C147.4 112.6 147.4 112.8 147.9 112.2C148.4 111.6 148.3 111.6 149 111.6C149.7 111.6 149.6 111.6 150.1 112.2C150.6 112.8 150.6 112.6 150.6 113.4Z"/>
<path id="b36" d="M147.7 94.8C147.6 95.2 147.7 95.1 147 95.2C146.2 95.2 146.4 95.3 145.5 94.9C144.6 94.6 144.8 94.7 144.2 94.2C143.7 93.7 143.8 93.8 143.9 93.4C144 93 143.9 93.1 144.7 93C145.4 93 145.2 92.9 146.1 93.3C147 93.6 146.9 93.5 147.4 94C147.9 94.5 147.9 94.4 147.7 94.8Z"/>
<path id="b37" d="M171.7 91.8C171.7 92.6 171.7 92.5 171.1 93.1C170.4 93.7 170.6 93.6 169.6 93.6C168.7 93.6 168.9 93.7 168.2 93.1C167.5 92.5 167.6 92.6 167.6 91.8C167.6 91 167.5 91.1 168.2 90.5C168.9 89.9 168.7 90 169.6 90C170.6 90 170.4 89.9 171.1 90.5C171.7 91.1 171.7 91 171.7 91.8Z"/>
<path id="b38" d="M181.7 82.9C181.7 83.4 181.8 83.3 181.3 83.7C180.8 84.1 180.9 84 180.2 84C179.5 84 179.6 84.1 179.1 83.7C178.6 83.3 178.7 83.4 178.7 82.9C178.7 82.4 178.6 82.5 179.1 82.1C179.6 81.7 179.5 81.7 180.2 81.7C180.9 81.7 180.8 81.7 181.3 82.1C181.8 82.5 181.7 82.4 181.7 82.9Z"/>
<path id="b39" d="M194.2 80.7C194.2 81.3 194.2 81.2 193.8 81.5C193.4 81.9 193.5 81.9 192.9 81.9C192.3 81.9 192.4 81.9 192 81.5C191.6 81.2 191.6 81.3 191.6 80.7C191.6 80.2 191.6 80.3 192 79.9C192.4 79.5 192.3 79.6 192.9 79.6C193.5 79.6 193.4 79.5 193.8 79.9C194.2 80.3 194.2 80.2 194.2 80.7Z"/>
<path id="b40" d="M243.2 80.1C242.3 71.7 242.3 79.9 240.6 82C238.9 84.1 240 82.8 238.1 86.5C236.2 90.1 237.5 89 234.9 92.8C232.4 96.6 232.8 94.7 230.5 97.9C228.1 101.1 227.9 99.8 227.9 102.4C227.9 104.9 227.5 104.2 230.5 105.5C233.4 106.9 232.6 105.8 236.8 106.3C241.1 106.8 241.1 115.8 243.2 107.1C245.3 98.3 244 88.4 243.2 80.1Z"/>
<path id="b41" d="M238 80.1C238 81.5 238.1 81.2 237.3 82.3C236.6 83.3 236.8 83.1 235.8 83.1C234.8 83.1 235 83.3 234.3 82.3C233.5 81.2 233.6 81.5 233.6 80.1C233.6 78.7 233.5 78.9 234.3 77.9C235 76.9 234.8 77 235.8 77C236.8 77 236.6 76.9 237.3 77.9C238.1 78.9 238 78.7 238 80.1Z"/>
<path id="b42" d="M234.6 86C234.8 86.4 234.8 86.3 234.5 86.8C234.2 87.3 234.3 87.2 233.7 87.4C233.1 87.6 233.3 87.6 232.7 87.4C232.2 87.3 232.3 87.4 232.1 86.9C232 86.5 231.9 86.6 232.2 86.1C232.6 85.6 232.4 85.7 233 85.5C233.6 85.3 233.5 85.3 234 85.5C234.6 85.6 234.5 85.5 234.6 86Z"/>
<path id="b43" d="M229.5 93.1C229.5 93.7 229.5 93.5 229 93.9C228.5 94.4 228.6 94.3 227.9 94.3C227.2 94.3 227.3 94.4 226.8 93.9C226.3 93.5 226.3 93.7 226.3 93.1C226.3 92.5 226.3 92.6 226.8 92.2C227.3 91.8 227.2 91.8 227.9 91.8C228.6 91.8 228.5 91.8 229 92.2C229.5 92.6 229.5 92.5 229.5 93.1Z"/>
<path id="b44" d="M220 108.6C220.7 106.6 221.9 105.1 225.4 104.3C228.8 103.5 226.6 105.3 230.5 106.2C234.3 107 232.8 106.4 236.8 106.8C240.8 107.2 240.8 106.6 242.5 107.5C244.3 108.3 244.9 109 242.2 109.4C239.4 109.7 239 109 234.3 108.6C229.5 108.2 231.6 107.5 227.9 108.1C224.3 108.7 226 110.2 223.3 110.4C220.7 110.6 219.3 110.6 220 108.6Z"/>
<path id="b45" d="M222.5 112.8C222.5 113.6 222.6 113.5 221.9 114.1C221.1 114.7 221.3 114.6 220.3 114.6C219.2 114.6 219.4 114.7 218.7 114.1C217.9 113.5 218 113.6 218 112.8C218 112 217.9 112.1 218.7 111.5C219.4 110.9 219.2 111 220.3 111C221.3 111 221.1 110.9 221.9 111.5C222.6 112.1 222.5 112 222.5 112.8Z"/>
<path id="b46" d="M228.9 112.7C228.7 113.1 228.8 113.1 228.2 113.2C227.5 113.3 227.7 113.3 227 113C226.2 112.7 226.4 112.8 225.9 112.4C225.5 111.9 225.6 112 225.7 111.6C225.8 111.2 225.7 111.3 226.4 111.2C227 111.1 226.8 111.1 227.6 111.3C228.3 111.6 228.2 111.5 228.6 112C229 112.4 229 112.3 228.9 112.7Z"/>
<path id="b47" d="M236.6 114.5C236.6 115 236.7 114.9 236.1 115.2C235.5 115.6 235.7 115.6 234.9 115.6C234.1 115.6 234.3 115.6 233.7 115.2C233.2 114.9 233.2 115 233.2 114.5C233.2 113.9 233.2 114 233.7 113.7C234.3 113.3 234.1 113.3 234.9 113.3C235.7 113.3 235.5 113.3 236.1 113.7C236.7 114 236.6 113.9 236.6 114.5Z"/>
<path id="b48" d="M137.5 109.3C139.7 106.9 143.1 107.4 146.5 108.6C149.8 109.9 147.7 110.8 147.7 113.1C147.7 115.4 146 113.1 146.5 115.6C146.9 118.2 146.9 116.9 149 120.7C151.1 124.5 150.1 123.7 152.8 127.1C155.6 130.5 154.1 129 157.3 130.9C160.5 132.8 159.9 130.9 162.4 132.8C164.8 134.8 164.3 134 164.5 136.8C164.7 139.5 166.5 141.6 163 141.1C159.5 140.6 159.6 140.5 154.1 135.4C148.6 130.3 151.1 132.4 146.5 125.8C141.8 119.2 143.1 121.2 140.1 115.6C137.1 110.1 135.4 111.6 137.5 109.3Z"/>
<path id="b49" d="M146.2 114C146.2 114.6 146.3 114.5 145.7 114.9C145.2 115.4 145.3 115.3 144.5 115.3C143.8 115.3 143.9 115.4 143.4 114.9C142.8 114.5 142.9 114.6 142.9 114C142.9 113.3 142.8 113.5 143.4 113C143.9 112.6 143.8 112.6 144.5 112.6C145.3 112.6 145.2 112.6 145.7 113C146.3 113.5 146.2 113.3 146.2 114Z"/>
<path id="b50" d="M150.1 118.8C150.1 119.9 150.2 119.7 149.8 120.4C149.4 121.1 149.5 121.1 149 121.1C148.5 121.1 148.6 121.1 148.2 120.4C147.8 119.7 147.9 119.9 147.9 118.8C147.9 117.8 147.8 118 148.2 117.2C148.6 116.5 148.5 116.6 149 116.6C149.5 116.6 149.4 116.5 149.8 117.2C150.2 118 150.1 117.8 150.1 118.8Z"/>
<path id="b51" d="M149.5 107.9C150.6 106.2 151.9 105.8 153.2 107.9C154.5 109.9 154 111.7 153.3 114C152.7 116.3 152.5 115.1 151.3 114.7C150.2 114.3 150.5 115.2 149.9 112.9C149.3 110.6 148.4 109.5 149.5 107.9Z"/>
<path id="b52" d="M153.9 113.3C154.8 110.5 155.7 110.5 157.8 110.5C159.9 110.5 159.8 110.7 160.2 113.3C160.6 115.9 160.8 116.4 159.1 118.3C157.3 120.3 156.7 120.7 155 119C153.3 117.3 153 116.1 153.9 113.3Z"/>
<path id="b53" d="M162.4 111.7C164 110.6 164.8 110.6 165.9 112.8C167.1 115.1 166.3 114.7 165.9 118.4C165.5 122.2 165.7 120.9 164.8 124C163.9 127.2 164.7 126.4 163.1 128C161.6 129.5 161 130.3 160.2 128.6C159.4 127 160.4 127.1 160.8 122.9C161.1 118.8 160.8 119.9 161.3 116.2C161.9 112.5 160.9 112.8 162.4 111.7Z"/>
<path id="b54" d="M166.8 114.8C167.9 112.6 168.5 113.7 168.9 116.5C169.4 119.3 169.1 118.9 168.3 123.2C167.4 127.5 167.6 127.1 166.4 129.4C165.1 131.7 164.8 132.1 164.6 130.1C164.3 128 164.9 128.3 165.7 123.2C166.4 118.1 165.7 117.1 166.8 114.8Z"/>
<path id="b55" d="M171.3 125.2C172.6 126 172.4 126 173.3 129.6C174.2 133.2 174.2 132.1 173.9 136C173.7 139.9 174.5 139.4 172.7 141.3C170.8 143.3 170.9 142.8 168.3 141.9C165.8 140.9 166.3 141.3 164.9 138.5C163.6 135.7 163.4 136 164.3 133.5C165.1 130.9 165.8 133 167.5 130.9C169.2 128.8 168.1 129 169.4 127.1C170.6 125.2 170 124.3 171.3 125.2Z"/>
<path id="b56" d="M155.1 123.3C155.1 124.3 155.2 124.1 154.6 124.9C154.1 125.6 154.2 125.5 153.5 125.5C152.7 125.5 152.8 125.6 152.3 124.9C151.7 124.1 151.8 124.3 151.8 123.3C151.8 122.2 151.7 122.4 152.3 121.7C152.8 120.9 152.7 121 153.5 121C154.2 121 154.1 120.9 154.6 121.7C155.2 122.4 155.1 122.2 155.1 123.3Z"/>
<path id="b57" d="M156.6 128.6C156.6 129.3 156.7 129.2 156.1 129.7C155.4 130.2 155.6 130.1 154.7 130.1C153.8 130.1 154 130.2 153.4 129.7C152.7 129.2 152.8 129.3 152.8 128.6C152.8 127.9 152.7 128 153.4 127.5C154 127 153.8 127.1 154.7 127.1C155.6 127.1 155.4 127 156.1 127.5C156.7 128 156.6 127.9 156.6 128.6Z"/>
<path id="b58" d="M160.1 123C160.1 123.9 160.2 123.7 159.8 124.4C159.3 125 159.4 124.9 158.8 124.9C158.2 124.9 158.3 125 157.9 124.4C157.4 123.7 157.5 123.9 157.5 123C157.5 122.1 157.4 122.3 157.9 121.7C158.3 121 158.2 121.1 158.8 121.1C159.4 121.1 159.3 121 159.8 121.7C160.2 122.3 160.1 122.1 160.1 123Z"/>
<path id="b59" d="M177.6 141.3C178.3 138.2 178.1 138.8 180.8 137.9C183.6 137 182.5 137.7 185.9 138.5C189.3 139.4 188 139 191 140.5C194 141.9 194 140.7 194.9 143C195.9 145.3 199.1 146 193.8 147.5C188.5 148.9 184.3 149.5 178.9 147.5C173.5 145.4 177 144.5 177.6 141.3Z"/>
<path id="b60" d="M201.2 129.6C201.2 131.4 201.3 131.1 200.3 132.3C199.2 133.6 199.5 133.5 198 133.5C196.5 133.5 196.8 133.6 195.8 132.3C194.7 131.1 194.8 131.4 194.8 129.6C194.8 127.8 194.7 128.2 195.8 126.9C196.8 125.7 196.5 125.8 198 125.8C199.5 125.8 199.2 125.7 200.3 126.9C201.3 128.2 201.2 127.8 201.2 129.6Z"/>
<path id="b61" d="M188.1 136.3C188.1 136.9 188.2 136.8 187.8 137.2C187.3 137.7 187.4 137.6 186.8 137.6C186.2 137.6 186.3 137.7 185.9 137.2C185.4 136.8 185.5 136.9 185.5 136.3C185.5 135.6 185.4 135.8 185.9 135.3C186.3 134.9 186.2 134.9 186.8 134.9C187.4 134.9 187.3 134.9 187.8 135.3C188.2 135.8 188.1 135.6 188.1 136.3Z"/>
<path id="b62" d="M205.6 138.5C205.6 139.6 205.7 139.4 204.8 140.1C204 140.9 204.3 140.8 203.1 140.8C201.9 140.8 202.2 140.9 201.3 140.1C200.5 139.4 200.6 139.6 200.6 138.5C200.6 137.5 200.5 137.7 201.3 137C202.2 136.2 201.9 136.3 203.1 136.3C204.3 136.3 204 136.2 204.8 137C205.7 137.7 205.6 137.5 205.6 138.5Z"/>
<path id="b63" d="M198.3 143.6C198.3 144.4 198.4 144.3 197.8 144.8C197.3 145.4 197.5 145.3 196.7 145.3C196 145.3 196.1 145.4 195.6 144.8C195.1 144.3 195.2 144.4 195.2 143.6C195.2 142.8 195.1 143 195.6 142.4C196.1 141.9 196 142 196.7 142C197.5 142 197.3 141.9 197.8 142.4C198.4 143 198.3 142.8 198.3 143.6Z"/>
<path id="b64" d="M177.6 119.2C175.2 116 175.6 115.8 179.2 118.7C182.8 121.5 183.4 123 188.5 127.7C193.5 132.4 192.7 131 194.2 132.8C195.7 134.6 195.5 134.7 192.9 133.2C190.4 131.7 191.6 133 186.5 128.4C181.5 123.7 180.1 122.4 177.6 119.2Z"/>
<path id="b65" d="M183.9 122C181.8 120.1 182.3 119.9 185 121.2C187.7 122.6 190 124.2 192 126.1C194.1 127.9 193.8 128.2 191.1 126.8C188.4 125.5 185.9 123.9 183.9 122Z"/>
<path id="b66" d="M175.7 129.6C175.7 127.3 176.4 127.1 177.6 129C178.9 130.9 179.5 133 179.5 135.4C179.5 137.7 178.9 137.9 177.6 136C176.4 134.1 175.7 132 175.7 129.6Z"/>
<path id="b67" d="M205.7 138.5C205.7 139.9 205.9 139.6 204.8 140.5C203.8 141.5 204.1 141.3 202.7 141.3C201.3 141.3 201.6 141.5 200.6 140.5C199.6 139.6 199.7 139.9 199.7 138.5C199.7 137.2 199.6 137.5 200.6 136.6C201.6 135.6 201.3 135.7 202.7 135.7C204.1 135.7 203.8 135.6 204.8 136.6C205.9 137.5 205.7 137.2 205.7 138.5Z"/>
<path id="b68" d="M188.1 136.3C188.1 136.9 188.2 136.8 187.8 137.2C187.3 137.7 187.4 137.6 186.8 137.6C186.2 137.6 186.3 137.7 185.8 137.2C185.4 136.8 185.5 136.9 185.5 136.3C185.5 135.6 185.4 135.8 185.8 135.3C186.3 134.9 186.2 134.9 186.8 134.9C187.4 134.9 187.3 134.9 187.8 135.3C188.2 135.8 188.1 135.6 188.1 136.3Z"/>
<path id="b69" d="M197.7 143.6C197.7 144.4 197.7 144.3 197.3 144.8C196.8 145.4 197 145.3 196.3 145.3C195.7 145.3 195.8 145.4 195.4 144.8C194.9 144.3 195 144.4 195 143.6C195 142.8 194.9 143 195.4 142.4C195.8 141.9 195.7 142 196.3 142C197 142 196.8 141.9 197.3 142.4C197.7 143 197.7 142.8 197.7 143.6Z"/>
<path id="b70" d="M222.5 112.5C222.5 113.2 222.6 113.1 221.9 113.6C221.1 114.2 221.3 114.1 220.3 114.1C219.2 114.1 219.4 114.2 218.7 113.6C217.9 113.1 218 113.2 218 112.5C218 111.7 217.9 111.8 218.7 111.3C219.4 110.7 219.2 110.8 220.3 110.8C221.3 110.8 221.1 110.7 221.9 111.3C222.6 111.8 222.5 111.7 222.5 112.5Z"/>
<path id="b71" d="M236.3 114.6C236.4 115.3 236.6 115.1 235.4 115.9C234.2 116.7 234.6 116.6 232.7 117C230.9 117.5 231.3 117.5 229.9 117.4C228.5 117.2 228.6 117.3 228.5 116.7C228.3 116 228.2 116.2 229.3 115.4C230.5 114.6 230.2 114.7 232 114.2C233.8 113.7 233.4 113.8 234.9 113.9C236.3 114 236.1 113.9 236.3 114.6Z"/>
<path id="b72" d="M228.8 112.8C228.6 113.1 228.7 113.1 228.1 113.1C227.6 113.1 227.7 113.1 227.1 112.8C226.5 112.4 226.6 112.5 226.4 112C226.1 111.6 226.1 111.7 226.3 111.3C226.5 111 226.4 111.1 226.9 111.1C227.5 111.1 227.3 111.1 227.9 111.4C228.5 111.7 228.4 111.6 228.7 112.1C229 112.6 229 112.5 228.8 112.8Z"/>
<path id="b73" d="M228.3 123.6C228.7 122.3 229.4 121.8 231.1 120.3C232.8 118.8 232.8 119 233.3 119.2C233.9 119.3 233.9 119.2 232.8 120.8C231.7 122.5 231.5 123.3 230 124.2C228.5 125.1 227.9 124.9 228.3 123.6Z"/>
<path id="b74" d="M180.1 122.8C178.4 120.7 178.1 120.3 181.3 122.3C184.6 124.2 185.8 125.2 189.7 128.7C193.6 132.3 192.4 131.3 193 132.8C193.7 134.3 194.1 134.7 191.8 133.2C189.5 131.7 190.1 131.8 186.2 128.4C182.3 124.9 181.7 124.8 180.1 122.8Z"/>
<path id="b75" d="M203 116.9C201.4 114.5 201.1 113.8 204.2 116C207.4 118.2 208.9 119.2 212.4 123.5C215.9 127.9 214.3 127 214.7 129C215 131 215.3 131.3 213.4 129.4C211.5 127.5 212.6 127.4 209.1 123.3C205.6 119.1 204.6 119.3 203 116.9Z"/>
<path id="b76" d="M215.7 131.5C215.7 132.4 215.8 132.2 215.2 132.8C214.7 133.4 214.9 133.3 214.2 133.3C213.4 133.3 213.6 133.4 213.1 132.8C212.6 132.2 212.6 132.4 212.6 131.5C212.6 130.7 212.6 130.9 213.1 130.3C213.6 129.7 213.4 129.8 214.2 129.8C214.9 129.8 214.7 129.7 215.2 130.3C215.8 130.9 215.7 130.7 215.7 131.5Z"/>
<path id="b77" d="M210.1 133.7C210.1 134.2 210.1 134.1 209.7 134.4C209.3 134.8 209.4 134.7 208.8 134.7C208.2 134.7 208.3 134.8 207.9 134.4C207.5 134.1 207.5 134.2 207.5 133.7C207.5 133.2 207.5 133.3 207.9 133C208.3 132.7 208.2 132.7 208.8 132.7C209.4 132.7 209.3 132.7 209.7 133C210.1 133.3 210.1 133.2 210.1 133.7Z"/>
<path id="q78" d="M183.9 65.5C183.9 66 183.9 65.9 183.5 66.3C183.2 66.6 183.3 66.6 182.7 66.6C182.2 66.6 182.3 66.6 181.9 66.3C181.5 65.9 181.6 66 181.6 65.5C181.6 65.1 181.5 65.2 181.9 64.8C182.3 64.5 182.2 64.5 182.7 64.5C183.3 64.5 183.2 64.5 183.5 64.8C183.9 65.2 183.9 65.1 183.9 65.5Z"/>
<path id="q79" d="M188.3 78.9C188.3 79.4 188.4 79.3 188 79.6C187.6 80 187.7 79.9 187.2 79.9C186.6 79.9 186.8 80 186.4 79.6C186 79.3 186 79.4 186 78.9C186 78.4 186 78.5 186.4 78.2C186.8 77.9 186.6 77.9 187.2 77.9C187.7 77.9 187.6 77.9 188 78.2C188.4 78.5 188.3 78.4 188.3 78.9Z"/>
<path id="q80" d="M206.1 64.9C206.1 65.4 206.2 65.3 205.8 65.6C205.4 66 205.5 65.9 205 65.9C204.5 65.9 204.6 66 204.2 65.6C203.8 65.3 203.9 65.4 203.9 64.9C203.9 64.4 203.8 64.5 204.2 64.2C204.6 63.9 204.5 63.9 205 63.9C205.5 63.9 205.4 63.9 205.8 64.2C206.2 64.5 206.1 64.4 206.1 64.9Z"/>
<path id="q81" d="M209.3 75.1C209.3 75.6 209.4 75.5 209 75.8C208.6 76.2 208.7 76.1 208.2 76.1C207.6 76.1 207.8 76.2 207.4 75.8C207 75.5 207 75.6 207 75.1C207 74.6 207 74.7 207.4 74.4C207.8 74 207.6 74.1 208.2 74.1C208.7 74.1 208.6 74 209 74.4C209.4 74.7 209.3 74.6 209.3 75.1Z"/>
<path id="q82" d="M212.5 79.5C212.5 80 212.6 79.9 212.2 80.3C211.8 80.6 211.9 80.6 211.4 80.6C210.8 80.6 210.9 80.6 210.6 80.3C210.2 79.9 210.2 80 210.2 79.5C210.2 79.1 210.2 79.2 210.6 78.8C210.9 78.5 210.8 78.5 211.4 78.5C211.9 78.5 211.8 78.5 212.2 78.8C212.6 79.2 212.5 79.1 212.5 79.5Z"/>
<path id="q83" d="M220.1 76.4C220.1 76.8 220.2 76.7 219.8 77.1C219.4 77.4 219.5 77.4 219 77.4C218.5 77.4 218.6 77.4 218.2 77.1C217.8 76.7 217.9 76.8 217.9 76.4C217.9 75.9 217.8 76 218.2 75.6C218.6 75.3 218.5 75.3 219 75.3C219.5 75.3 219.4 75.3 219.8 75.6C220.2 76 220.1 75.9 220.1 76.4Z"/>
<path id="q84" d="M213.8 47.1C213.8 47.6 213.8 47.5 213.4 47.8C213.1 48.2 213.2 48.1 212.6 48.1C212.1 48.1 212.2 48.2 211.8 47.8C211.4 47.5 211.5 47.6 211.5 47.1C211.5 46.6 211.4 46.7 211.8 46.4C212.2 46 212.1 46.1 212.6 46.1C213.2 46.1 213.1 46 213.4 46.4C213.8 46.7 213.8 46.6 213.8 47.1Z"/>
<path id="q85" d="M181.7 83.3C181.7 83.8 181.8 83.7 181.3 84.1C180.9 84.5 181 84.4 180.4 84.4C179.8 84.4 180 84.5 179.5 84.1C179.1 83.7 179.2 83.8 179.2 83.3C179.2 82.7 179.1 82.8 179.5 82.5C180 82.1 179.8 82.1 180.4 82.1C181 82.1 180.9 82.1 181.3 82.5C181.8 82.8 181.7 82.7 181.7 83.3Z"/>
<path id="q86" d="M188.7 80.1C188.7 80.6 188.8 80.5 188.3 80.9C187.9 81.3 188 81.2 187.4 81.2C186.8 81.2 187 81.3 186.5 80.9C186.1 80.5 186.2 80.6 186.2 80.1C186.2 79.6 186.1 79.7 186.5 79.3C187 78.9 186.8 78.9 187.4 78.9C188 78.9 187.9 78.9 188.3 79.3C188.8 79.7 188.7 79.6 188.7 80.1Z"/>
<path id="q87" d="M176 104.3C176 104.8 176 104.7 175.6 105.1C175.2 105.5 175.3 105.4 174.7 105.4C174.1 105.4 174.2 105.5 173.8 105.1C173.4 104.7 173.4 104.8 173.4 104.3C173.4 103.7 173.4 103.8 173.8 103.5C174.2 103.1 174.1 103.1 174.7 103.1C175.3 103.1 175.2 103.1 175.6 103.5C176 103.8 176 103.7 176 104.3Z"/>
<path id="q88" d="M190 106.8C190 107.4 190 107.2 189.6 107.6C189.2 108 189.3 108 188.7 108C188.1 108 188.2 108 187.8 107.6C187.4 107.2 187.4 107.4 187.4 106.8C187.4 106.3 187.4 106.4 187.8 106C188.2 105.6 188.1 105.7 188.7 105.7C189.3 105.7 189.2 105.6 189.6 106C190 106.4 190 106.3 190 106.8Z"/>
<path id="q89" d="M203.6 61.4C203.6 62 203.6 61.8 203.1 62.2C202.7 62.7 202.8 62.6 202.1 62.6C201.4 62.6 201.6 62.7 201.1 62.2C200.6 61.8 200.6 62 200.6 61.4C200.6 60.8 200.6 60.9 201.1 60.5C201.6 60.1 201.4 60.1 202.1 60.1C202.8 60.1 202.7 60.1 203.1 60.5C203.6 60.9 203.6 60.8 203.6 61.4Z"/>
<path id="q90" d="M217.2 65.5C217.2 66.1 217.3 66 216.8 66.4C216.3 66.8 216.5 66.7 215.8 66.7C215.1 66.7 215.2 66.8 214.7 66.4C214.2 66 214.3 66.1 214.3 65.5C214.3 64.9 214.2 65 214.7 64.6C215.2 64.2 215.1 64.3 215.8 64.3C216.5 64.3 216.3 64.2 216.8 64.6C217.3 65 217.2 64.9 217.2 65.5Z"/>
<path id="q91" d="M220.4 76.9C220.4 77.5 220.4 77.3 220 77.8C219.5 78.2 219.6 78.1 218.9 78.1C218.2 78.1 218.4 78.2 217.9 77.8C217.4 77.3 217.4 77.5 217.4 76.9C217.4 76.3 217.4 76.4 217.9 76C218.4 75.6 218.2 75.6 218.9 75.6C219.6 75.6 219.5 75.6 220 76C220.4 76.4 220.4 76.3 220.4 76.9Z"/>
<path id="q92" d="M226.7 80C226.7 80.6 226.7 80.5 226.3 80.9C225.8 81.3 225.9 81.2 225.2 81.2C224.5 81.2 224.7 81.3 224.2 80.9C223.7 80.5 223.7 80.6 223.7 80C223.7 79.4 223.7 79.5 224.2 79.1C224.7 78.7 224.5 78.7 225.2 78.7C225.9 78.7 225.8 78.7 226.3 79.1C226.7 79.5 226.7 79.4 226.7 80Z"/>
<path id="q93" d="M233 86.2C233 86.8 233 86.7 232.6 87.1C232.1 87.5 232.2 87.4 231.5 87.4C230.8 87.4 231 87.5 230.5 87.1C230 86.7 230 86.8 230 86.2C230 85.6 230 85.7 230.5 85.3C231 84.9 230.8 85 231.5 85C232.2 85 232.1 84.9 232.6 85.3C233 85.7 233 85.6 233 86.2Z"/>
<path id="q94" d="M226.7 97.6C226.7 98.2 226.7 98 226.3 98.4C225.8 98.9 225.9 98.8 225.2 98.8C224.5 98.8 224.7 98.9 224.2 98.4C223.7 98 223.7 98.2 223.7 97.6C223.7 97 223.7 97.1 224.2 96.7C224.7 96.3 224.5 96.3 225.2 96.3C225.9 96.3 225.8 96.3 226.3 96.7C226.7 97.1 226.7 97 226.7 97.6Z"/>
<path id="q95" d="M220.4 102.7C220.4 103.3 220.4 103.2 220 103.6C219.5 104 219.6 104 218.9 104C218.2 104 218.4 104 217.9 103.6C217.4 103.2 217.4 103.3 217.4 102.7C217.4 102.2 217.4 102.3 217.9 101.9C218.4 101.4 218.2 101.5 218.9 101.5C219.6 101.5 219.5 101.4 220 101.9C220.4 102.3 220.4 102.2 220.4 102.7Z"/>
<path id="q96" d="M214.1 84.1C214.1 84.7 214.1 84.6 213.6 85C213.2 85.4 213.3 85.4 212.6 85.4C211.9 85.4 212.1 85.4 211.6 85C211.1 84.6 211.1 84.7 211.1 84.1C211.1 83.5 211.1 83.7 211.6 83.2C212.1 82.8 211.9 82.9 212.6 82.9C213.3 82.9 213.2 82.8 213.6 83.2C214.1 83.7 214.1 83.5 214.1 84.1Z"/>
<path id="q97" d="M197.3 66.5C197.3 67.1 197.3 67 196.8 67.4C196.4 67.8 196.5 67.8 195.8 67.8C195.1 67.8 195.3 67.8 194.8 67.4C194.3 67 194.3 67.1 194.3 66.5C194.3 66 194.3 66.1 194.8 65.7C195.3 65.3 195.1 65.3 195.8 65.3C196.5 65.3 196.4 65.3 196.8 65.7C197.3 66.1 197.3 66 197.3 66.5Z"/>
<path id="q98" d="M183 81C183 81.6 183.1 81.5 182.6 81.9C182.1 82.3 182.2 82.3 181.5 82.3C180.8 82.3 181 82.3 180.5 81.9C180 81.5 180.1 81.6 180.1 81C180.1 80.4 180 80.6 180.5 80.1C181 79.7 180.8 79.8 181.5 79.8C182.2 79.8 182.1 79.7 182.6 80.1C183.1 80.6 183 80.4 183 81Z"/>
<path id="q99" d="M180.1 84.7C180.1 85.3 180.1 85.2 179.6 85.6C179.1 86 179.3 86 178.6 86C177.9 86 178 86 177.5 85.6C177.1 85.2 177.1 85.3 177.1 84.7C177.1 84.2 177.1 84.3 177.5 83.9C178 83.5 177.9 83.5 178.6 83.5C179.3 83.5 179.1 83.5 179.6 83.9C180.1 84.3 180.1 84.2 180.1 84.7Z"/>
<path id="q100" d="M189.3 78.5C189.3 79.1 189.4 79 188.9 79.4C188.4 79.8 188.5 79.8 187.8 79.8C187.1 79.8 187.3 79.8 186.8 79.4C186.3 79 186.4 79.1 186.4 78.5C186.4 78 186.3 78.1 186.8 77.7C187.3 77.2 187.1 77.3 187.8 77.3C188.5 77.3 188.4 77.2 188.9 77.7C189.4 78.1 189.3 78 189.3 78.5Z"/>
<path id="q101" d="M237.2 79.4C237.2 80.9 237.3 80.6 236.6 81.7C236 82.8 236.2 82.7 235.3 82.7C234.4 82.7 234.6 82.8 234 81.7C233.3 80.6 233.4 80.9 233.4 79.4C233.4 77.8 233.3 78.1 234 77C234.6 75.9 234.4 76.1 235.3 76.1C236.2 76.1 236 75.9 236.6 77C237.3 78.1 237.2 77.8 237.2 79.4Z"/>
<path id="c0" d="M402.5 52.2C407.5 48.5 414.9 44.5 421.5 43.3C428.2 42 422.5 45.4 422.3 48.4C422.1 51.3 420.8 49.8 421 52.2C421.2 54.6 423.2 54.6 422.9 55.5C422.7 56.4 422.4 55.7 420.3 54.9C418.1 54 419.4 53.4 416.5 52.9C413.5 52.5 414.8 53.1 411.4 53.6C408 54 409.2 54.8 406.3 54.3C403.3 53.9 397.4 55.9 402.5 52.2Z"/>
<path id="c1" d="M396.1 57.9C396.7 56 396.5 56.1 399.9 54.7C403.3 53.3 402 53.7 406.3 53.7C410.5 53.7 410 53.5 412.6 54.7C415.2 55.9 414.9 55.5 414 57.3C413.2 59 412.5 58.2 410.1 59.9C407.7 61.7 409.7 61.9 406.9 62.5C404.2 63.1 404.8 62.5 401.8 61.9C398.8 61.2 399.9 61.9 398 60.6C396.1 59.3 395.5 59.9 396.1 57.9Z"/>
<path id="c2" d="M414.1 55.7C414.8 55.1 415.9 55.5 419.1 56.2C422.3 57 421.7 56.6 423.6 57.9C425.5 59.3 425.6 59.7 424.8 60.3C424.1 60.9 424 60.5 421.4 59.7C418.7 59 419.3 59.4 416.9 58C414.5 56.7 413.3 56.3 414.1 55.7Z"/>
<path id="c3" d="M432.3 44.6C434.2 42.1 436.4 42.6 439 44.3C441.7 46 440.4 46.4 440.3 49.7C440.1 53 440.1 52.3 438.6 54.2C437 56.1 437.4 56.1 435.7 55.4C433.9 54.6 434.5 55.5 433.4 51.9C432.3 48.3 430.4 47.2 432.3 44.6Z"/>
<path id="c4" d="M421.5 43.9C424.9 41.8 427.9 41.4 431.7 43.3C435.6 45.2 433.1 45.8 433.1 49.6C433.2 53.5 433.4 52.6 431.9 54.7C430.3 56.9 430.9 56.6 428.5 56.1C426.2 55.7 427.1 55.6 424.7 53.5C422.4 51.3 422.6 52.8 421.5 49.6C420.5 46.5 418.2 46 421.5 43.9Z"/>
<path id="c5" d="M439.9 44.6C441.9 42.9 444.7 41 447.2 44.6C449.6 48.1 448.5 52.1 447.2 55.2C445.9 58.4 445.3 56 443.2 54.1C441.2 52.2 442.1 52.8 441 49.6C439.9 46.5 437.8 46.3 439.9 44.6Z"/>
<path id="c6" d="M429.7 57.7C430.7 56 431.4 55.2 433.7 56C435.9 56.7 434.9 56.9 436.5 59.9C438 62.9 439 63.7 438.3 65.1C437.5 66.4 436.7 65.3 434.2 63.9C431.8 62.6 432.4 63.1 430.9 61C429.4 58.9 428.8 59.4 429.7 57.7Z"/>
<path id="c7" d="M387.1 69.1C386.9 66.5 388.2 63.5 390.5 62.4C392.8 61.3 392.6 63.5 394 65.8C395.3 68 395.5 67.6 394.5 69.1C393.6 70.7 393.5 70.4 391.1 70.4C388.6 70.4 387.3 71.8 387.1 69.1Z"/>
<path id="c8" d="M384.8 75.1C384.4 73.5 385.7 72.3 388.7 71C391.7 69.6 391.8 70 393.7 71C395.6 71.9 395.7 72.1 394.4 73.8C393.1 75.4 393 75.4 389.8 75.9C386.6 76.3 385.1 76.7 384.8 75.1Z"/>
<path id="c9" d="M382.1 80.8C384 78.3 383.8 78.5 387.2 76.4C390.6 74.2 389.7 74 392.3 74.5C394.9 74.9 394.3 74.5 394.9 77.6C395.6 80.8 398.8 81.9 394.3 84C389.8 86.1 385.5 85.1 381.5 84C377.4 82.9 380.2 83.4 382.1 80.8Z"/>
<path id="c10" d="M396.8 62.1C397.1 63 397.1 62.8 396.9 63.5C396.6 64.3 396.8 64.2 396.1 64.4C395.5 64.6 395.6 64.7 394.9 64.2C394.3 63.8 394.4 64 394.1 63.1C393.8 62.3 393.8 62.5 394 61.7C394.3 60.9 394.2 61.1 394.8 60.8C395.4 60.6 395.3 60.6 396 61C396.6 61.4 396.5 61.3 396.8 62.1Z"/>
<path id="c11" d="M401 67.6C400.6 68.6 400.7 68.4 400 68.9C399.3 69.4 399.5 69.4 398.8 69.1C398.1 68.9 398.2 69 398 68.1C397.8 67.3 397.7 67.5 398.1 66.6C398.4 65.6 398.3 65.8 399 65.3C399.8 64.8 399.6 64.8 400.3 65C400.9 65.3 400.8 65.2 401.1 66C401.3 66.9 401.3 66.6 401 67.6Z"/>
<path id="c12" d="M396.7 73.2C398.2 72.1 399.3 72 402.3 71.6C405.3 71.2 405.7 71.3 405.7 72.1C405.7 72.8 404.9 72.9 402.3 73.8C399.6 74.7 399.7 75 397.8 74.7C395.9 74.5 395.2 74.2 396.7 73.2Z"/>
<path id="c13" d="M413.9 71C413.9 71.7 414 71.5 413 72C411.9 72.5 412.2 72.4 410.7 72.4C409.2 72.4 409.5 72.5 408.5 72C407.4 71.5 407.5 71.7 407.5 71C407.5 70.4 407.4 70.5 408.5 70C409.5 69.6 409.2 69.6 410.7 69.6C412.2 69.6 411.9 69.6 413 70C414 70.5 413.9 70.4 413.9 71Z"/>
<path id="c14" d="M405 80.8C405 81.7 405.1 81.5 404.3 82.1C403.4 82.7 403.7 82.6 402.5 82.6C401.3 82.6 401.5 82.7 400.7 82.1C399.8 81.5 399.9 81.7 399.9 80.8C399.9 80 399.8 80.2 400.7 79.6C401.5 79 401.3 79 402.5 79C403.7 79 403.4 79 404.3 79.6C405.1 80.2 405 80 405 80.8Z"/>
<path id="c15" d="M447 69.4C447 70.2 447.1 70 446.3 70.6C445.4 71.2 445.7 71.1 444.5 71.1C443.3 71.1 443.5 71.2 442.7 70.6C441.8 70 441.9 70.2 441.9 69.4C441.9 68.5 441.8 68.7 442.7 68.1C443.5 67.5 443.3 67.6 444.5 67.6C445.7 67.6 445.4 67.5 446.3 68.1C447.1 68.7 447 68.5 447 69.4Z"/>
<path id="c16" d="M439.9 46.4C441.2 44.8 441.6 44.1 444.4 45C447.3 46 447.3 46.5 448.4 49.2C449.6 51.9 448.9 50.8 447.9 53.1C446.9 55.4 447.4 55.8 445.5 56C443.6 56.2 443.9 55.9 442.2 53.8C440.5 51.7 441.2 52.2 440.5 49.7C439.7 47.3 438.6 47.9 439.9 46.4Z"/>
<path id="c17" d="M445.1 48.6C444.9 47.2 445.3 46.6 448.5 47.2C451.6 47.8 453.4 48.4 454.6 50.4C455.8 52.4 453.9 52.9 452 53.3C450.2 53.7 451.3 53.1 449 51.5C446.7 49.9 445.3 50 445.1 48.6Z"/>
<path id="c18" d="M450.2 54.7C451.7 52.6 450.8 52.2 454 51.5C457.2 50.9 457 51.1 459.7 52.8C462.5 54.5 461 53 462.3 56.6C463.6 60.2 461.3 61.1 463.7 63.6C466 66.2 466.5 63.4 469.3 64.3C472 65.1 471.3 64.4 471.9 66.2C472.6 67.9 472.8 68 471.3 69.5C469.8 71 470.4 70.8 467.4 70.8C464.4 70.8 464.8 71 462.3 69.5C459.7 68 459.9 68.3 459.7 66.2C459.5 64.1 462.9 64.4 461.6 63.1C460.4 61.9 459.3 63.2 455.9 62.5C452.5 61.8 453.6 62.6 451.5 61.1C449.3 59.6 450 60 449.5 57.9C449.1 55.8 448.7 56.8 450.2 54.7Z"/>
<path id="c19" d="M461.7 54.2C462.7 53.3 463.1 54.1 466.4 55.9C469.7 57.7 469.6 57.1 471.6 59.6C473.6 62.1 473.2 62 472.4 63.4C471.5 64.9 471.6 63.7 469 64C466.4 64.2 466.4 66 464.5 64.2C462.7 62.5 464.3 62 463.4 58.7C462.5 55.4 460.7 55.2 461.7 54.2Z"/>
<path id="c20" d="M474.2 76.6C475.3 73.7 474.8 74.7 477 74.4C479.2 74.1 479.1 72.8 480.9 75.7C482.8 78.7 485 80.8 482.6 83.4C480.2 85.9 476.4 85.6 473.6 83.4C470.8 81.1 473.1 79.6 474.2 76.6Z"/>
<path id="c21" d="M423.7 58.7C423.4 59.3 423.5 59.2 422.7 59.4C421.8 59.6 422 59.6 421 59.3C420.1 58.9 420.2 59 419.7 58.3C419.2 57.6 419.2 57.8 419.4 57.1C419.7 56.5 419.5 56.6 420.4 56.4C421.3 56.2 421.1 56.2 422 56.5C423 56.9 422.9 56.8 423.4 57.5C423.9 58.2 423.9 58 423.7 58.7Z"/>
<path id="c22" d="M462 76.6C462 77.5 462.1 77.3 461.6 78C461 78.6 461.2 78.5 460.4 78.5C459.6 78.5 459.7 78.6 459.2 78C458.6 77.3 458.7 77.5 458.7 76.6C458.7 75.7 458.6 75.9 459.2 75.3C459.7 74.6 459.6 74.7 460.4 74.7C461.2 74.7 461 74.6 461.6 75.3C462.1 75.9 462 75.7 462 76.6Z"/>
<path id="c23" d="M448.3 69C448.3 69.7 448.4 69.6 447.3 70.1C446.3 70.6 446.6 70.5 445.1 70.5C443.6 70.5 443.9 70.6 442.8 70.1C441.8 69.6 441.9 69.7 441.9 69C441.9 68.3 441.8 68.4 442.8 67.9C443.9 67.4 443.6 67.5 445.1 67.5C446.6 67.5 446.3 67.4 447.3 67.9C448.4 68.4 448.3 68.3 448.3 69Z"/>
<path id="c24" d="M456 78.9C456 79.5 456.1 79.4 455.6 79.8C455 80.2 455.2 80.2 454.4 80.2C453.6 80.2 453.8 80.2 453.2 79.8C452.7 79.4 452.7 79.5 452.7 78.9C452.7 78.3 452.7 78.4 453.2 78C453.8 77.6 453.6 77.6 454.4 77.6C455.2 77.6 455 77.6 455.6 78C456.1 78.4 456 78.3 456 78.9Z"/>
<path id="c25" d="M453.4 63.6C453.4 64.2 453.4 64.1 453 64.4C452.6 64.8 452.7 64.8 452.1 64.8C451.5 64.8 451.6 64.8 451.2 64.4C450.8 64.1 450.8 64.2 450.8 63.6C450.8 63.1 450.8 63.2 451.2 62.8C451.6 62.4 451.5 62.5 452.1 62.5C452.7 62.5 452.6 62.4 453 62.8C453.4 63.2 453.4 63.1 453.4 63.6Z"/>
<path id="c26" d="M466.1 71.9C466.1 72.5 466.1 72.4 465.7 72.8C465.3 73.2 465.4 73.2 464.8 73.2C464.2 73.2 464.3 73.2 463.9 72.8C463.5 72.4 463.5 72.5 463.5 71.9C463.5 71.3 463.5 71.4 463.9 71C464.3 70.6 464.2 70.6 464.8 70.6C465.4 70.6 465.3 70.6 465.7 71C466.1 71.4 466.1 71.3 466.1 71.9Z"/>
<path id="c27" d="M468 70.3C468 70.7 468 70.6 467.7 70.9C467.4 71.2 467.5 71.2 467.1 71.2C466.7 71.2 466.8 71.2 466.5 70.9C466.2 70.6 466.2 70.7 466.2 70.3C466.2 69.8 466.2 69.9 466.5 69.6C466.8 69.3 466.7 69.4 467.1 69.4C467.5 69.4 467.4 69.3 467.7 69.6C468 69.9 468 69.8 468 70.3Z"/>
<path id="c28" d="M383.4 80.1C384.6 77.5 383.8 77.8 387.2 76.3C390.6 74.8 390.6 74.4 393.5 75.6C396.5 76.9 393.5 78.8 396.1 80.1C398.6 81.4 398.2 79.2 401.2 79.5C404.2 79.7 405.1 79.7 405.1 80.7C405.1 81.8 404.2 81.7 401.2 82.6C398.2 83.5 398.6 82.1 396.1 83.4C393.5 84.7 395.7 84.8 393.5 86.5C391.4 88.2 391.6 87 389.7 88.5C387.8 90 388.7 88.6 387.8 90.9C387 93.2 386.9 92.2 387.2 95.4C387.4 98.5 388.5 97.1 388.6 100.5C388.6 103.8 389.3 103.4 387.3 105.5C385.4 107.7 385.5 108 382.7 106.9C379.9 105.9 380.2 106.6 378.9 102.4C377.6 98.1 377.6 98.1 378.9 94.1C380.2 90.1 380.6 92.4 382.7 90.3C384.8 88.2 385.1 89.8 385.3 87.7C385.5 85.6 384 86.5 383.4 83.9C382.7 81.4 382.1 82.6 383.4 80.1Z"/>
<path id="c29" d="M392 88.4C392.2 86.9 393.5 86.6 395.4 86.5C397.3 86.3 397.9 86.4 397.8 87.8C397.6 89.2 396.7 90.5 394.8 90.7C392.9 90.9 391.9 89.8 392 88.4Z"/>
<path id="c30" d="M386.2 110C386.2 111.1 386.3 110.8 385.6 111.6C384.8 112.3 385.1 112.2 384 112.2C382.9 112.2 383.2 112.3 382.4 111.6C381.7 110.8 381.8 111.1 381.8 110C381.8 108.9 381.7 109.2 382.4 108.4C383.2 107.7 382.9 107.8 384 107.8C385.1 107.8 384.8 107.7 385.6 108.4C386.3 109.2 386.2 108.9 386.2 110Z"/>
<path id="c31" d="M400.9 112.8C400.9 114.1 401 113.8 400.2 114.8C399.5 115.7 399.7 115.6 398.6 115.6C397.6 115.6 397.8 115.7 397.1 114.8C396.3 113.8 396.4 114.1 396.4 112.8C396.4 111.5 396.3 111.8 397.1 110.8C397.8 109.9 397.6 110 398.6 110C399.7 110 399.5 109.9 400.2 110.8C401 111.8 400.9 111.5 400.9 112.8Z"/>
<path id="c32" d="M399.3 99.4C398.5 101 398.7 100.7 397.8 101.7C397 102.7 397.1 102.6 396.6 102.4C396.2 102.2 396.2 102.3 396.4 101C396.6 99.7 396.5 100.1 397.2 98.4C398 96.8 397.8 97.1 398.7 96.1C399.5 95.1 399.4 95.2 399.9 95.5C400.4 95.7 400.3 95.5 400.1 96.8C399.9 98.1 400.1 97.8 399.3 99.4Z"/>
<path id="c33" d="M394.3 109.3C393.6 110.7 393.8 110.5 393 111.3C392.1 112.2 392.3 112.1 391.7 111.8C391.2 111.6 391.2 111.8 391.3 110.5C391.4 109.3 391.3 109.7 392 108.2C392.7 106.7 392.5 107 393.4 106.1C394.2 105.3 394.1 105.4 394.6 105.6C395.2 105.9 395.1 105.7 395 106.9C394.9 108.1 395 107.8 394.3 109.3Z"/>
<path id="c34" d="M407.5 113.4C407.5 114.5 407.6 114.3 407.1 115.1C406.6 115.8 406.7 115.7 406 115.7C405.3 115.7 405.4 115.8 404.9 115.1C404.4 114.3 404.5 114.5 404.5 113.4C404.5 112.4 404.4 112.6 404.9 111.8C405.4 111.1 405.3 111.1 406 111.1C406.7 111.1 406.6 111.1 407.1 111.8C407.6 112.6 407.5 112.4 407.5 113.4Z"/>
<path id="c35" d="M405.8 101.3C406.1 102.2 406.2 101.9 405.1 103C404 104.1 404.3 103.9 402.5 104.5C400.6 105.2 401 105.1 399.5 105C398 104.9 398.2 105 397.9 104.2C397.6 103.3 397.5 103.6 398.6 102.5C399.7 101.4 399.3 101.6 401.2 101C403 100.3 402.6 100.3 404.1 100.5C405.7 100.6 405.5 100.5 405.8 101.3Z"/>
<path id="c36" d="M434.5 81.4C434.5 82.4 434.6 82.2 433.7 83C432.8 83.7 433 83.7 431.7 83.7C430.4 83.7 430.7 83.7 429.7 83C428.8 82.2 428.9 82.4 428.9 81.4C428.9 80.3 428.8 80.5 429.7 79.7C430.7 79 430.4 79.1 431.7 79.1C433 79.1 432.8 79 433.7 79.7C434.6 80.5 434.5 80.3 434.5 81.4Z"/>
<path id="c37" d="M413.3 91.5C413.3 92.3 413.4 92.2 412.7 92.7C412.1 93.3 412.3 93.2 411.4 93.2C410.5 93.2 410.7 93.3 410 92.7C409.4 92.2 409.5 92.3 409.5 91.5C409.5 90.8 409.4 90.9 410 90.4C410.7 89.8 410.5 89.9 411.4 89.9C412.3 89.9 412.1 89.8 412.7 90.4C413.4 90.9 413.3 90.8 413.3 91.5Z"/>
<path id="c38" d="M485.2 78.8C483.5 70.5 483.1 80.9 480.1 83.9C477.1 86.9 478.4 84.3 476.3 87.7C474.2 91.1 476.3 90.5 473.7 94.1C471.2 97.7 472.5 95.4 468.6 98.5C464.8 101.7 465.2 100.9 462.3 103.6C459.3 106.4 459.7 104.7 459.7 106.8C459.7 108.9 458.9 109.3 462.3 110C465.7 110.7 465.2 109.1 469.9 108.9C474.6 108.6 471.2 109.4 476.3 109.4C481.4 109.4 482.2 119 485.2 108.9C488.2 98.7 486.9 87.1 485.2 78.8Z"/>
<path id="c39" d="M458.9 104.1C459.6 102 460 102.2 462.8 99.6C465.6 97 465.6 98.6 467.3 96.2C468.9 93.8 466.7 94.2 467.8 92.3C468.9 90.4 468.9 90.4 470.6 90.6C472.3 90.8 472.7 91.2 473 92.9C473.2 94.5 472.8 93.8 471.3 95.7C469.8 97.6 470.8 96.3 468.4 98.6C465.9 100.8 466.5 100.1 463.9 102.5C461.3 104.9 462.2 105.3 460.5 105.9C458.9 106.4 458.1 106.1 458.9 104.1Z"/>
<path id="c40" d="M474.2 79C474.8 75.9 474.3 76.4 476.4 75.4C478.6 74.4 478.9 74 480.6 76C482.3 77.9 482.4 78.1 481.6 81.2C480.8 84.3 480.5 84.1 478.2 85.3C476 86.4 476.1 86.7 474.8 84.6C473.4 82.5 473.6 82.1 474.2 79Z"/>
<path id="c41" d="M458.4 112C459.3 109.6 458.6 110 461.2 109.2C463.8 108.5 464.3 108.5 466.2 109.8C468.1 111.1 467.5 110.9 466.9 113.1C466.3 115.4 467.4 115.4 464.6 116.5C461.7 117.6 460.4 118 458.4 116.5C456.3 115 457.5 114.5 458.4 112Z"/>
<path id="c42" d="M466.1 110.6C467.8 108.8 466.1 109.7 472.5 109.1C478.8 108.5 480.9 106.9 485.2 108.9C489.4 110.8 491.1 113.1 485.2 115.1C479.2 117 473.7 116.2 467.4 114.7C461 113.2 464.4 112.5 466.1 110.6Z"/>
<path id="c43" d="M473.3 109.6C473.3 110 473.4 110 472.9 110.2C472.4 110.5 472.5 110.5 471.8 110.5C471.1 110.5 471.2 110.5 470.7 110.2C470.2 110 470.3 110 470.3 109.6C470.3 109.2 470.2 109.3 470.7 109C471.2 108.7 471.1 108.7 471.8 108.7C472.5 108.7 472.4 108.7 472.9 109C473.4 109.3 473.3 109.2 473.3 109.6Z"/>
<path id="c44" d="M479.3 110C479.3 110.4 479.4 110.3 478.8 110.6C478.2 110.9 478.4 110.9 477.5 110.9C476.7 110.9 476.9 110.9 476.3 110.6C475.7 110.3 475.8 110.4 475.8 110C475.8 109.6 475.7 109.7 476.3 109.4C476.9 109.1 476.7 109.1 477.5 109.1C478.4 109.1 478.2 109.1 478.8 109.4C479.4 109.7 479.3 109.6 479.3 110Z"/>
<path id="c45" d="M462.3 89C463.3 85.6 465.5 82.7 468 80.1C470.5 77.5 471 77.7 469.9 81.1C468.8 84.5 467.4 87.6 464.8 90.3C462.3 92.9 461.2 92.4 462.3 89Z"/>
<path id="c46" d="M436.8 80.7C436.8 81.6 436.9 81.4 436.1 82.1C435.2 82.7 435.5 82.6 434.3 82.6C433.1 82.6 433.3 82.7 432.5 82.1C431.6 81.4 431.7 81.6 431.7 80.7C431.7 79.8 431.6 80 432.5 79.4C433.3 78.7 433.1 78.8 434.3 78.8C435.5 78.8 435.2 78.7 436.1 79.4C436.9 80 436.8 79.8 436.8 80.7Z"/>
<path id="c47" d="M454.9 78.8C454.9 79.5 455 79.4 454.4 79.9C453.9 80.4 454.1 80.3 453.4 80.3C452.6 80.3 452.8 80.4 452.3 79.9C451.8 79.4 451.8 79.5 451.8 78.8C451.8 78.1 451.8 78.2 452.3 77.7C452.8 77.2 452.6 77.3 453.4 77.3C454.1 77.3 453.9 77.2 454.4 77.7C455 78.2 454.9 78.1 454.9 78.8Z"/>
<path id="c48" d="M462 76.5C462 77.3 462.1 77.2 461.3 77.7C460.6 78.3 460.8 78.2 459.7 78.2C458.7 78.2 458.9 78.3 458.1 77.7C457.4 77.2 457.5 77.3 457.5 76.5C457.5 75.7 457.4 75.9 458.1 75.3C458.9 74.8 458.7 74.8 459.7 74.8C460.8 74.8 460.6 74.8 461.3 75.3C462.1 75.9 462 75.7 462 76.5Z"/>
<path id="c49" d="M439.6 112.7C439.7 113.1 439.7 113 439.3 113.4C438.8 113.7 439 113.7 438.2 113.8C437.5 113.9 437.7 113.9 437.1 113.7C436.6 113.5 436.7 113.6 436.6 113.2C436.5 112.8 436.5 112.9 436.9 112.5C437.4 112.1 437.2 112.2 437.9 112.1C438.6 111.9 438.5 111.9 439 112.1C439.6 112.3 439.5 112.2 439.6 112.7Z"/>
<path id="c50" d="M446.6 112.1C446.7 112.5 446.7 112.4 446.3 112.8C445.8 113.2 446 113.1 445.2 113.2C444.5 113.4 444.7 113.4 444.1 113.2C443.6 113 443.7 113 443.6 112.6C443.5 112.2 443.5 112.3 443.9 111.9C444.4 111.6 444.2 111.6 444.9 111.5C445.6 111.4 445.5 111.4 446 111.6C446.6 111.8 446.5 111.7 446.6 112.1Z"/>
<path id="c51" d="M453.6 111.5C453.7 112 453.7 111.9 453.3 112.2C452.8 112.6 453 112.6 452.2 112.7C451.5 112.8 451.7 112.8 451.1 112.6C450.6 112.4 450.7 112.5 450.6 112.1C450.5 111.7 450.5 111.8 450.9 111.4C451.4 111 451.2 111.1 451.9 110.9C452.6 110.8 452.5 110.8 453 111C453.6 111.2 453.5 111.1 453.6 111.5Z"/>
<path id="c52" d="M383.4 116.5C383.8 114.8 384.9 114.3 387.3 115.7C389.8 117.1 389 117.4 390.7 120.8C392.4 124.2 392.7 124 392.5 125.9C392.3 127.8 392.2 128.1 390.1 126.4C388 124.6 388.4 124 386.2 120.8C384 117.5 383 118.2 383.4 116.5Z"/>
<path id="c53" d="M391.5 120.1C391.5 120.6 391.5 120.5 391.2 120.9C390.8 121.3 390.9 121.2 390.4 121.2C389.8 121.2 389.9 121.3 389.6 120.9C389.2 120.5 389.2 120.6 389.2 120.1C389.2 119.6 389.2 119.7 389.6 119.3C389.9 118.9 389.8 119 390.4 119C390.9 119 390.8 118.9 391.2 119.3C391.5 119.7 391.5 119.6 391.5 120.1Z"/>
<path id="c54" d="M400.9 114.4C400.9 116.2 401 115.8 400.2 117.1C399.5 118.4 399.7 118.3 398.6 118.3C397.6 118.3 397.8 118.4 397.1 117.1C396.3 115.8 396.4 116.2 396.4 114.4C396.4 112.5 396.3 112.9 397.1 111.6C397.8 110.3 397.6 110.4 398.6 110.4C399.7 110.4 399.5 110.3 400.2 111.6C401 112.9 400.9 112.5 400.9 114.4Z"/>
<path id="c55" d="M394.2 110.8C394.2 111.6 394.2 111.4 393.7 112C393.1 112.5 393.3 112.5 392.5 112.5C391.7 112.5 391.9 112.5 391.4 112C390.8 111.4 390.9 111.6 390.9 110.8C390.9 110 390.8 110.2 391.4 109.6C391.9 109.1 391.7 109.1 392.5 109.1C393.3 109.1 393.1 109.1 393.7 109.6C394.2 110.2 394.2 110 394.2 110.8Z"/>
<path id="c56" d="M404.2 113.6C404.7 111.1 405.2 110.6 405.9 113.6C406.6 116.6 405.8 118.6 406.3 122.5C406.9 126.5 407.7 123.6 407.5 125.3C407.2 127.1 407.1 127.2 405.6 127.8C404 128.4 403.5 128.4 402.8 127C402 125.6 402.8 125.7 403.3 123.7C403.9 121.6 404.1 124.2 404.4 120.9C404.7 117.5 403.7 116 404.2 113.6Z"/>
<path id="c57" d="M411.1 127.1C411.1 128.4 411.1 128.1 410.4 129.1C409.7 130 409.9 129.9 408.8 129.9C407.8 129.9 408 130 407.2 129.1C406.5 128.1 406.6 128.4 406.6 127.1C406.6 125.8 406.5 126 407.2 125.1C408 124.2 407.8 124.3 408.8 124.3C409.9 124.3 409.7 124.2 410.4 125.1C411.1 126 411.1 125.8 411.1 127.1Z"/>
<path id="c58" d="M410.6 118.3C410.4 120.1 410.5 119.7 410 120.9C409.5 122.2 409.7 122 409.1 122C408.6 121.9 408.7 122.1 408.4 120.8C408.1 119.5 408.2 119.9 408.3 118.1C408.5 116.3 408.4 116.7 408.9 115.4C409.4 114.2 409.2 114.3 409.8 114.4C410.3 114.4 410.2 114.3 410.5 115.6C410.8 116.9 410.8 116.5 410.6 118.3Z"/>
<path id="c59" d="M414.7 133.7C414.2 135.6 414.4 135.3 412.9 136.3C411.5 137.4 411.8 137.3 410.3 136.9C408.7 136.5 409 136.7 408.2 135.1C407.5 133.4 407.5 133.8 408 131.9C408.6 130 408.3 130.4 409.8 129.3C411.3 128.3 410.9 128.3 412.5 128.8C414 129.2 413.7 128.9 414.5 130.6C415.2 132.2 415.2 131.8 414.7 133.7Z"/>
<path id="c60" d="M413.4 134C413.4 135.1 413.5 134.8 412.6 135.6C411.7 136.4 412 136.3 410.7 136.3C409.5 136.3 409.7 136.4 408.8 135.6C407.9 134.8 408 135.1 408 134C408 132.9 407.9 133.1 408.8 132.3C409.7 131.5 409.5 131.6 410.7 131.6C412 131.6 411.7 131.5 412.6 132.3C413.5 133.1 413.4 132.9 413.4 134Z"/>
<path id="c61" d="M403.2 135.6C403 136.3 403.1 136.2 402.2 136.4C401.2 136.7 401.4 136.7 400.4 136.3C399.3 135.9 399.5 136.1 398.9 135.2C398.3 134.4 398.3 134.6 398.6 133.9C398.9 133.1 398.7 133.3 399.7 133C400.7 132.8 400.4 132.8 401.5 133.1C402.6 133.5 402.4 133.4 403 134.2C403.6 135 403.5 134.8 403.2 135.6Z"/>
<path id="c62" d="M447.2 138.3C447.2 139.5 447.3 139.2 446.5 140C445.6 140.9 445.9 140.8 444.7 140.8C443.5 140.8 443.8 140.9 443 140C442.1 139.2 442.2 139.5 442.2 138.3C442.2 137.1 442.1 137.4 443 136.5C443.8 135.7 443.5 135.8 444.7 135.8C445.9 135.8 445.6 135.7 446.5 136.5C447.3 137.4 447.2 137.1 447.2 138.3Z"/>
<path id="c63" d="M440.4 113.7C440.7 114.4 440.8 114.2 439.8 115.2C438.7 116.1 439.1 115.9 437.4 116.6C435.7 117.2 436.1 117.1 434.7 117C433.3 116.9 433.5 117 433.2 116.3C433 115.6 432.9 115.8 433.9 114.8C434.9 113.9 434.6 114.1 436.3 113.4C437.9 112.8 437.6 112.9 439 113C440.3 113.1 440.1 113 440.4 113.7Z"/>
<path id="c64" d="M441.9 128.6C441.9 129.3 442 129.2 441.4 129.7C440.7 130.2 440.9 130.1 440 130.1C439.1 130.1 439.3 130.2 438.7 129.7C438 129.2 438.1 129.3 438.1 128.6C438.1 127.9 438 128 438.7 127.5C439.3 127 439.1 127.1 440 127.1C440.9 127.1 440.7 127 441.4 127.5C442 128 441.9 127.9 441.9 128.6Z"/>
<path id="c65" d="M446.9 112.5C446.9 113.1 446.9 112.9 446.4 113.4C445.9 113.8 446.1 113.7 445.3 113.7C444.6 113.7 444.8 113.8 444.3 113.4C443.8 112.9 443.8 113.1 443.8 112.5C443.8 111.9 443.8 112 444.3 111.6C444.8 111.1 444.6 111.2 445.3 111.2C446.1 111.2 445.9 111.1 446.4 111.6C446.9 112 446.9 111.9 446.9 112.5Z"/>
<path id="c66" d="M447.5 117.2C447.5 117.8 447.5 117.7 447.2 118.1C446.8 118.6 446.9 118.5 446.4 118.5C445.8 118.5 445.9 118.6 445.6 118.1C445.2 117.7 445.2 117.8 445.2 117.2C445.2 116.5 445.2 116.7 445.6 116.2C445.9 115.8 445.8 115.8 446.4 115.8C446.9 115.8 446.8 115.8 447.2 116.2C447.5 116.7 447.5 116.5 447.5 117.2Z"/>
<path id="c67" d="M421.3 129.6C421.3 130.5 421.4 130.3 420.6 130.9C419.9 131.5 420.1 131.4 419 131.4C417.9 131.4 418.1 131.5 417.4 130.9C416.6 130.3 416.7 130.5 416.7 129.6C416.7 128.8 416.6 129 417.4 128.4C418.1 127.8 417.9 127.9 419 127.9C420.1 127.9 419.9 127.8 420.6 128.4C421.4 129 421.3 128.8 421.3 129.6Z"/>
<path id="c68" d="M420.8 141.7C420.8 142.3 420.9 142.2 420.3 142.5C419.7 142.9 419.8 142.9 419 142.9C418.2 142.9 418.3 142.9 417.7 142.5C417.1 142.2 417.2 142.3 417.2 141.7C417.2 141.2 417.1 141.3 417.7 140.9C418.3 140.5 418.2 140.6 419 140.6C419.8 140.6 419.7 140.5 420.3 140.9C420.9 141.3 420.8 141.2 420.8 141.7Z"/>
<path id="c69" d="M433.3 144.9C433.3 145.4 433.3 145.3 432.8 145.6C432.3 146 432.4 145.9 431.7 145.9C431 145.9 431.2 146 430.6 145.6C430.1 145.3 430.2 145.4 430.2 144.9C430.2 144.4 430.1 144.5 430.6 144.2C431.2 143.9 431 143.9 431.7 143.9C432.4 143.9 432.3 143.9 432.8 144.2C433.3 144.5 433.3 144.4 433.3 144.9Z"/>
<path id="c70" d="M457.2 113.1C457.6 111.4 457.2 111.2 459.7 109.9C462.3 108.6 462.5 108.2 464.8 109.3C467.2 110.3 465 111.4 466.7 113.1C468.4 114.8 467.2 114.2 469.9 114.4C472.7 114.6 472.2 113.3 475 113.7C477.8 114.2 478.3 113.9 478.3 115.6C478.3 117.4 477.8 117.6 475 118.9C472.2 120.3 472.9 120.4 469.9 119.6C466.9 118.7 468.6 117.7 466.1 116.4C463.5 115.1 464.8 116.2 462.3 115.8C459.7 115.3 460.2 116 458.5 115.1C456.8 114.2 456.8 114.8 457.2 113.1Z"/>
<path id="c71" d="M467.2 110.7C468 109.3 469.8 108.6 472.3 109.3C474.8 110.1 475.4 111.5 474.6 112.9C473.9 114.3 472.5 114.3 470 113.6C467.6 112.8 466.5 112.1 467.2 110.7Z"/>
<path id="c72" d="M449.5 119.2C449.1 117.7 450 117.4 452.3 115.9C454.5 114.4 454.7 114.2 456.2 114.7C457.7 115.3 457.8 115.6 456.9 117.5C455.9 119.5 455.9 119.9 453.4 120.5C450.9 121 449.9 120.8 449.5 119.2Z"/>
<path id="c73" d="M448 117.2C448 117.8 448 117.7 447.6 118.1C447.1 118.6 447.3 118.5 446.6 118.5C446 118.5 446.1 118.6 445.7 118.1C445.2 117.7 445.3 117.8 445.3 117.2C445.3 116.5 445.2 116.7 445.7 116.2C446.1 115.8 446 115.8 446.6 115.8C447.3 115.8 447.1 115.8 447.6 116.2C448 116.7 448 116.5 448 117.2Z"/>
<path id="c74" d="M460.9 120.2C461.1 121.1 461.2 120.9 460.4 121.8C459.5 122.7 459.8 122.6 458.3 122.9C456.9 123.3 457.2 123.3 456 123C454.8 122.6 455 122.7 454.7 121.8C454.5 120.9 454.4 121.1 455.3 120.2C456.1 119.2 455.8 119.4 457.3 119C458.7 118.6 458.4 118.6 459.6 119C460.8 119.4 460.6 119.2 460.9 120.2Z"/>
<path id="c75" d="M468.8 126C467.9 125.3 468 123.9 470.1 121.5C472.3 119.1 474.2 118.1 475.2 118.7C476.1 119.3 475.1 121 472.9 123.4C470.8 125.8 469.7 126.6 468.8 126Z"/>
<path id="c76" d="M458.7 131.8C458.7 132.7 458.8 132.5 458.1 133.1C457.3 133.8 457.5 133.7 456.5 133.7C455.5 133.7 455.8 133.8 455 133.1C454.3 132.5 454.4 132.7 454.4 131.8C454.4 130.9 454.3 131.1 455 130.5C455.8 129.8 455.5 129.9 456.5 129.9C457.5 129.9 457.3 129.8 458.1 130.5C458.8 131.1 458.7 130.9 458.7 131.8Z"/>
<path id="c77" d="M448.3 137.9C448.3 139.2 448.4 138.9 447.4 139.8C446.4 140.7 446.7 140.6 445.3 140.6C444 140.6 444.3 140.7 443.3 139.8C442.3 138.9 442.4 139.2 442.4 137.9C442.4 136.6 442.3 136.9 443.3 136C444.3 135.1 444 135.2 445.3 135.2C446.7 135.2 446.4 135.1 447.4 136C448.4 136.9 448.3 136.6 448.3 137.9Z"/>
<path id="c78" d="M440.5 113.4C440.7 114.1 440.8 113.9 439.7 114.8C438.6 115.7 439 115.5 437.2 116C435.5 116.4 435.9 116.4 434.5 116.2C433.1 116 433.3 116.1 433.1 115.4C432.9 114.6 432.8 114.8 433.9 113.9C435 113.1 434.7 113.2 436.4 112.8C438.1 112.3 437.8 112.3 439.1 112.5C440.5 112.7 440.3 112.6 440.5 113.4Z"/>
<path id="c79" d="M441.8 128.6C441.8 129.3 441.9 129.2 441.3 129.7C440.7 130.2 440.8 130.1 440 130.1C439.2 130.1 439.3 130.2 438.7 129.7C438.1 129.2 438.2 129.3 438.2 128.6C438.2 127.9 438.1 128 438.7 127.5C439.3 127 439.2 127.1 440 127.1C440.8 127.1 440.7 127 441.3 127.5C441.9 128 441.8 127.9 441.8 128.6Z"/>
<path id="c80" d="M453.9 112.5C453.9 113.1 453.9 112.9 453.4 113.4C452.8 113.8 452.9 113.7 452.1 113.7C451.3 113.7 451.4 113.8 450.8 113.4C450.2 112.9 450.3 113.1 450.3 112.5C450.3 111.9 450.2 112 450.8 111.6C451.4 111.1 451.3 111.2 452.1 111.2C452.9 111.2 452.8 111.1 453.4 111.6C453.9 112 453.9 111.9 453.9 112.5Z"/>
<path id="c81" d="M441.9 123.9C439.2 121.1 440 120.7 443.8 122.6C447.6 124.5 450.6 126.8 453.4 129.6C456.1 132.5 455.9 133.1 452.1 131.2C448.3 129.3 444.7 126.8 441.9 123.9Z"/>
<path id="c82" d="M421.8 142.4C421.8 143 421.9 142.8 421.4 143.3C420.8 143.7 421 143.6 420.3 143.6C419.6 143.6 419.7 143.7 419.2 143.3C418.7 142.8 418.7 143 418.7 142.4C418.7 141.8 418.7 141.9 419.2 141.5C419.7 141 419.6 141.1 420.3 141.1C421 141.1 420.8 141 421.4 141.5C421.9 141.9 421.8 141.8 421.8 142.4Z"/>
<path id="c83" d="M432.9 145.2C432.9 145.6 432.9 145.5 432.6 145.8C432.3 146.1 432.4 146.1 432 146.1C431.6 146.1 431.6 146.1 431.3 145.8C431 145.5 431.1 145.6 431.1 145.2C431.1 144.7 431 144.8 431.3 144.5C431.6 144.2 431.6 144.3 432 144.3C432.4 144.3 432.3 144.2 432.6 144.5C432.9 144.8 432.9 144.7 432.9 145.2Z"/>
<g id="gA"><use href="#a0" class="hr"/><use href="#a1" class="hb"/><use href="#a2" class="hb"/><use href="#a3" class="hb"/><use href="#a4" class="hb"/><use href="#a5" class="hb"/><use href="#a6" class="hb"/><use href="#a7" class="hb"/><use href="#a8" class="hb"/><use href="#a9" class="hb"/><use href="#a10" class="hb"/><use href="#a11" class="hb"/><use href="#a12" class="hr"/><use href="#a13" class="hr"/><use href="#a14" class="ho"/><use href="#a15" class="ho"/><use href="#a16" class="hr"/><use href="#a17" class="hb"/><use href="#a18" class="hb"/><use href="#a19" class="hr"/><use href="#a20" class="hb"/><use href="#a21" class="hr"/><use href="#a22" class="hb"/><use href="#a23" class="hb"/><use href="#a24" class="hr"/><use href="#a27" class="hr"/><use href="#a28" class="hb"/><use href="#a29" class="hb"/><use href="#a30" class="hb"/><use href="#a31" class="hb"/><use href="#a32" class="hr"/><use href="#a33" class="hb"/><use href="#a34" class="hb"/><use href="#a35" class="hb"/><use href="#a37" class="hr"/><use href="#a38" class="hb"/><use href="#a39" class="hb"/><use href="#a40" class="hb"/><use href="#a41" class="hb"/><use href="#a42" class="hr"/><use href="#a43" class="hr"/><use href="#a44" class="hr"/><use href="#a45" class="hb"/><use href="#a46" class="hb"/><use href="#a47" class="hb"/><use href="#a48" class="hb"/><use href="#a49" class="hb"/><use href="#a50" class="hb"/><use href="#a51" class="hr"/><use href="#a52" class="hb"/><use href="#a53" class="hb"/><use href="#a54" class="hr"/><use href="#a55" class="hb"/><use href="#a56" class="hb"/><use href="#a57" class="hb"/><use href="#a58" class="hb"/><use href="#a63" class="hr"/><use href="#a64" class="hr"/><use href="#a65" class="hb"/><use href="#a66" class="hr"/><use href="#a67" class="hr"/><use href="#a68" class="hb"/><use href="#a69" class="hr"/><use href="#a71" class="hr"/><use href="#a72" class="hr"/><use href="#a73" class="hb"/><use href="#a74" class="hb"/><use href="#a75" class="hb"/><use href="#a76" class="hb"/><use href="#a77" class="hb"/><use href="#a78" class="hb"/><use href="#a79" class="hb"/><use href="#a87" class="hb"/><use href="#a88" class="hr"/><use href="#a89" class="hr"/><use href="#a90" class="hb"/><use href="#a91" class="hr"/><use href="#a92" class="hb"/><use href="#a93" class="hb"/><use href="#a94" class="hr"/><use href="#a95" class="hr"/><use href="#a96" class="hb"/><use href="#a97" class="hb"/><use href="#a98" class="hb"/><use href="#a99" class="hb"/><use href="#a100" class="hb"/><use href="#a101" class="hb"/><use href="#a102" class="hb"/><use href="#a103" class="hb"/><use href="#a104" class="hb"/><use href="#a105" class="hr"/><use href="#a106" class="ho"/><use href="#a107" class="hr"/><use href="#a108" class="hr"/><use href="#a109" class="hb"/><use href="#a110" class="hb"/><use href="#a111" class="hr"/><use href="#a112" class="hr"/><use href="#a113" class="hr"/><use href="#a114" class="hr"/><use href="#a115" class="hb"/><use href="#a116" class="hb"/><use href="#a117" class="hr"/><use href="#a119" class="hr"/><use href="#a122" class="hb"/><use href="#a123" class="hb"/><use href="#a124" class="ho"/><use href="#a128" class="hr"/><use href="#a0" class="ir"/><use href="#a1" class="ib"/><use href="#a2" class="ib"/><use href="#a3" class="ib"/><use href="#a4" class="ib"/><use href="#a5" class="ib"/><use href="#a6" class="ib"/><use href="#a7" class="ib"/><use href="#a8" class="ib"/><use href="#a9" class="ib"/><use href="#a10" class="ib"/><use href="#a11" class="ib"/><use href="#a12" class="ir"/><use href="#a13" class="ir"/><use href="#a16" class="ir"/><use href="#a17" class="ib"/><use href="#a18" class="ib"/><use href="#a19" class="ir"/><use href="#a20" class="ib"/><use href="#a21" class="ir"/><use href="#a22" class="ib"/><use href="#a23" class="ib"/><use href="#a24" class="ir"/><use href="#a27" class="ir"/><use href="#a28" class="ib"/><use href="#a29" class="ib"/><use href="#a30" class="ib"/><use href="#a31" class="ib"/><use href="#a32" class="ir"/><use href="#a33" class="ib"/><use href="#a34" class="ib"/><use href="#a35" class="ib"/><use href="#a37" class="ir"/><use href="#a38" class="ib"/><use href="#a39" class="ib"/><use href="#a40" class="ib"/><use href="#a41" class="ib"/><use href="#a42" class="ir"/><use href="#a43" class="ir"/><use href="#a44" class="ir"/><use href="#a45" class="ib"/><use href="#a46" class="ib"/><use href="#a47" class="ib"/><use href="#a48" class="ib"/><use href="#a49" class="ib"/><use href="#a50" class="ib"/><use href="#a51" class="ir"/><use href="#a52" class="ib"/><use href="#a53" class="ib"/><use href="#a54" class="ir"/><use href="#a55" class="ib"/><use href="#a56" class="ib"/><use href="#a57" class="ib"/><use href="#a58" class="ib"/><use href="#a63" class="ir"/><use href="#a64" class="ir"/><use href="#a65" class="ib"/><use href="#a66" class="ir"/><use href="#a67" class="ir"/><use href="#a68" class="ib"/><use href="#a69" class="ir"/><use href="#a71" class="ir"/><use href="#a72" class="ir"/><use href="#a73" class="ib"/><use href="#a74" class="ib"/><use href="#a75" class="ib"/><use href="#a76" class="ib"/><use href="#a77" class="ib"/><use href="#a78" class="ib"/><use href="#a79" class="ib"/><use href="#a87" class="ib"/><use href="#a88" class="ir"/><use href="#a89" class="ir"/><use href="#a90" class="ib"/><use href="#a91" class="ir"/><use href="#a92" class="ib"/><use href="#a93" class="ib"/><use href="#a94" class="ir"/><use href="#a95" class="ir"/><use href="#a96" class="ib"/><use href="#a97" class="ib"/><use href="#a98" class="ib"/><use href="#a99" class="ib"/><use href="#a100" class="ib"/><use href="#a101" class="ib"/><use href="#a102" class="ib"/><use href="#a103" class="ib"/><use href="#a104" class="ib"/><use href="#a105" class="ir"/><use href="#a107" class="ir"/><use href="#a108" class="ir"/><use href="#a109" class="ib"/><use href="#a110" class="ib"/><use href="#a111" class="ir"/><use href="#a112" class="ir"/><use href="#a113" class="ir"/><use href="#a114" class="ir"/><use href="#a115" class="ib"/><use href="#a116" class="ib"/><use href="#a117" class="ir"/><use href="#a119" class="ir"/><use href="#a122" class="ib"/><use href="#a123" class="ib"/><use href="#a128" class="ir"/><use href="#a0" class="fr"/><use href="#a1" class="fb"/><use href="#a2" class="fb"/><use href="#a3" class="fb"/><use href="#a4" class="fb"/><use href="#a5" class="fb"/><use href="#a6" class="fb"/><use href="#a7" class="fb"/><use href="#a8" class="fb"/><use href="#a9" class="fb"/><use href="#a10" class="fb"/><use href="#a11" class="fb"/><use href="#a12" class="fr"/><use href="#a13" class="fr"/><use href="#a14" class="fo"/><use href="#a15" class="fo"/><use href="#a16" class="fr"/><use href="#a17" class="fb"/><use href="#a18" class="fb"/><use href="#a19" class="fr"/><use href="#a20" class="fb"/><use href="#a21" class="fr"/><use href="#a22" class="fb"/><use href="#a23" class="fb"/><use href="#a24" class="fr"/><use href="#a25" class="fy"/><use href="#a26" class="fg"/><use href="#a27" class="fr"/><use href="#a28" class="fb"/><use href="#a29" class="fb"/><use href="#a30" class="fb"/><use href="#a31" class="fb"/><use href="#a32" class="fr"/><use href="#a33" class="fb"/><use href="#a34" class="fb"/><use href="#a35" class="fb"/><use href="#a36" class="fy"/><use href="#a37" class="fr"/><use href="#a38" class="fb"/><use href="#a39" class="fb"/><use href="#a40" class="fb"/><use href="#a41" class="fb"/><use href="#a42" class="fr"/><use href="#a43" class="fr"/><use href="#a44" class="fr"/><use href="#a45" class="fb"/><use href="#a46" class="fb"/><use href="#a47" class="fb"/><use href="#a48" class="fb"/><use href="#a49" class="fb"/><use href="#a50" class="fb"/><use href="#a51" class="fr"/><use href="#a52" class="fb"/><use href="#a53" class="fb"/><use href="#a54" class="fr"/><use href="#a55" class="fb"/><use href="#a56" class="fb"/><use href="#a57" class="fb"/><use href="#a58" class="fb"/><use href="#a59" class="fy"/><use href="#a60" class="fy"/><use href="#a61" class="fy"/><use href="#a62" class="fy"/><use href="#a63" class="fr"/><use href="#a64" class="fr"/><use href="#a65" class="fb"/><use href="#a66" class="fr"/><use href="#a67" class="fr"/><use href="#a68" class="fb"/><use href="#a69" class="fr"/><use href="#a70" class="fc"/><use href="#a71" class="fr"/><use href="#a72" class="fr"/><use href="#a73" class="fb"/><use href="#a74" class="fb"/><use href="#a75" class="fb"/><use href="#a76" class="fb"/><use href="#a77" class="fb"/><use href="#a78" class="fb"/><use href="#a79" class="fb"/><use href="#a80" class="fy"/><use href="#a81" class="fy"/><use href="#a82" class="fy"/><use href="#a83" class="fy"/><use href="#a84" class="fy"/><use href="#a85" class="fc"/><use href="#a86" class="fc"/><use href="#a87" class="fb"/><use href="#a88" class="fr"/><use href="#a89" class="fr"/><use href="#a90" class="fb"/><use href="#a91" class="fr"/><use href="#a92" class="fb"/><use href="#a93" class="fb"/><use href="#a94" class="fr"/><use href="#a95" class="fr"/><use href="#a96" class="fb"/><use href="#a97" class="fb"/><use href="#a98" class="fb"/><use href="#a99" class="fb"/><use href="#a100" class="fb"/><use href="#a101" class="fb"/><use href="#a102" class="fb"/><use href="#a103" class="fb"/><use href="#a104" class="fb"/><use href="#a105" class="fr"/><use href="#a106" class="fo"/><use href="#a107" class="fr"/><use href="#a108" class="fr"/><use href="#a109" class="fb"/><use href="#a110" class="fb"/><use href="#a111" class="fr"/><use href="#a112" class="fr"/><use href="#a113" class="fr"/><use href="#a114" class="fr"/><use href="#a115" class="fb"/><use href="#a116" class="fb"/><use href="#a117" class="fr"/><use href="#a118" class="fy"/><use href="#a119" class="fr"/><use href="#a120" class="fy"/><use href="#a121" class="fy"/><use href="#a122" class="fb"/><use href="#a123" class="fb"/><use href="#a124" class="fo"/><use href="#a125" class="fc"/><use href="#a126" class="fc"/><use href="#a127" class="fy"/><use href="#a128" class="fr"/></g>
<g id="gAP"><use href="#a38" x="242" class="hb"/><use href="#a39" x="242" class="hb"/><use href="#a40" x="242" class="hb"/><use href="#a41" x="242" class="hb"/><use href="#a45" x="242" class="hb"/><use href="#a46" x="242" class="hb"/><use href="#a47" x="242" class="hb"/><use href="#a48" x="242" class="hb"/><use href="#a49" x="242" class="hb"/><use href="#a50" x="242" class="hb"/><use href="#a51" x="242" class="hr"/><use href="#a52" x="242" class="hb"/><use href="#a53" x="242" class="hb"/><use href="#a54" x="242" class="hr"/><use href="#a55" x="242" class="hb"/><use href="#a56" x="242" class="hb"/><use href="#a57" x="242" class="hb"/><use href="#a58" x="242" class="hb"/><use href="#a63" x="242" class="hr"/><use href="#a64" x="242" class="hr"/><use href="#a65" x="242" class="hb"/><use href="#a66" x="242" class="hr"/><use href="#a67" x="242" class="hr"/><use href="#a68" x="242" class="hb"/><use href="#a69" x="242" class="hr"/><use href="#a71" x="242" class="hr"/><use href="#a72" x="242" class="hr"/><use href="#a73" x="242" class="hb"/><use href="#a74" x="242" class="hb"/><use href="#a75" x="242" class="hb"/><use href="#a76" x="242" class="hb"/><use href="#a77" x="242" class="hb"/><use href="#a78" x="242" class="hb"/><use href="#a79" x="242" class="hb"/><use href="#a87" x="242" class="hb"/><use href="#a88" x="242" class="hr"/><use href="#a90" x="242" class="hb"/><use href="#a91" x="242" class="hr"/><use href="#a92" x="242" class="hb"/><use href="#a93" x="242" class="hb"/><use href="#a98" x="242" class="hb"/><use href="#a99" x="242" class="hb"/><use href="#a100" x="242" class="hb"/><use href="#a101" x="242" class="hb"/><use href="#a102" x="242" class="hb"/><use href="#a103" x="242" class="hb"/><use href="#a104" x="242" class="hb"/><use href="#a105" x="242" class="hr"/><use href="#a106" x="242" class="ho"/><use href="#a107" x="242" class="hr"/><use href="#a108" x="242" class="hr"/><use href="#a109" x="242" class="hb"/><use href="#a110" x="242" class="hb"/><use href="#a111" x="242" class="hr"/><use href="#a112" x="242" class="hr"/><use href="#a113" x="242" class="hr"/><use href="#a114" x="242" class="hr"/><use href="#a115" x="242" class="hb"/><use href="#a116" x="242" class="hb"/><use href="#a117" x="242" class="hr"/><use href="#a119" x="242" class="hr"/><use href="#a122" x="242" class="hb"/><use href="#a123" x="242" class="hb"/><use href="#a124" x="242" class="ho"/><use href="#a128" x="242" class="hr"/><use href="#p83" class="hr"/><use href="#p84" class="hr"/><use href="#p85" class="hr"/><use href="#p86" class="hr"/><use href="#p87" class="hr"/><use href="#p88" class="hr"/><use href="#p89" class="hr"/><use href="#p90" class="ho"/><use href="#p91" class="ho"/><use href="#p93" class="ho"/><use href="#p94" class="hb"/><use href="#p95" class="hb"/><use href="#p96" class="hb"/><use href="#p97" class="hb"/><use href="#p98" class="hb"/><use href="#p99" class="hb"/><use href="#p100" class="hb"/><use href="#p101" class="hb"/><use href="#p102" class="hb"/><use href="#p103" class="hb"/><use href="#p104" class="hb"/><use href="#p105" class="hb"/><use href="#p106" class="hb"/><use href="#p107" class="hr"/><use href="#p108" class="hb"/><use href="#p109" class="hb"/><use href="#p110" class="hr"/><use href="#p111" class="hr"/><use href="#p112" class="hb"/><use href="#p113" class="hb"/><use href="#p114" class="hr"/><use href="#p115" class="hr"/><use href="#p117" class="hb"/><use href="#p118" class="hb"/><use href="#p119" class="hb"/><use href="#p120" class="hb"/><use href="#p121" class="hb"/><use href="#p122" class="hb"/><use href="#p123" class="hr"/><use href="#p124" class="hr"/><use href="#p125" class="ho"/><use href="#p126" class="hr"/><use href="#p128" class="hr"/><use href="#p129" class="hb"/><use href="#p131" class="ho"/><use href="#p132" class="hr"/><use href="#p133" class="hb"/><use href="#p134" class="hr"/><use href="#a38" x="242" class="ib"/><use href="#a39" x="242" class="ib"/><use href="#a40" x="242" class="ib"/><use href="#a41" x="242" class="ib"/><use href="#a45" x="242" class="ib"/><use href="#a46" x="242" class="ib"/><use href="#a47" x="242" class="ib"/><use href="#a48" x="242" class="ib"/><use href="#a49" x="242" class="ib"/><use href="#a50" x="242" class="ib"/><use href="#a51" x="242" class="ir"/><use href="#a52" x="242" class="ib"/><use href="#a53" x="242" class="ib"/><use href="#a54" x="242" class="ir"/><use href="#a55" x="242" class="ib"/><use href="#a56" x="242" class="ib"/><use href="#a57" x="242" class="ib"/><use href="#a58" x="242" class="ib"/><use href="#a63" x="242" class="ir"/><use href="#a64" x="242" class="ir"/><use href="#a65" x="242" class="ib"/><use href="#a66" x="242" class="ir"/><use href="#a67" x="242" class="ir"/><use href="#a68" x="242" class="ib"/><use href="#a69" x="242" class="ir"/><use href="#a71" x="242" class="ir"/><use href="#a72" x="242" class="ir"/><use href="#a73" x="242" class="ib"/><use href="#a74" x="242" class="ib"/><use href="#a75" x="242" class="ib"/><use href="#a76" x="242" class="ib"/><use href="#a77" x="242" class="ib"/><use href="#a78" x="242" class="ib"/><use href="#a79" x="242" class="ib"/><use href="#a87" x="242" class="ib"/><use href="#a88" x="242" class="ir"/><use href="#a90" x="242" class="ib"/><use href="#a91" x="242" class="ir"/><use href="#a92" x="242" class="ib"/><use href="#a93" x="242" class="ib"/><use href="#a98" x="242" class="ib"/><use href="#a99" x="242" class="ib"/><use href="#a100" x="242" class="ib"/><use href="#a101" x="242" class="ib"/><use href="#a102" x="242" class="ib"/><use href="#a103" x="242" class="ib"/><use href="#a104" x="242" class="ib"/><use href="#a105" x="242" class="ir"/><use href="#a107" x="242" class="ir"/><use href="#a108" x="242" class="ir"/><use href="#a109" x="242" class="ib"/><use href="#a110" x="242" class="ib"/><use href="#a111" x="242" class="ir"/><use href="#a112" x="242" class="ir"/><use href="#a113" x="242" class="ir"/><use href="#a114" x="242" class="ir"/><use href="#a115" x="242" class="ib"/><use href="#a116" x="242" class="ib"/><use href="#a117" x="242" class="ir"/><use href="#a119" x="242" class="ir"/><use href="#a122" x="242" class="ib"/><use href="#a123" x="242" class="ib"/><use href="#a128" x="242" class="ir"/><use href="#p83" class="ir"/><use href="#p84" class="ir"/><use href="#p85" class="ir"/><use href="#p86" class="ir"/><use href="#p87" class="ir"/><use href="#p88" class="ir"/><use href="#p89" class="ir"/><use href="#p94" class="ib"/><use href="#p95" class="ib"/><use href="#p96" class="ib"/><use href="#p97" class="ib"/><use href="#p98" class="ib"/><use href="#p99" class="ib"/><use href="#p100" class="ib"/><use href="#p101" class="ib"/><use href="#p102" class="ib"/><use href="#p103" class="ib"/><use href="#p104" class="ib"/><use href="#p105" class="ib"/><use href="#p106" class="ib"/><use href="#p107" class="ir"/><use href="#p108" class="ib"/><use href="#p109" class="ib"/><use href="#p110" class="ir"/><use href="#p111" class="ir"/><use href="#p112" class="ib"/><use href="#p113" class="ib"/><use href="#p114" class="ir"/><use href="#p115" class="ir"/><use href="#p117" class="ib"/><use href="#p118" class="ib"/><use href="#p119" class="ib"/><use href="#p120" class="ib"/><use href="#p121" class="ib"/><use href="#p122" class="ib"/><use href="#p123" class="ir"/><use href="#p124" class="ir"/><use href="#p126" class="ir"/><use href="#p128" class="ir"/><use href="#p129" class="ib"/><use href="#p132" class="ir"/><use href="#p133" class="ib"/><use href="#p134" class="ir"/><use href="#a38" x="242" class="fb"/><use href="#a39" x="242" class="fb"/><use href="#a40" x="242" class="fb"/><use href="#a41" x="242" class="fb"/><use href="#a45" x="242" class="fb"/><use href="#a46" x="242" class="fb"/><use href="#a47" x="242" class="fb"/><use href="#a48" x="242" class="fb"/><use href="#a49" x="242" class="fb"/><use href="#a50" x="242" class="fb"/><use href="#a51" x="242" class="fr"/><use href="#a52" x="242" class="fb"/><use href="#a53" x="242" class="fb"/><use href="#a54" x="242" class="fr"/><use href="#a55" x="242" class="fb"/><use href="#a56" x="242" class="fb"/><use href="#a57" x="242" class="fb"/><use href="#a58" x="242" class="fb"/><use href="#a59" x="242" class="fy"/><use href="#a60" x="242" class="fy"/><use href="#a61" x="242" class="fy"/><use href="#a62" x="242" class="fy"/><use href="#a63" x="242" class="fr"/><use href="#a64" x="242" class="fr"/><use href="#a65" x="242" class="fb"/><use href="#a66" x="242" class="fr"/><use href="#a67" x="242" class="fr"/><use href="#a68" x="242" class="fb"/><use href="#a69" x="242" class="fr"/><use href="#a70" x="242" class="fc"/><use href="#a71" x="242" class="fr"/><use href="#a72" x="242" class="fr"/><use href="#a73" x="242" class="fb"/><use href="#a74" x="242" class="fb"/><use href="#a75" x="242" class="fb"/><use href="#a76" x="242" class="fb"/><use href="#a77" x="242" class="fb"/><use href="#a78" x="242" class="fb"/><use href="#a79" x="242" class="fb"/><use href="#a80" x="242" class="fy"/><use href="#a81" x="242" class="fy"/><use href="#a82" x="242" class="fy"/><use href="#a83" x="242" class="fy"/><use href="#a84" x="242" class="fy"/><use href="#a85" x="242" class="fc"/><use href="#a86" x="242" class="fc"/><use href="#a87" x="242" class="fb"/><use href="#a88" x="242" class="fr"/><use href="#a90" x="242" class="fb"/><use href="#a91" x="242" class="fr"/><use href="#a92" x="242" class="fb"/><use href="#a93" x="242" class="fb"/><use href="#a98" x="242" class="fb"/><use href="#a99" x="242" class="fb"/><use href="#a100" x="242" class="fb"/><use href="#a101" x="242" class="fb"/><use href="#a102" x="242" class="fb"/><use href="#a103" x="242" class="fb"/><use href="#a104" x="242" class="fb"/><use href="#a105" x="242" class="fr"/><use href="#a106" x="242" class="fo"/><use href="#a107" x="242" class="fr"/><use href="#a108" x="242" class="fr"/><use href="#a109" x="242" class="fb"/><use href="#a110" x="242" class="fb"/><use href="#a111" x="242" class="fr"/><use href="#a112" x="242" class="fr"/><use href="#a113" x="242" class="fr"/><use href="#a114" x="242" class="fr"/><use href="#a115" x="242" class="fb"/><use href="#a116" x="242" class="fb"/><use href="#a117" x="242" class="fr"/><use href="#a118" x="242" class="fy"/><use href="#a119" x="242" class="fr"/><use href="#a120" x="242" class="fy"/><use href="#a121" x="242" class="fy"/><use href="#a122" x="242" class="fb"/><use href="#a123" x="242" class="fb"/><use href="#a124" x="242" class="fo"/><use href="#a125" x="242" class="fc"/><use href="#a126" x="242" class="fc"/><use href="#a127" x="242" class="fy"/><use href="#a128" x="242" class="fr"/><use href="#p83" class="fr"/><use href="#p84" class="fr"/><use href="#p85" class="fr"/><use href="#p86" class="fr"/><use href="#p87" class="fr"/><use href="#p88" class="fr"/><use href="#p89" class="fr"/><use href="#p90" class="fo"/><use href="#p91" class="fo"/><use href="#p92" class="fy"/><use href="#p93" class="fo"/><use href="#p94" class="fb"/><use href="#p95" class="fb"/><use href="#p96" class="fb"/><use href="#p97" class="fb"/><use href="#p98" class="fb"/><use href="#p99" class="fb"/><use href="#p100" class="fb"/><use href="#p101" class="fb"/><use href="#p102" class="fb"/><use href="#p103" class="fb"/><use href="#p104" class="fb"/><use href="#p105" class="fb"/><use href="#p106" class="fb"/><use href="#p107" class="fr"/><use href="#p108" class="fb"/><use href="#p109" class="fb"/><use href="#p110" class="fr"/><use href="#p111" class="fr"/><use href="#p112" class="fb"/><use href="#p113" class="fb"/><use href="#p114" class="fr"/><use href="#p115" class="fr"/><use href="#p116" class="fy"/><use href="#p117" class="fb"/><use href="#p118" class="fb"/><use href="#p119" class="fb"/><use href="#p120" class="fb"/><use href="#p121" class="fb"/><use href="#p122" class="fb"/><use href="#p123" class="fr"/><use href="#p124" class="fr"/><use href="#p125" class="fo"/><use href="#p126" class="fr"/><use href="#p127" class="fy"/><use href="#p128" class="fr"/><use href="#p129" class="fb"/><use href="#p130" class="fy"/><use href="#p131" class="fo"/><use href="#p132" class="fr"/><use href="#p133" class="fb"/><use href="#p134" class="fr"/></g>
<g id="gB"><use href="#b3" class="hr"/><use href="#b4" class="hb"/><use href="#b5" class="hr"/><use href="#b6" class="hb"/><use href="#b7" class="hr"/><use href="#b8" class="hb"/><use href="#b9" class="hb"/><use href="#b10" class="hb"/><use href="#b11" class="ho"/><use href="#b13" class="hr"/><use href="#b14" class="hb"/><use href="#b15" class="hb"/><use href="#b16" class="hb"/><use href="#b18" class="hr"/><use href="#b19" class="hr"/><use href="#b20" class="ho"/><use href="#b22" class="hb"/><use href="#b23" class="ho"/><use href="#b24" class="hr"/><use href="#b26" class="ho"/><use href="#b27" class="hb"/><use href="#b28" class="hr"/><use href="#b29" class="hr"/><use href="#b30" class="hb"/><use href="#b31" class="hb"/><use href="#b32" class="hr"/><use href="#b33" class="hr"/><use href="#b34" class="hb"/><use href="#b35" class="hr"/><use href="#b36" class="ho"/><use href="#b40" class="hb"/><use href="#b41" class="ho"/><use href="#b42" class="hb"/><use href="#b43" class="hr"/><use href="#b45" class="hr"/><use href="#b46" class="hb"/><use href="#b47" class="hr"/><use href="#b48" class="hb"/><use href="#b49" class="hr"/><use href="#b50" class="hr"/><use href="#b51" class="hr"/><use href="#b52" class="hb"/><use href="#b53" class="hr"/><use href="#b54" class="hb"/><use href="#b55" class="hr"/><use href="#b56" class="hr"/><use href="#b57" class="ho"/><use href="#b58" class="hb"/><use href="#b59" class="hb"/><use href="#b60" class="ho"/><use href="#b61" class="hr"/><use href="#b62" class="hb"/><use href="#b63" class="hr"/><use href="#b67" class="hb"/><use href="#b68" class="hr"/><use href="#b69" class="hr"/><use href="#b70" class="hr"/><use href="#b71" class="hr"/><use href="#b72" class="hb"/><use href="#b73" class="hb"/><use href="#b3" class="ir"/><use href="#b4" class="ib"/><use href="#b5" class="ir"/><use href="#b6" class="ib"/><use href="#b7" class="ir"/><use href="#b8" class="ib"/><use href="#b9" class="ib"/><use href="#b10" class="ib"/><use href="#b13" class="ir"/><use href="#b14" class="ib"/><use href="#b15" class="ib"/><use href="#b16" class="ib"/><use href="#b18" class="ir"/><use href="#b19" class="ir"/><use href="#b22" class="ib"/><use href="#b24" class="ir"/><use href="#b27" class="ib"/><use href="#b28" class="ir"/><use href="#b29" class="ir"/><use href="#b30" class="ib"/><use href="#b31" class="ib"/><use href="#b32" class="ir"/><use href="#b33" class="ir"/><use href="#b34" class="ib"/><use href="#b35" class="ir"/><use href="#b40" class="ib"/><use href="#b42" class="ib"/><use href="#b43" class="ir"/><use href="#b45" class="ir"/><use href="#b46" class="ib"/><use href="#b47" class="ir"/><use href="#b48" class="ib"/><use href="#b49" class="ir"/><use href="#b50" class="ir"/><use href="#b51" class="ir"/><use href="#b52" class="ib"/><use href="#b53" class="ir"/><use href="#b54" class="ib"/><use href="#b55" class="ir"/><use href="#b56" class="ir"/><use href="#b58" class="ib"/><use href="#b59" class="ib"/><use href="#b61" class="ir"/><use href="#b62" class="ib"/><use href="#b63" class="ir"/><use href="#b67" class="ib"/><use href="#b68" class="ir"/><use href="#b69" class="ir"/><use href="#b70" class="ir"/><use href="#b71" class="ir"/><use href="#b72" class="ib"/><use href="#b73" class="ib"/><use href="#b0" class="fy"/><use href="#b1" class="fy"/><use href="#b2" class="fy"/><use href="#b3" class="fr"/><use href="#b4" class="fb"/><use href="#b5" class="fr"/><use href="#b6" class="fb"/><use href="#b7" class="fr"/><use href="#b8" class="fb"/><use href="#b9" class="fb"/><use href="#b10" class="fb"/><use href="#b11" class="fo"/><use href="#b12" class="fy"/><use href="#b13" class="fr"/><use href="#b14" class="fb"/><use href="#b15" class="fb"/><use href="#b16" class="fb"/><use href="#b17" class="fc"/><use href="#b18" class="fr"/><use href="#b19" class="fr"/><use href="#b20" class="fo"/><use href="#b21" class="fy"/><use href="#b22" class="fb"/><use href="#b23" class="fo"/><use href="#b24" class="fr"/><use href="#b25" class="fc"/><use href="#b26" class="fo"/><use href="#b27" class="fb"/><use href="#b28" class="fr"/><use href="#b29" class="fr"/><use href="#b30" class="fb"/><use href="#b31" class="fb"/><use href="#b32" class="fr"/><use href="#b33" class="fr"/><use href="#b34" class="fb"/><use href="#b35" class="fr"/><use href="#b36" class="fo"/><use href="#b37" class="fk"/><use href="#b38" class="fy"/><use href="#b39" class="fk"/><use href="#b40" class="fb"/><use href="#b41" class="fo"/><use href="#b42" class="fb"/><use href="#b43" class="fr"/><use href="#b44" class="fc"/><use href="#b45" class="fr"/><use href="#b46" class="fb"/><use href="#b47" class="fr"/><use href="#b48" class="fb"/><use href="#b49" class="fr"/><use href="#b50" class="fr"/><use href="#b51" class="fr"/><use href="#b52" class="fb"/><use href="#b53" class="fr"/><use href="#b54" class="fb"/><use href="#b55" class="fr"/><use href="#b56" class="fr"/><use href="#b57" class="fo"/><use href="#b58" class="fb"/><use href="#b59" class="fb"/><use href="#b60" class="fo"/><use href="#b61" class="fr"/><use href="#b62" class="fb"/><use href="#b63" class="fr"/><use href="#b64" class="fc"/><use href="#b65" class="fc"/><use href="#b66" class="fc"/><use href="#b67" class="fb"/><use href="#b68" class="fr"/><use href="#b69" class="fr"/><use href="#b70" class="fr"/><use href="#b71" class="fr"/><use href="#b72" class="fb"/><use href="#b73" class="fb"/><use href="#b74" class="fc"/><use href="#b75" class="fc"/><use href="#b76" class="fc"/><use href="#b77" class="fy"/></g>
<g id="gBP"><use href="#b3" class="hr"/><use href="#b4" class="hb"/><use href="#b5" class="hr"/><use href="#b6" class="hb"/><use href="#b7" class="hr"/><use href="#b8" class="hb"/><use href="#b9" class="hb"/><use href="#b10" class="hb"/><use href="#b11" class="ho"/><use href="#b13" class="hr"/><use href="#b14" class="hb"/><use href="#b15" class="hb"/><use href="#b16" class="hb"/><use href="#b18" class="hr"/><use href="#b19" class="hr"/><use href="#b20" class="ho"/><use href="#b22" class="hb"/><use href="#b23" class="ho"/><use href="#b24" class="hr"/><use href="#b26" class="ho"/><use href="#b27" class="hb"/><use href="#b28" class="hr"/><use href="#b29" class="hr"/><use href="#b30" class="hb"/><use href="#b31" class="hb"/><use href="#b32" class="hr"/><use href="#b33" class="hr"/><use href="#b34" class="hb"/><use href="#b35" class="hr"/><use href="#b36" class="ho"/><use href="#b40" class="hb"/><use href="#b41" class="ho"/><use href="#b42" class="hb"/><use href="#b43" class="hr"/><use href="#b45" class="hr"/><use href="#b46" class="hb"/><use href="#b47" class="hr"/><use href="#b48" class="hb"/><use href="#b49" class="hr"/><use href="#b50" class="hr"/><use href="#b51" class="hr"/><use href="#b52" class="hb"/><use href="#b53" class="hr"/><use href="#b54" class="hb"/><use href="#b55" class="hr"/><use href="#b56" class="hr"/><use href="#b57" class="ho"/><use href="#b58" class="hb"/><use href="#b59" class="hb"/><use href="#b60" class="ho"/><use href="#b61" class="hr"/><use href="#b62" class="hb"/><use href="#b63" class="hr"/><use href="#b67" class="hb"/><use href="#b68" class="hr"/><use href="#b69" class="hr"/><use href="#b70" class="hr"/><use href="#b71" class="hr"/><use href="#b72" class="hb"/><use href="#b73" class="hb"/><use href="#q101" class="ho"/><use href="#b3" class="ir"/><use href="#b4" class="ib"/><use href="#b5" class="ir"/><use href="#b6" class="ib"/><use href="#b7" class="ir"/><use href="#b8" class="ib"/><use href="#b9" class="ib"/><use href="#b10" class="ib"/><use href="#b13" class="ir"/><use href="#b14" class="ib"/><use href="#b15" class="ib"/><use href="#b16" class="ib"/><use href="#b18" class="ir"/><use href="#b19" class="ir"/><use href="#b22" class="ib"/><use href="#b24" class="ir"/><use href="#b27" class="ib"/><use href="#b28" class="ir"/><use href="#b29" class="ir"/><use href="#b30" class="ib"/><use href="#b31" class="ib"/><use href="#b32" class="ir"/><use href="#b33" class="ir"/><use href="#b34" class="ib"/><use href="#b35" class="ir"/><use href="#b40" class="ib"/><use href="#b42" class="ib"/><use href="#b43" class="ir"/><use href="#b45" class="ir"/><use href="#b46" class="ib"/><use href="#b47" class="ir"/><use href="#b48" class="ib"/><use href="#b49" class="ir"/><use href="#b50" class="ir"/><use href="#b51" class="ir"/><use href="#b52" class="ib"/><use href="#b53" class="ir"/><use href="#b54" class="ib"/><use href="#b55" class="ir"/><use href="#b56" class="ir"/><use href="#b58" class="ib"/><use href="#b59" class="ib"/><use href="#b61" class="ir"/><use href="#b62" class="ib"/><use href="#b63" class="ir"/><use href="#b67" class="ib"/><use href="#b68" class="ir"/><use href="#b69" class="ir"/><use href="#b70" class="ir"/><use href="#b71" class="ir"/><use href="#b72" class="ib"/><use href="#b73" class="ib"/><use href="#b0" class="fy"/><use href="#b1" class="fy"/><use href="#b2" class="fy"/><use href="#b3" class="fr"/><use href="#b4" class="fb"/><use href="#b5" class="fr"/><use href="#b6" class="fb"/><use href="#b7" class="fr"/><use href="#b8" class="fb"/><use href="#b9" class="fb"/><use href="#b10" class="fb"/><use href="#b11" class="fo"/><use href="#b12" class="fy"/><use href="#b13" class="fr"/><use href="#b14" class="fb"/><use href="#b15" class="fb"/><use href="#b16" class="fb"/><use href="#b17" class="fc"/><use href="#b18" class="fr"/><use href="#b19" class="fr"/><use href="#b20" class="fo"/><use href="#b21" class="fy"/><use href="#b22" class="fb"/><use href="#b23" class="fo"/><use href="#b24" class="fr"/><use href="#b25" class="fc"/><use href="#b26" class="fo"/><use href="#b27" class="fb"/><use href="#b28" class="fr"/><use href="#b29" class="fr"/><use href="#b30" class="fb"/><use href="#b31" class="fb"/><use href="#b32" class="fr"/><use href="#b33" class="fr"/><use href="#b34" class="fb"/><use href="#b35" class="fr"/><use href="#b36" class="fo"/><use href="#b37" class="fk"/><use href="#b38" class="fy"/><use href="#b39" class="fk"/><use href="#b40" class="fb"/><use href="#b41" class="fo"/><use href="#b42" class="fb"/><use href="#b43" class="fr"/><use href="#b44" class="fc"/><use href="#b45" class="fr"/><use href="#b46" class="fb"/><use href="#b47" class="fr"/><use href="#b48" class="fb"/><use href="#b49" class="fr"/><use href="#b50" class="fr"/><use href="#b51" class="fr"/><use href="#b52" class="fb"/><use href="#b53" class="fr"/><use href="#b54" class="fb"/><use href="#b55" class="fr"/><use href="#b56" class="fr"/><use href="#b57" class="fo"/><use href="#b58" class="fb"/><use href="#b59" class="fb"/><use href="#b60" class="fo"/><use href="#b61" class="fr"/><use href="#b62" class="fb"/><use href="#b63" class="fr"/><use href="#b64" class="fy"/><use href="#b65" class="fy"/><use href="#b66" class="fy"/><use href="#b67" class="fb"/><use href="#b68" class="fr"/><use href="#b69" class="fr"/><use href="#b70" class="fr"/><use href="#b71" class="fr"/><use href="#b72" class="fb"/><use href="#b73" class="fb"/><use href="#b74" class="fy"/><use href="#b75" class="fy"/><use href="#b76" class="fc"/><use href="#b77" class="fy"/><use href="#q78" class="fy"/><use href="#q79" class="fy"/><use href="#q80" class="fy"/><use href="#q81" class="fy"/><use href="#q82" class="fy"/><use href="#q83" class="fy"/><use href="#q84" class="fy"/><use href="#q85" class="fy"/><use href="#q86" class="fy"/><use href="#q87" class="fy"/><use href="#q88" class="fy"/><use href="#q89" class="fy"/><use href="#q90" class="fy"/><use href="#q91" class="fy"/><use href="#q92" class="fy"/><use href="#q93" class="fy"/><use href="#q94" class="fy"/><use href="#q95" class="fy"/><use href="#q96" class="fy"/><use href="#q97" class="fy"/><use href="#q98" class="fy"/><use href="#q99" class="fy"/><use href="#q100" class="fy"/><use href="#q101" class="fo"/></g>
<g id="gC"><use href="#c0" class="hr"/><use href="#c1" class="hb"/><use href="#c2" class="hb"/><use href="#c3" class="hr"/><use href="#c4" class="hb"/><use href="#c5" class="hb"/><use href="#c6" class="hr"/><use href="#c7" class="hr"/><use href="#c8" class="hb"/><use href="#c9" class="hr"/><use href="#c10" class="hb"/><use href="#c12" class="hb"/><use href="#c14" class="ho"/><use href="#c16" class="hb"/><use href="#c17" class="hr"/><use href="#c18" class="hb"/><use href="#c19" class="hr"/><use href="#c20" class="hr"/><use href="#c21" class="hb"/><use href="#c22" class="hb"/><use href="#c27" class="hr"/><use href="#c28" class="hr"/><use href="#c29" class="hb"/><use href="#c30" class="hb"/><use href="#c31" class="hb"/><use href="#c33" class="ho"/><use href="#c34" class="ho"/><use href="#c38" class="hb"/><use href="#c39" class="hr"/><use href="#c40" class="hr"/><use href="#c41" class="hr"/><use href="#c42" class="hb"/><use href="#c48" class="hb"/><use href="#c52" class="hb"/><use href="#c53" class="hr"/><use href="#c54" class="hb"/><use href="#c55" class="ho"/><use href="#c56" class="hr"/><use href="#c57" class="hb"/><use href="#c59" class="ho"/><use href="#c60" class="hr"/><use href="#c61" class="hb"/><use href="#c62" class="hb"/><use href="#c65" class="ho"/><use href="#c66" class="hr"/><use href="#c70" class="hr"/><use href="#c71" class="hb"/><use href="#c72" class="hb"/><use href="#c73" class="hr"/><use href="#c74" class="ho"/><use href="#c75" class="hb"/><use href="#c76" class="hb"/><use href="#c77" class="hb"/><use href="#c83" class="hb"/><use href="#c0" class="ir"/><use href="#c1" class="ib"/><use href="#c2" class="ib"/><use href="#c3" class="ir"/><use href="#c4" class="ib"/><use href="#c5" class="ib"/><use href="#c6" class="ir"/><use href="#c7" class="ir"/><use href="#c8" class="ib"/><use href="#c9" class="ir"/><use href="#c10" class="ib"/><use href="#c12" class="ib"/><use href="#c16" class="ib"/><use href="#c17" class="ir"/><use href="#c18" class="ib"/><use href="#c19" class="ir"/><use href="#c20" class="ir"/><use href="#c21" class="ib"/><use href="#c22" class="ib"/><use href="#c27" class="ir"/><use href="#c28" class="ir"/><use href="#c29" class="ib"/><use href="#c30" class="ib"/><use href="#c31" class="ib"/><use href="#c38" class="ib"/><use href="#c39" class="ir"/><use href="#c40" class="ir"/><use href="#c41" class="ir"/><use href="#c42" class="ib"/><use href="#c48" class="ib"/><use href="#c52" class="ib"/><use href="#c53" class="ir"/><use href="#c54" class="ib"/><use href="#c56" class="ir"/><use href="#c57" class="ib"/><use href="#c60" class="ir"/><use href="#c61" class="ib"/><use href="#c62" class="ib"/><use href="#c66" class="ir"/><use href="#c70" class="ir"/><use href="#c71" class="ib"/><use href="#c72" class="ib"/><use href="#c73" class="ir"/><use href="#c75" class="ib"/><use href="#c76" class="ib"/><use href="#c77" class="ib"/><use href="#c83" class="ib"/><use href="#c0" class="fr"/><use href="#c1" class="fb"/><use href="#c2" class="fb"/><use href="#c3" class="fr"/><use href="#c4" class="fb"/><use href="#c5" class="fb"/><use href="#c6" class="fr"/><use href="#c7" class="fr"/><use href="#c8" class="fb"/><use href="#c9" class="fr"/><use href="#c10" class="fb"/><use href="#c11" class="fy"/><use href="#c12" class="fb"/><use href="#c13" class="fc"/><use href="#c14" class="fo"/><use href="#c15" class="fc"/><use href="#c16" class="fb"/><use href="#c17" class="fr"/><use href="#c18" class="fb"/><use href="#c19" class="fr"/><use href="#c20" class="fr"/><use href="#c21" class="fb"/><use href="#c22" class="fb"/><use href="#c23" class="fc"/><use href="#c24" class="fc"/><use href="#c25" class="fy"/><use href="#c26" class="fy"/><use href="#c27" class="fr"/><use href="#c28" class="fr"/><use href="#c29" class="fb"/><use href="#c30" class="fb"/><use href="#c31" class="fb"/><use href="#c32" class="fy"/><use href="#c33" class="fo"/><use href="#c34" class="fo"/><use href="#c35" class="fc"/><use href="#c36" class="fk"/><use href="#c37" class="fk"/><use href="#c38" class="fb"/><use href="#c39" class="fr"/><use href="#c40" class="fr"/><use href="#c41" class="fr"/><use href="#c42" class="fb"/><use href="#c43" class="fy"/><use href="#c44" class="fc"/><use href="#c45" class="fc"/><use href="#c46" class="fc"/><use href="#c47" class="fc"/><use href="#c48" class="fb"/><use href="#c49" class="fy"/><use href="#c50" class="fy"/><use href="#c51" class="fy"/><use href="#c52" class="fb"/><use href="#c53" class="fr"/><use href="#c54" class="fb"/><use href="#c55" class="fo"/><use href="#c56" class="fr"/><use href="#c57" class="fb"/><use href="#c58" class="fc"/><use href="#c59" class="fo"/><use href="#c60" class="fr"/><use href="#c61" class="fb"/><use href="#c62" class="fb"/><use href="#c63" class="fy"/><use href="#c64" class="fy"/><use href="#c65" class="fo"/><use href="#c66" class="fr"/><use href="#c67" class="fk"/><use href="#c68" class="fc"/><use href="#c69" class="fc"/><use href="#c70" class="fr"/><use href="#c71" class="fb"/><use href="#c72" class="fb"/><use href="#c73" class="fr"/><use href="#c74" class="fo"/><use href="#c75" class="fb"/><use href="#c76" class="fb"/><use href="#c77" class="fb"/><use href="#c78" class="fy"/><use href="#c79" class="fy"/><use href="#c80" class="fy"/><use href="#c81" class="fc"/><use href="#c82" class="fc"/><use href="#c83" class="fb"/></g>
</defs>
<rect width="550" height="315" fill="#fff"/>
<clipPath id="cp0"><polygon points="60.5,44.4 77.5,44.8 93.3,49.6 107.9,59.7 114.6,70.1 119.9,81.6 120.8,93.8 119.9,108.3 114.6,116.2 108.4,125 100.4,133.7 91.6,139 81.9,142.4 70.4,144.8 64.4,144.4 51.1,140.7 39.6,135.4 29.9,127.5 22.9,117.1 18.4,107.4 16.3,93.8 19.3,79.8 25.5,66.7 36.1,54.4"/></clipPath>
<g clip-path="url(#cp0)"><g filter="url(#bl)"><rect x="13.5" y="41.5" width="111.5" height="106.1" class="fg"/>
<g transform="translate(15.50,43.50) scale(1.0000,1.0000) translate(-15.50,-43.50)"><use href="#gA"/></g></g></g>
<rect x="15.5" y="43.5" width="107.5" height="102.1" fill="none" stroke="#6e6e6e" stroke-width="1"/>
<path d="M15.5 46.6h2M18.7 145.6v-2M15.5 94.5h2M69.2 145.6v-2M15.5 142.5h2M119.8 145.6v-2" stroke="#555" stroke-width=".6" fill="none"/>
<text x="13" y="47.8" text-anchor="end" class="tk">0.08</text>
<text x="13" y="95.8" text-anchor="end" class="tk">0</text>
<text x="13" y="143.7" text-anchor="end" class="tk">-0.08</text>
<text transform="translate(7,94.5) rotate(-90)" text-anchor="middle" class="ay">Y</text>
<text x="19.7" y="151.8" text-anchor="middle" class="tk">-0.08</text>
<text x="69.2" y="151.8" text-anchor="middle" class="tk">0</text>
<text x="118.8" y="151.8" text-anchor="middle" class="tk">0.08</text>
<text x="69.2" y="160.9" text-anchor="middle" class="ax">X</text>
<text x="70.4" y="171.9" text-anchor="middle" class="lb">0 T</text>
<clipPath id="cp1"><polygon points="181.5,44.4 198.5,44.8 214.3,49.6 228.9,59.7 235.6,70.1 240.9,81.6 241.8,93.8 240.9,108.3 235.6,116.2 229.4,125 221.4,133.7 212.6,139 202.9,142.4 191.4,144.8 185.4,144.4 172.1,140.7 160.6,135.4 150.9,127.5 143.9,117.1 139.4,107.4 137.3,93.8 140.3,79.8 146.5,66.7 157.1,54.4"/></clipPath>
<g clip-path="url(#cp1)"><g filter="url(#bl)"><rect x="134.5" y="41.5" width="111.5" height="106.1" class="fg"/>
<g transform="translate(136.50,43.50) scale(1.0000,1.0000) translate(-136.50,-43.50)"><use href="#gB"/></g></g></g>
<rect x="136.5" y="43.5" width="107.5" height="102.1" fill="none" stroke="#6e6e6e" stroke-width="1"/>
<path d="M136.5 46.6h2M139.7 145.6v-2M136.5 94.5h2M190.2 145.6v-2M136.5 142.5h2M240.8 145.6v-2" stroke="#555" stroke-width=".6" fill="none"/>
<text x="134" y="47.8" text-anchor="end" class="tk">0.08</text>
<text x="134" y="95.8" text-anchor="end" class="tk">0</text>
<text x="134" y="143.7" text-anchor="end" class="tk">-0.08</text>
<text transform="translate(128,94.5) rotate(-90)" text-anchor="middle" class="ay">Y</text>
<text x="140.7" y="151.8" text-anchor="middle" class="tk">-0.08</text>
<text x="190.2" y="151.8" text-anchor="middle" class="tk">0</text>
<text x="239.8" y="151.8" text-anchor="middle" class="tk">0.08</text>
<text x="190.2" y="160.9" text-anchor="middle" class="ax">X</text>
<text x="190.4" y="171.9" text-anchor="middle" class="lb">25% T</text>
<clipPath id="cp2"><polygon points="302.5,44.4 319.5,44.8 335.3,49.6 349.9,59.7 356.6,70.1 361.9,81.6 362.8,93.8 361.9,108.3 356.6,116.2 350.4,125 342.4,133.7 333.6,139 323.9,142.4 312.4,144.8 306.4,144.4 293.1,140.7 281.6,135.4 271.9,127.5 264.9,117.1 260.4,107.4 258.3,93.8 261.3,79.8 267.5,66.7 278.1,54.4"/></clipPath>
<g clip-path="url(#cp2)"><g filter="url(#bl)"><rect x="255.5" y="41.5" width="111.5" height="106.1" class="fg"/>
<g transform="translate(257.50,43.50) scale(1.0000,1.0000) translate(-257.50,-43.50)"><use href="#gAP"/></g></g></g>
<rect x="257.5" y="43.5" width="107.5" height="102.1" fill="none" stroke="#6e6e6e" stroke-width="1"/>
<path d="M257.5 46.6h2M260.7 145.6v-2M257.5 94.5h2M311.2 145.6v-2M257.5 142.5h2M361.8 145.6v-2" stroke="#555" stroke-width=".6" fill="none"/>
<text x="255" y="47.8" text-anchor="end" class="tk">0.08</text>
<text x="255" y="95.8" text-anchor="end" class="tk">0</text>
<text x="255" y="143.7" text-anchor="end" class="tk">-0.08</text>
<text transform="translate(249,94.5) rotate(-90)" text-anchor="middle" class="ay">Y</text>
<text x="261.7" y="151.8" text-anchor="middle" class="tk">-0.08</text>
<text x="311.2" y="151.8" text-anchor="middle" class="tk">0</text>
<text x="360.8" y="151.8" text-anchor="middle" class="tk">0.08</text>
<text x="311.2" y="160.9" text-anchor="middle" class="ax">X</text>
<text x="316" y="171.9" text-anchor="middle" class="lb">50% T</text>
<clipPath id="cp3"><polygon points="423.7,44.4 440.7,44.8 456.5,49.6 471.1,59.7 477.8,70.1 483.1,81.6 484,93.8 483.1,108.3 477.8,116.2 471.6,125 463.6,133.7 454.8,139 445.1,142.4 433.6,144.8 427.6,144.4 414.3,140.7 402.8,135.4 393.1,127.5 386.1,117.1 381.6,107.4 379.5,93.8 382.5,79.8 388.7,66.7 399.3,54.4"/></clipPath>
<g clip-path="url(#cp3)"><g filter="url(#bl)"><rect x="376.7" y="41.5" width="111.5" height="106.1" class="fg"/>
<g transform="translate(378.70,43.50) scale(1.0000,1.0000) translate(-378.70,-43.50)"><use href="#gC"/></g></g></g>
<rect x="378.7" y="43.5" width="107.5" height="102.1" fill="none" stroke="#6e6e6e" stroke-width="1"/>
<path d="M378.7 46.6h2M381.9 145.6v-2M378.7 94.5h2M432.4 145.6v-2M378.7 142.5h2M483 145.6v-2" stroke="#555" stroke-width=".6" fill="none"/>
<text x="376.2" y="47.8" text-anchor="end" class="tk">0.08</text>
<text x="376.2" y="95.8" text-anchor="end" class="tk">0</text>
<text x="376.2" y="143.7" text-anchor="end" class="tk">-0.08</text>
<text transform="translate(370.2,94.5) rotate(-90)" text-anchor="middle" class="ay">Y</text>
<text x="382.9" y="151.8" text-anchor="middle" class="tk">-0.08</text>
<text x="432.4" y="151.8" text-anchor="middle" class="tk">0</text>
<text x="482" y="151.8" text-anchor="middle" class="tk">0.08</text>
<text x="432.4" y="160.9" text-anchor="middle" class="ax">X</text>
<text x="436.5" y="171.9" text-anchor="middle" class="lb">75% T</text>
<clipPath id="cp4"><polygon points="60.4,179.7 77.4,180.1 93.2,185 107.8,195.2 114.5,205.8 119.8,217.4 120.7,229.8 119.8,244.4 114.5,252.4 108.3,261.3 100.3,270.1 91.5,275.5 81.8,279 70.3,281.4 64.3,281 51,277.2 39.5,271.9 29.8,263.9 22.8,253.3 18.3,243.5 16.2,229.8 19.2,215.6 25.4,202.3 36,189.8"/></clipPath>
<g clip-path="url(#cp4)"><g filter="url(#bl)"><rect x="13.4" y="176.8" width="111.5" height="107.4" class="fg"/>
<g transform="translate(15.40,178.80) scale(1.0000,1.0127) translate(-15.50,-43.50)"><use href="#gA"/></g></g></g>
<rect x="15.4" y="178.8" width="107.5" height="103.4" fill="none" stroke="#6e6e6e" stroke-width="1"/>
<path d="M15.4 181.9h2M18.6 282.2v-2M15.4 230.5h2M69.2 282.2v-2M15.4 279.1h2M119.7 282.2v-2" stroke="#555" stroke-width=".6" fill="none"/>
<text x="12.9" y="183.1" text-anchor="end" class="tk">0.08</text>
<text x="12.9" y="231.7" text-anchor="end" class="tk">0</text>
<text x="12.9" y="280.3" text-anchor="end" class="tk">-0.08</text>
<text transform="translate(6.9,230.5) rotate(-90)" text-anchor="middle" class="ay">Y</text>
<text x="19.6" y="288.4" text-anchor="middle" class="tk">-0.08</text>
<text x="69.2" y="288.4" text-anchor="middle" class="tk">0</text>
<text x="118.7" y="288.4" text-anchor="middle" class="tk">0.08</text>
<text x="69.2" y="297.5" text-anchor="middle" class="ax">X</text>
<text x="71.2" y="308.4" text-anchor="middle" class="lb">100%T</text>
<clipPath id="cp5"><polygon points="183.6,179.7 200.5,180.1 216.3,185 230.8,195.2 237.6,205.8 242.8,217.4 243.7,229.8 242.8,244.4 237.6,252.4 231.3,261.3 223.4,270.1 214.6,275.5 204.9,279 193.5,281.4 187.4,281 174.2,277.2 162.7,271.9 153.1,263.9 146,253.3 141.6,243.5 139.5,229.8 142.5,215.6 148.6,202.3 159.2,189.8"/></clipPath>
<g clip-path="url(#cp5)"><g filter="url(#bl)"><rect x="136.7" y="176.8" width="111.2" height="107.4" class="fg"/>
<g transform="translate(138.70,178.80) scale(0.9972,1.0127) translate(-136.50,-43.50)"><use href="#gBP"/></g></g></g>
<rect x="138.7" y="178.8" width="107.2" height="103.4" fill="none" stroke="#6e6e6e" stroke-width="1"/>
<path d="M138.7 181.9h2M141.9 282.2v-2M138.7 230.5h2M192.3 282.2v-2M138.7 279.1h2M242.7 282.2v-2" stroke="#555" stroke-width=".6" fill="none"/>
<text x="136.2" y="183.1" text-anchor="end" class="tk">0.08</text>
<text x="136.2" y="231.7" text-anchor="end" class="tk">0</text>
<text x="136.2" y="280.3" text-anchor="end" class="tk">-0.08</text>
<text transform="translate(130.2,230.5) rotate(-90)" text-anchor="middle" class="ay">Y</text>
<text x="142.9" y="288.4" text-anchor="middle" class="tk">-0.08</text>
<text x="192.3" y="288.4" text-anchor="middle" class="tk">0</text>
<text x="241.7" y="288.4" text-anchor="middle" class="tk">0.08</text>
<text x="192.3" y="297.5" text-anchor="middle" class="ax">X</text>
<text x="191.4" y="308.4" text-anchor="middle" class="lb">125%T</text>
<clipPath id="cp6"><polygon points="303.5,178.2 320.5,178.6 336.3,183.5 350.9,193.7 357.6,204.3 362.9,215.9 363.8,228.3 362.9,243 357.6,251 351.4,259.9 343.4,268.7 334.6,274.1 324.9,277.6 313.4,280 307.4,279.6 294.1,275.8 282.6,270.5 272.9,262.5 265.9,251.9 261.4,242.1 259.3,228.3 262.3,214.1 268.5,200.8 279.1,188.3"/></clipPath>
<g clip-path="url(#cp6)"><g filter="url(#bl)"><rect x="256.5" y="175.3" width="111.5" height="107.5" class="fg"/>
<g transform="translate(258.50,177.30) scale(1.0000,1.0137) translate(-15.50,-43.50)"><use href="#gA"/></g></g></g>
<rect x="258.5" y="177.3" width="107.5" height="103.5" fill="none" stroke="#6e6e6e" stroke-width="1"/>
<path d="M258.5 180.4h2M261.7 280.8v-2M258.5 229.1h2M312.2 280.8v-2M258.5 277.7h2M362.8 280.8v-2" stroke="#555" stroke-width=".6" fill="none"/>
<text x="256" y="181.6" text-anchor="end" class="tk">0.08</text>
<text x="256" y="230.2" text-anchor="end" class="tk">0</text>
<text x="256" y="278.9" text-anchor="end" class="tk">-0.08</text>
<text transform="translate(250,229.1) rotate(-90)" text-anchor="middle" class="ay">Y</text>
<text x="262.7" y="287" text-anchor="middle" class="tk">-0.08</text>
<text x="312.2" y="287" text-anchor="middle" class="tk">0</text>
<text x="361.8" y="287" text-anchor="middle" class="tk">0.08</text>
<text x="312.2" y="296.1" text-anchor="middle" class="ax">X</text>
<text x="317.2" y="308.4" text-anchor="middle" class="lb">150%T</text>
<clipPath id="cp7"><polygon points="424.6,178.2 441.7,178.6 457.6,183.5 472.2,193.7 479,204.3 484.3,215.9 485.2,228.3 484.3,243 479,251 472.7,259.9 464.7,268.7 455.9,274.1 446.1,277.6 434.6,280 428.5,279.6 415.2,275.8 403.6,270.5 393.9,262.5 386.8,251.9 382.3,242.1 380.2,228.3 383.2,214.1 389.4,200.8 400.1,188.3"/></clipPath>
<g clip-path="url(#cp7)"><g filter="url(#bl)"><rect x="377.4" y="175.3" width="112" height="107.5" class="fg"/>
<g transform="translate(379.40,177.30) scale(1.0047,1.0137) translate(-136.50,-43.50)"><use href="#gB"/></g></g></g>
<rect x="379.4" y="177.3" width="108" height="103.5" fill="none" stroke="#6e6e6e" stroke-width="1"/>
<path d="M379.4 180.4h2M382.6 280.8v-2M379.4 229.1h2M433.4 280.8v-2M379.4 277.7h2M484.2 280.8v-2" stroke="#555" stroke-width=".6" fill="none"/>
<text x="376.9" y="181.6" text-anchor="end" class="tk">0.08</text>
<text x="376.9" y="230.2" text-anchor="end" class="tk">0</text>
<text x="376.9" y="278.9" text-anchor="end" class="tk">-0.08</text>
<text transform="translate(370.9,229.1) rotate(-90)" text-anchor="middle" class="ay">Y</text>
<text x="383.6" y="287" text-anchor="middle" class="tk">-0.08</text>
<text x="433.4" y="287" text-anchor="middle" class="tk">0</text>
<text x="483.2" y="287" text-anchor="middle" class="tk">0.08</text>
<text x="433.4" y="296.1" text-anchor="middle" class="ax">X</text>
<text x="438" y="308.4" text-anchor="middle" class="lb">175% T</text>

<text x="79.7" y="16.8" style="font-size:15.9px;fill:#111;stroke:#111;stroke-width:0.25">A cycle of change</text>
<path d="M15.6 41 L15.6 33.5 Q15.6 32 17.3 32 L129 32 Q131.3 32 131.8 21.5 Q132.3 32 134.6 32 L245.5 32 Q247.2 32 247.2 33.5 L247.2 41" fill="none" stroke="#ff3030" stroke-width="0.8"/>
<path d="M212 43.2 C222 30.5 250 23.2 300 22.4 C350 21.7 385 25 405.5 39.5 L405 40.1 C385 26.2 350 23 300 23.6 C255 24.5 230 31.5 218.5 43.2 Z" fill="#ff0000"/>
<path d="M409.6 42.8 L400.8 38.8 L406.8 34.4 Z" fill="#ff0000"/>
<text x="294.6" y="19.2" style="font-size:10px;fill:#111;stroke:#111;stroke-width:0.18">5 <tspan font-style="italic" dx="0.3">f</tspan><tspan dy="1.6" dx="0.3" style="font-size:6.4px">s</tspan><tspan dy="-1.6" dx="0.3"> increases</tspan></text>
<ellipse cx="183" cy="91.3" rx="21.4" ry="27.2" transform="rotate(-5 183 91.3)" fill="none" stroke="#0a3a0a" stroke-width="0.9"/>
<ellipse cx="217.8" cy="65.2" rx="12.2" ry="15" transform="rotate(8 217.8 65.2)" fill="none" stroke="#e81010" stroke-opacity="0.8" stroke-width="1"/>
<ellipse cx="234.2" cy="96.1" rx="14.9" ry="22.3" fill="none" stroke="#e81010" stroke-opacity="0.8" stroke-width="1"/>
<ellipse cx="460.7" cy="60.6" rx="11.6" ry="14.6" fill="none" stroke="#e81010" stroke-opacity="0.8" stroke-width="1"/>
<ellipse cx="472.9" cy="95.4" rx="16.4" ry="21" fill="none" stroke="#e81010" stroke-opacity="0.8" stroke-width="1"/>
<ellipse cx="185.4" cy="231.7" rx="21.8" ry="26.6" transform="rotate(-5 185.4 231.7)" fill="none" stroke="#0a3a0a" stroke-width="0.9"/>
<line x1="212.6" y1="145.6" x2="212.6" y2="179" stroke="#111" stroke-width="1.1"/>
<path d="M212.6 183.6 L210 177.4 L215.2 177.4 Z" fill="#111"/>
<text x="213.3" y="167.3" style="font-size:10px;fill:#111;stroke:#111;stroke-width:0.18">16 <tspan font-style="italic">f</tspan><tspan dy="1.6" style="font-size:6.4px">s</tspan><tspan dy="-1.6"> increases</tspan></text>

<rect x="497.3" y="43.3" width="20" height="238.4" fill="url(#cb)"/>
<path d="M517.8 48.3h3.4" stroke="#222" stroke-width=".9"/>
<text x="525.2" y="50.9" class="cb">0.010</text>
<path d="M517.8 76.9h3.4" stroke="#222" stroke-width=".9"/>
<text x="525.2" y="79.5" class="cb">0.008</text>
<path d="M517.8 105.5h3.4" stroke="#222" stroke-width=".9"/>
<text x="525.2" y="108.1" class="cb">0.005</text>
<path d="M517.8 134.1h3.4" stroke="#222" stroke-width=".9"/>
<text x="525.2" y="136.7" class="cb">0.003</text>
<path d="M517.8 162.7h3.4" stroke="#222" stroke-width=".9"/>
<text x="525.2" y="165.3" class="cb">0.000</text>
<path d="M517.8 191.3h3.4" stroke="#222" stroke-width=".9"/>
<text x="522.8" y="193.9" class="cb">-0.003</text>
<path d="M517.8 219.9h3.4" stroke="#222" stroke-width=".9"/>
<text x="522.8" y="222.5" class="cb">-0.005</text>
<path d="M517.8 248.5h3.4" stroke="#222" stroke-width=".9"/>
<text x="522.8" y="251.1" class="cb">-0.008</text>
<path d="M517.8 277.1h3.4" stroke="#222" stroke-width=".9"/>
<text x="522.8" y="279.7" class="cb">-0.010</text>
</svg></body></html>
